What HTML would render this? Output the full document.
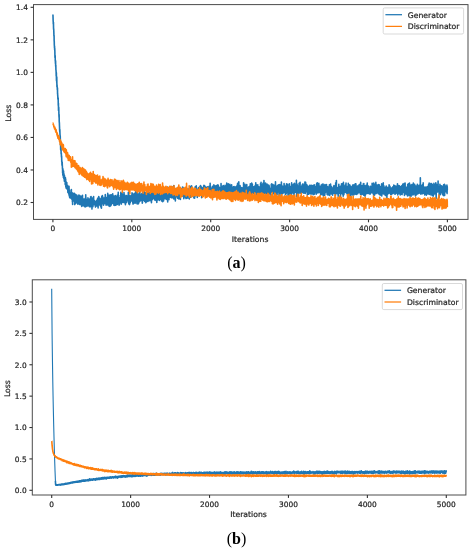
<!DOCTYPE html>
<html lang="en">
<head>
<meta charset="utf-8">
<title>Loss curves</title>
<style>
html,body{margin:0;padding:0;background:#fff;}
body{width:470px;height:550px;overflow:hidden;position:relative;}
svg{position:absolute;left:0;top:0;display:block;}
svg text{font-family:"DejaVu Sans","Liberation Sans",sans-serif;font-size:7.7px;fill:#262626;stroke:#262626;stroke-width:0.22px;}
svg text.tk{font-size:7.45px;}
svg text.cap{font-family:"Liberation Serif","DejaVu Serif",serif;font-size:16px;fill:#000;stroke:none;}
svg text.cap tspan{font-weight:bold;}
</style>
</head>
<body>
<svg width="470" height="550" viewBox="0 0 470 550">
<rect x="0" y="0" width="470" height="550" fill="#ffffff"/>
<g>
<polyline points="52.9,14.5 52.98,15.4 53.06,18.1 53.14,20.8 53.22,21.6 53.29,24.1 53.37,23.7 53.45,22.3 53.53,27.8 53.61,29.5 53.69,28.7 53.77,30.5 53.85,32.6 53.93,36.1 54,35.8 54.08,35.6 54.16,41.3 54.24,41 54.32,45.2 54.4,45.5 54.48,48 54.56,46.3 54.64,49.7 54.71,48 54.79,49.6 54.87,51.7 54.95,57.6 55.03,55.1 55.11,55.5 55.19,56.5 55.27,61.1 55.35,60.4 55.42,62.7 55.5,63.7 55.58,60.8 55.66,66.3 55.74,66 55.82,65.1 55.9,69.7 55.98,70 56.06,70.8 56.13,72.2 56.21,76 56.29,74.6 56.37,72.7 56.45,80.4 56.53,76.4 56.61,79.4 56.69,82.2 56.77,77.1 56.84,81.3 56.92,86.7 57,85.2 57.08,85 57.16,87.9 57.24,86.8 57.32,89.7 57.4,88.9 57.48,88 57.56,94 57.63,93.2 57.71,95.7 57.79,95.4 57.87,99.3 57.95,99.1 58.03,99.4 58.11,97.8 58.19,98.4 58.27,105.2 58.34,105.3 58.42,103.3 58.5,110.4 58.58,108.6 58.66,109.2 58.74,107.3 58.82,110.3 58.9,114.3 58.98,116 59.05,117.4 59.13,114.6 59.21,121 59.29,122.4 59.37,122.5 59.45,125.3 59.53,127 59.61,130.5 59.69,129.7 59.76,132.1 59.84,129.6 59.92,132.3 60,135.3 60.08,134.7 60.16,138.4 60.24,136.1 60.32,140 60.4,139.6 60.47,145.1 60.55,142.6 60.63,148.3 60.71,150.1 60.79,147.6 60.87,150 60.95,148.7 61.03,144.4 61.11,153.2 61.18,153.8 61.26,153 61.34,153.3 61.42,156 61.5,157.1 61.58,155.8 61.66,157.2 61.74,161.8 61.82,160.7 61.89,161.4 61.97,164.7 62.05,162.6 62.13,166 62.21,162.4 62.29,165.2 62.37,166.3 62.45,168.6 62.53,168.3 62.6,173.1 62.68,171.9 62.76,169.1 62.84,175.3 62.92,168.9 63,175.6 63.08,170.2 63.16,174.6 63.24,171.1 63.31,173.3 63.39,177.4 63.47,171.1 63.55,171 63.63,175.4 63.71,176.2 63.79,176.4 63.87,178.6 63.95,173.8 64.02,178.3 64.1,177.5 64.18,179.5 64.26,179.5 64.34,181.3 64.42,175.3 64.5,179.4 64.58,176.7 64.66,179.6 64.73,181.5 64.81,180.9 64.89,181.7 64.97,180.7 65.05,181.8 65.13,181.9 65.21,184.6 65.29,183.6 65.37,177.5 65.45,183.8 65.52,184.9 65.6,181.8 65.68,179.1 65.76,186.5 65.84,183.9 65.92,185.1 66,187.9 66.08,182.1 66.16,184.4 66.23,184.4 66.31,186.5 66.39,183.8 66.47,186.5 66.55,185.9 66.63,188.3 66.71,188.8 66.79,182.5 66.87,187.6 66.94,185.9 67.02,187 67.1,188.2 67.18,188.6 67.26,185.9 67.34,188.5 67.42,188.4 67.5,188.2 67.58,185.2 67.65,186.8 67.73,187.9 67.81,190.4 67.89,192.5 67.97,186.9 68.05,187 68.13,190.3 68.21,188.6 68.29,188.1 68.36,188.1 68.44,188.1 68.52,191.8 68.6,186.7 68.68,194 68.76,188.8 68.84,190 68.92,189.1 69,186.4 69.07,187.7 69.15,194.6 69.23,196 69.31,190 69.39,194.8 69.47,192.6 69.55,190.3 69.63,196.6 69.71,197.8 69.78,192.3 69.86,193.1 69.94,193.9 70.02,193.4 70.1,195.6 70.18,197.2 70.26,194.2 70.34,196.2 70.42,197.9 70.49,192.8 70.57,194.5 70.65,193.3 70.73,196.9 70.81,196.2 70.89,197.1 70.97,197 71.05,194.4 71.13,196.9 71.2,194.2 71.28,194.3 71.36,189.6 71.44,198.8 71.52,193.1 71.6,195.9 71.68,195.8 71.76,199.3 71.84,197.1 71.91,194 71.99,196.4 72.07,196 72.15,197 72.23,193.1 72.31,196.6 72.39,201.8 72.47,198.3 72.55,201.4 72.62,204.5 72.7,198.1 72.78,193.1 72.86,196.9 72.94,199.9 73.02,199.4 73.1,194 73.18,196.9 73.26,197.2 73.34,197.6 73.41,197.4 73.49,195.2 73.57,196 73.65,197.1 73.73,200.2 73.81,196.3 73.89,199.5 73.97,194.7 74.05,201 74.12,198.3 74.2,198.1 74.28,201.2 74.36,193.2 74.44,194 74.52,199.3 74.6,196.1 74.68,197.3 74.76,204.6 74.83,197.7 74.91,198.6 74.99,198.3 75.07,201.1 75.15,199.3 75.23,199.1 75.31,195.3 75.39,197.8 75.47,198.8 75.54,194.5 75.62,200.3 75.7,199.9 75.78,203.4 75.86,194.5 75.94,196.3 76.02,196.5 76.1,197.3 76.18,199 76.25,198.7 76.33,200 76.41,200 76.49,199.4 76.57,195.2 76.65,198 76.73,199.8 76.81,201.1 76.89,201.3 76.96,195.2 77.04,198.4 77.12,199.8 77.2,200.9 77.28,202.7 77.36,200.3 77.44,197.7 77.52,201.2 77.6,200.8 77.67,200.9 77.75,200.1 77.83,204.3 77.91,201.1 77.99,202.6 78.07,198 78.15,202.5 78.23,199 78.31,196.3 78.38,201.5 78.46,202.2 78.54,200.3 78.62,200.9 78.7,203.3 78.78,199.6 78.86,195 78.94,201.6 79.02,201.5 79.09,203.5 79.17,200.1 79.25,204.1 79.33,203.7 79.41,197.4 79.49,203.3 79.57,198 79.65,196.7 79.73,200.5 79.8,199.6 79.88,195.6 79.96,201.8 80.04,202.7 80.12,204.6 80.2,201.2 80.28,197.1 80.36,198.6 80.44,203.7 80.52,203.5 80.59,202.7 80.67,200.7 80.75,202 80.83,200.9 80.91,200.7 80.99,202.3 81.07,201.7 81.15,201 81.23,201.9 81.3,200.2 81.38,196.2 81.46,200 81.54,201.6 81.62,205.9 81.7,200.7 81.78,206.5 81.86,205.2 81.94,199.3 82.01,199.8 82.09,202.3 82.17,206 82.25,202.8 82.33,203.6 82.41,200.1 82.49,195.3 82.57,201.4 82.65,203.9 82.72,204.9 82.8,202.2 82.88,202.5 82.96,204.9 83.04,201.8 83.12,204.9 83.2,198.8 83.28,199 83.36,199 83.43,203.3 83.51,200.7 83.59,202.5 83.67,203.1 83.75,203 83.83,205.4 83.91,205.7 83.99,199.9 84.07,202.7 84.14,201.6 84.22,199.3 84.3,206.5 84.38,204.2 84.46,201.8 84.54,201.1 84.62,203.2 84.7,199.3 84.78,201.7 84.85,205.3 84.93,204.6 85.01,199.9 85.09,201 85.17,206.9 85.25,198.3 85.33,200.6 85.41,198.4 85.49,203.3 85.56,203.1 85.64,205.1 85.72,194.8 85.8,202.8 85.88,197.6 85.96,203.9 86.04,201.9 86.12,206.4 86.2,203.3 86.27,199.4 86.35,205.4 86.43,199.2 86.51,201.3 86.59,204.9 86.67,203.6 86.75,203.4 86.83,202.5 86.91,203.6 86.98,204.3 87.06,203.1 87.14,204.8 87.22,205.5 87.3,202.4 87.38,199.7 87.46,206 87.54,202.3 87.62,203.9 87.69,204.7 87.77,199.8 87.85,203.6 87.93,197.9 88.01,204.2 88.09,201.2 88.17,202.9 88.25,204.1 88.33,200.6 88.41,202.7 88.48,200.5 88.56,202.4 88.64,204.9 88.72,202.5 88.8,202.1 88.88,199.4 88.96,204.5 89.04,202.4 89.12,206.5 89.19,200.3 89.27,204.9 89.35,206.7 89.43,202.4 89.51,199 89.59,206 89.67,204.9 89.75,204.1 89.83,205 89.9,201.1 89.98,204.2 90.06,204 90.14,200.5 90.22,204.1 90.3,201 90.38,204.6 90.46,205.2 90.54,206.7 90.61,196.7 90.69,203 90.77,201.5 90.85,202.3 90.93,201.7 91.01,202.1 91.09,196.5 91.17,204.7 91.25,206 91.32,204.7 91.4,205.5 91.48,200 91.56,199.7 91.64,204.5 91.72,205.6 91.8,203 91.88,198 91.96,209.1 92.03,200.6 92.11,204.8 92.19,199.1 92.27,204.8 92.35,202.9 92.43,205.8 92.51,204.5 92.59,198 92.67,199.7 92.74,203.1 92.82,204.3 92.9,206.8 92.98,203.1 93.06,202.2 93.14,202.3 93.22,202.3 93.3,204.8 93.38,202.3 93.45,202.2 93.53,198.2 93.61,196.5 93.69,202.4 93.77,204 93.85,202.2 93.93,203.6 94.01,203.9 94.09,202.2 94.16,204.6 94.24,200.2 94.32,202.3 94.4,201.3 94.48,202.5 94.56,203.8 94.64,204.3 94.72,202.6 94.8,203.4 94.87,201.3 94.95,202 95.03,205.3 95.11,201.8 95.19,205.3 95.27,203.5 95.35,202.7 95.43,207.1 95.51,201.7 95.58,201.5 95.66,202.3 95.74,203 95.82,202.9 95.9,204.3 95.98,202.6 96.06,203.3 96.14,201.6 96.22,204.9 96.3,201.2 96.37,201.5 96.45,202.2 96.53,203 96.61,200.2 96.69,206 96.77,200.5 96.85,201.1 96.93,201 97.01,200.7 97.08,203.5 97.16,202.5 97.24,199.9 97.32,200.6 97.4,201.2 97.48,205.5 97.56,200.2 97.64,198.3 97.72,198.8 97.79,201.1 97.87,205.6 97.95,199 98.03,202.1 98.11,208 98.19,200.6 98.27,205.4 98.35,204.9 98.43,203.3 98.5,197.9 98.58,202.7 98.66,200.9 98.74,196.5 98.82,197 98.9,202 98.98,202.3 99.06,204.8 99.14,203.4 99.21,200.4 99.29,200.5 99.37,201.4 99.45,198.7 99.53,203.6 99.61,201.8 99.69,199.5 99.77,199.9 99.85,198.4 99.92,200.5 100,202.4 100.08,200.5 100.16,204.1 100.24,205.6 100.32,199.9 100.4,201.7 100.48,200.7 100.56,205.8 100.63,202.5 100.71,203 100.79,203.7 100.87,207.1 100.95,202.4 101.03,198.9 101.11,200.4 101.19,203 101.27,201.6 101.34,199.3 101.42,208.3 101.5,201.8 101.58,199.9 101.66,199.5 101.74,196.4 101.82,198.1 101.9,200.5 101.98,200.6 102.05,199.1 102.13,202.8 102.21,201.5 102.29,198.7 102.37,195.6 102.45,201.8 102.53,201.5 102.61,200.8 102.69,197.4 102.76,201.5 102.84,197 102.92,203.8 103,201.8 103.08,201.9 103.16,199 103.24,198.2 103.32,205.1 103.4,203.6 103.47,200.3 103.55,203 103.63,205.1 103.71,198.2 103.79,199.8 103.87,199.8 103.95,202.5 104.03,198.2 104.11,201.9 104.19,198 104.26,203.5 104.34,203.4 104.42,200.6 104.5,203 104.58,199.2 104.66,200.5 104.74,203.5 104.82,201 104.9,202.1 104.97,198.5 105.05,202.8 105.13,202.3 105.21,197.6 105.29,194.5 105.37,195.2 105.45,201 105.53,200.5 105.61,196.6 105.68,201.5 105.76,203.5 105.84,200.8 105.92,199.8 106,203.2 106.08,205.2 106.16,204.6 106.24,199.1 106.32,203 106.39,201.4 106.47,200.4 106.55,199.2 106.63,201.9 106.71,199.6 106.79,203.2 106.87,201.9 106.95,203.6 107.03,197.6 107.1,201.1 107.18,202.8 107.26,201.9 107.34,201.6 107.42,198.9 107.5,204.9 107.58,203.5 107.66,201.9 107.74,193.4 107.81,198.1 107.89,201.2 107.97,198.8 108.05,194.8 108.13,201.5 108.21,201.8 108.29,197.3 108.37,199.4 108.45,198.9 108.52,202.2 108.6,195.1 108.68,195.8 108.76,199.2 108.84,198.8 108.92,205.9 109,199 109.08,201.3 109.16,199.6 109.23,198.8 109.31,201.7 109.39,205 109.47,199.7 109.55,202.7 109.63,201.6 109.71,202.3 109.79,201.7 109.87,206.5 109.94,197.1 110.02,200 110.1,197.5 110.18,194.8 110.26,200.7 110.34,205.2 110.42,203 110.5,203.7 110.58,202 110.65,200.5 110.73,205.7 110.81,199.7 110.89,204.4 110.97,199.8 111.05,201 111.13,201.5 111.21,200.9 111.29,202 111.36,202.2 111.44,204.8 111.52,200.7 111.6,195.1 111.68,194.7 111.76,196.7 111.84,198.5 111.92,202.3 112,196.3 112.07,200.8 112.15,200.8 112.23,201.3 112.31,200.3 112.39,201.7 112.47,200.8 112.55,203.3 112.63,201.5 112.71,193.7 112.79,200.7 112.86,201.2 112.94,199 113.02,198.4 113.1,203.3 113.18,201.1 113.26,197.8 113.34,199.7 113.42,200.2 113.5,195.9 113.57,202.2 113.65,200.3 113.73,201.8 113.81,196 113.89,205.3 113.97,202.1 114.05,201.8 114.13,198.5 114.21,198.6 114.28,196.3 114.36,204.3 114.44,198.2 114.52,201.2 114.6,202.1 114.68,198.8 114.76,202.7 114.84,205.5 114.92,201.3 114.99,204.1 115.07,202 115.15,199.3 115.23,199.4 115.31,195.6 115.39,200.8 115.47,204.1 115.55,202.2 115.63,202.6 115.7,203.3 115.78,199 115.86,201.9 115.94,205.2 116.02,198.2 116.1,200.6 116.18,199.2 116.26,200 116.34,198.4 116.41,200.2 116.49,196.5 116.57,199 116.65,199.1 116.73,199 116.81,203.8 116.89,200.6 116.97,200.9 117.05,199.6 117.12,203.6 117.2,195.3 117.28,199.9 117.36,203.2 117.44,204.4 117.52,200.9 117.6,200.4 117.68,201.9 117.76,199.9 117.83,201.7 117.91,198.5 117.99,201.9 118.07,200.2 118.15,197.2 118.23,192.4 118.31,202.6 118.39,201.2 118.47,202.1 118.54,197.7 118.62,202.9 118.7,201.3 118.78,200.1 118.86,202.5 118.94,202.4 119.02,201.2 119.1,205.2 119.18,203.6 119.25,201 119.33,199.6 119.41,200.4 119.49,204.4 119.57,201.1 119.65,197.6 119.73,198.3 119.81,200.1 119.89,202.1 119.97,198 120.04,201.4 120.12,202.8 120.2,201.9 120.28,195.6 120.36,199.2 120.44,196.4 120.52,201.1 120.6,197.1 120.68,201.4 120.75,200.2 120.83,192.4 120.91,197.5 120.99,201.1 121.07,200 121.15,198.8 121.23,196.2 121.31,201 121.39,204.1 121.46,200.5 121.54,199.7 121.62,199.4 121.7,195.8 121.78,198.8 121.86,197.3 121.94,202.5 122.02,197.1 122.1,193.4 122.17,197.4 122.25,199 122.33,199.2 122.41,194.3 122.49,202 122.57,200 122.65,198.3 122.73,197.4 122.81,200.7 122.88,198.7 122.96,200.3 123.04,199.3 123.12,200 123.2,202.4 123.28,199.7 123.36,197 123.44,202 123.52,200.2 123.59,197.6 123.67,202.2 123.75,199 123.83,202.2 123.91,196.1 123.99,192.6 124.07,193.5 124.15,200.1 124.23,197.3 124.3,199.1 124.38,199.2 124.46,194.8 124.54,202.7 124.62,196.3 124.7,199.6 124.78,195.2 124.86,198.9 124.94,201.1 125.01,198.6 125.09,197.2 125.17,199.3 125.25,198 125.33,200.7 125.41,204.7 125.49,196.7 125.57,197.3 125.65,198.9 125.72,199.2 125.8,196.2 125.88,200.5 125.96,201.1 126.04,199.8 126.12,195.8 126.2,202.7 126.28,195.7 126.36,200.9 126.43,202 126.51,195.5 126.59,199.5 126.67,202.5 126.75,200.2 126.83,196.5 126.91,195.7 126.99,200.3 127.07,198 127.14,197.1 127.22,200.8 127.3,198.1 127.38,199.3 127.46,200.5 127.54,200.4 127.62,199 127.7,199.1 127.78,200.6 127.85,200.2 127.93,195.8 128.01,198.5 128.09,196.5 128.17,195.5 128.25,197.3 128.33,192.3 128.41,201.1 128.49,196.7 128.57,199.9 128.64,193.5 128.72,194 128.8,203.9 128.88,201.4 128.96,197 129.04,196.7 129.12,196.8 129.2,199.2 129.28,197.6 129.35,197 129.43,199.2 129.51,195.9 129.59,204.6 129.67,197.1 129.75,201.5 129.83,196.1 129.91,199.5 129.99,201.1 130.06,197.8 130.14,201.2 130.22,201.2 130.3,202.8 130.38,199 130.46,197.4 130.54,195.8 130.62,199.2 130.7,195.7 130.77,198.8 130.85,199.1 130.93,197.1 131.01,195.6 131.09,199.7 131.17,199.4 131.25,199.2 131.33,198.5 131.41,201 131.48,195.7 131.56,199.8 131.64,197.4 131.72,200.8 131.8,197.7 131.88,197.6 131.96,199.8 132.04,192.7 132.12,197.6 132.19,193.4 132.27,195.8 132.35,200.3 132.43,199.6 132.51,197.4 132.59,198.5 132.67,198.5 132.75,199.4 132.83,203.1 132.9,199.2 132.98,204.1 133.06,197.5 133.14,200.4 133.22,200.4 133.3,199.1 133.38,197.8 133.46,202.1 133.54,202.9 133.61,201.2 133.69,203.6 133.77,200.9 133.85,193.8 133.93,201.1 134.01,196.6 134.09,201.9 134.17,197.6 134.25,199.3 134.32,198.6 134.4,196.8 134.48,193.2 134.56,197.9 134.64,198.1 134.72,200.9 134.8,196.7 134.88,199 134.96,195.9 135.03,198.5 135.11,193.2 135.19,203.3 135.27,199.1 135.35,195.7 135.43,199.2 135.51,200.3 135.59,199 135.67,201.8 135.75,198 135.82,191 135.9,194.9 135.98,201.1 136.06,200.5 136.14,199.3 136.22,195.3 136.3,200.3 136.38,200 136.46,195.6 136.53,195.7 136.61,199.2 136.69,201 136.77,202.1 136.85,200 136.93,203.7 137.01,196 137.09,199.8 137.17,196.8 137.24,192.6 137.32,194.7 137.4,201 137.48,195.6 137.56,194.7 137.64,200 137.72,200.5 137.8,198.4 137.88,202.1 137.95,193.7 138.03,204.1 138.11,200.8 138.19,198.8 138.27,198.7 138.35,197.6 138.43,197.3 138.51,198.6 138.59,194.6 138.66,203.3 138.74,198.1 138.82,199.8 138.9,197.6 138.98,197.4 139.06,200.3 139.14,199.6 139.22,195.6 139.3,196.9 139.37,199.7 139.45,191.8 139.53,191 139.61,201.6 139.69,197 139.77,190.4 139.85,195.6 139.93,197.3 140.01,198.4 140.08,199.2 140.16,198.4 140.24,199.3 140.32,195.6 140.4,198.9 140.48,199 140.56,200.8 140.64,198 140.72,200.1 140.79,198.3 140.87,194.7 140.95,196.7 141.03,196.3 141.11,196.7 141.19,197.6 141.27,198.1 141.35,198.5 141.43,195.5 141.5,200.4 141.58,193.7 141.66,197.6 141.74,199.6 141.82,198.9 141.9,199.4 141.98,197.2 142.06,199.5 142.14,194.3 142.21,199.6 142.29,203.3 142.37,199.5 142.45,202.6 142.53,197.8 142.61,194.5 142.69,195.7 142.77,200.9 142.85,199.5 142.92,192.3 143,196.7 143.08,197.6 143.16,194.4 143.24,190.2 143.32,193.7 143.4,197.1 143.48,196.5 143.56,195.7 143.63,199.1 143.71,200.1 143.79,197.4 143.87,199.9 143.95,197.7 144.03,197.2 144.11,190.5 144.19,199.6 144.27,197.8 144.35,197.9 144.42,196.1 144.5,194.3 144.58,198.7 144.66,199.5 144.74,201.5 144.82,199.7 144.9,195.8 144.98,197.3 145.06,199.9 145.13,198.3 145.21,197.3 145.29,195.9 145.37,198.8 145.45,198 145.53,201.8 145.61,200.2 145.69,192.5 145.77,202.7 145.84,198.1 145.92,196.6 146,198.2 146.08,199.3 146.16,197.4 146.24,197.3 146.32,197.5 146.4,201.9 146.48,197.6 146.55,199.3 146.63,198.6 146.71,196.5 146.79,195.3 146.87,194.5 146.95,198.4 147.03,194.4 147.11,193.6 147.19,193.8 147.26,193 147.34,197.5 147.42,197.6 147.5,194.7 147.58,200.5 147.66,196.5 147.74,198.4 147.82,198 147.9,201.4 147.97,199.3 148.05,197.1 148.13,194.4 148.21,194.1 148.29,197.2 148.37,197.5 148.45,199.1 148.53,195.8 148.61,197.6 148.68,195.2 148.76,191.7 148.84,197.1 148.92,200.7 149,199.1 149.08,200.6 149.16,199.9 149.24,193 149.32,196.3 149.39,200.7 149.47,195 149.55,193.1 149.63,197.8 149.71,198.6 149.79,197.7 149.87,196 149.95,194.9 150.03,193.3 150.1,193.2 150.18,193.3 150.26,192.7 150.34,194.8 150.42,200.6 150.5,197.1 150.58,195.9 150.66,197.7 150.74,194 150.81,197.7 150.89,199.1 150.97,192.4 151.05,194.8 151.13,196.1 151.21,194 151.29,193.5 151.37,195.7 151.45,202.8 151.53,198.4 151.6,197.8 151.68,199.1 151.76,196.1 151.84,193.1 151.92,197.9 152,199.5 152.08,190.5 152.16,197.8 152.24,199.7 152.31,195.9 152.39,195.3 152.47,198.3 152.55,194.2 152.63,197.8 152.71,198.9 152.79,196 152.87,194.2 152.95,198.1 153.02,195.5 153.1,196.8 153.18,188 153.26,198.3 153.34,192.3 153.42,196.6 153.5,196.8 153.58,194.3 153.66,193.8 153.73,192.7 153.81,195.5 153.89,197.9 153.97,197.8 154.05,194.9 154.13,194.7 154.21,192.2 154.29,195.2 154.37,193.2 154.44,191.8 154.52,195.9 154.6,200 154.68,199.3 154.76,199.9 154.84,191.6 154.92,198.4 155,192.6 155.08,194.6 155.15,191.2 155.23,193.3 155.31,196.6 155.39,196.8 155.47,196 155.55,195.7 155.63,197.6 155.71,196.3 155.79,191.4 155.86,200.4 155.94,195.5 156.02,198.5 156.1,195.7 156.18,193.7 156.26,196.3 156.34,193.9 156.42,200.1 156.5,192.8 156.57,197.7 156.65,194.3 156.73,195.6 156.81,202.5 156.89,198 156.97,195.5 157.05,191.4 157.13,195.2 157.21,195.3 157.28,199.6 157.36,191.8 157.44,190.6 157.52,196 157.6,196.6 157.68,200 157.76,193.4 157.84,187.9 157.92,193.9 157.99,192.2 158.07,194.4 158.15,198.4 158.23,192 158.31,199 158.39,196.5 158.47,195.1 158.55,193.3 158.63,194.7 158.7,194.8 158.78,197.8 158.86,199.1 158.94,195.7 159.02,197.7 159.1,199.1 159.18,199 159.26,197.1 159.34,200.4 159.41,199.2 159.49,199.9 159.57,195.3 159.65,194.6 159.73,189.8 159.81,199.5 159.89,197.5 159.97,193.1 160.05,196.3 160.13,196.6 160.2,190.6 160.28,196.6 160.36,198.6 160.44,199 160.52,194.7 160.6,194.8 160.68,199.1 160.76,198.2 160.84,194.1 160.91,194 160.99,197.3 161.07,193.8 161.15,194 161.23,200.1 161.31,196.4 161.39,194.4 161.47,197.1 161.55,200.9 161.62,196.3 161.7,193.4 161.78,190.9 161.86,201 161.94,187.7 162.02,198.4 162.1,192.7 162.18,191.9 162.26,192.6 162.33,195.1 162.41,198.4 162.49,193.7 162.57,197.3 162.65,201.8 162.73,187 162.81,193.4 162.89,190 162.97,197.7 163.04,191.1 163.12,190.7 163.2,190.8 163.28,195.5 163.36,198.4 163.44,195.9 163.52,200.9 163.6,199.6 163.68,195.2 163.75,197.9 163.83,195.8 163.91,195.7 163.99,189.6 164.07,191.5 164.15,195.5 164.23,191.7 164.31,197.3 164.39,196.2 164.46,192.6 164.54,198.4 164.62,196 164.7,198.6 164.78,195 164.86,190.4 164.94,197.2 165.02,194.6 165.1,197.5 165.17,198.1 165.25,198.3 165.33,190.9 165.41,188.2 165.49,193.8 165.57,197 165.65,193.1 165.73,196 165.81,192.8 165.88,194.3 165.96,194.4 166.04,193.4 166.12,196.6 166.2,196.2 166.28,199.4 166.36,196.2 166.44,198.7 166.52,195.5 166.59,197.5 166.67,194.8 166.75,193.8 166.83,198.6 166.91,197.1 166.99,197.4 167.07,192.8 167.15,190 167.23,192.5 167.31,195.9 167.38,190.7 167.46,198.8 167.54,190.5 167.62,196.7 167.7,201.9 167.78,187.1 167.86,190.3 167.94,197.6 168.02,194.5 168.09,195.5 168.17,194.7 168.25,198.6 168.33,196.6 168.41,193.6 168.49,194.3 168.57,191.3 168.65,194.7 168.73,187.9 168.8,196.7 168.88,194.1 168.96,199.6 169.04,198 169.12,190.9 169.2,197.2 169.28,193.3 169.36,195 169.44,197.4 169.51,195.7 169.59,196.1 169.67,196 169.75,192.6 169.83,192.9 169.91,196.2 169.99,197 170.07,194 170.15,195 170.22,191.7 170.3,186.8 170.38,192.2 170.46,194.9 170.54,195.2 170.62,196.9 170.7,197 170.78,197.2 170.86,195.7 170.93,195.8 171.01,192.5 171.09,195.7 171.17,195.2 171.25,197.7 171.33,189.7 171.41,193.2 171.49,189.3 171.57,192.3 171.64,190.2 171.72,195.3 171.8,192.5 171.88,186.5 171.96,197.6 172.04,191.1 172.12,189.5 172.2,193.3 172.28,192.3 172.35,190.7 172.43,196.2 172.51,193.3 172.59,196.8 172.67,196.3 172.75,196.1 172.83,194.9 172.91,194.1 172.99,193.1 173.06,198.1 173.14,188.4 173.22,191 173.3,192.3 173.38,195.4 173.46,194.7 173.54,192.8 173.62,193.2 173.7,198.7 173.77,192.2 173.85,185.5 173.93,199.1 174.01,191.4 174.09,193.3 174.17,194.7 174.25,190.2 174.33,197.4 174.41,193.9 174.48,189.9 174.56,194.9 174.64,195.4 174.72,194 174.8,195.5 174.88,189.6 174.96,196.6 175.04,191.6 175.12,197.5 175.19,192.3 175.27,194.6 175.35,200.9 175.43,194.3 175.51,197 175.59,195.4 175.67,189.5 175.75,197.1 175.83,197 175.91,189.8 175.98,193.9 176.06,189.5 176.14,193.2 176.22,196.5 176.3,194.4 176.38,190.4 176.46,191.3 176.54,194.2 176.62,194 176.69,194.5 176.77,195.6 176.85,188.2 176.93,194.1 177.01,197 177.09,195.4 177.17,191.9 177.25,192.1 177.33,194.5 177.4,195.8 177.48,194 177.56,198.3 177.64,197.4 177.72,191.6 177.8,195.3 177.88,192.9 177.96,190.3 178.04,192 178.11,194 178.19,187.5 178.27,192 178.35,194.9 178.43,191.8 178.51,192.7 178.59,196.2 178.67,193.8 178.75,194.4 178.82,199 178.9,194.4 178.98,194.7 179.06,195.1 179.14,198.1 179.22,194.8 179.3,194 179.38,193.6 179.46,196.8 179.53,192 179.61,197 179.69,194.5 179.77,189.9 179.85,195.6 179.93,195.2 180.01,190.6 180.09,194.8 180.17,194.6 180.24,193.2 180.32,190.6 180.4,199.4 180.48,195.9 180.56,196.4 180.64,196.6 180.72,196 180.8,195.9 180.88,192.9 180.95,196 181.03,193.4 181.11,192.5 181.19,195.6 181.27,193.3 181.35,188.7 181.43,192.7 181.51,195.3 181.59,193.9 181.66,196 181.74,192.9 181.82,191 181.9,195.8 181.98,194.2 182.06,190.3 182.14,194.9 182.22,193.1 182.3,196.2 182.37,195.7 182.45,194.9 182.53,187.1 182.61,194.6 182.69,194.9 182.77,195 182.85,194 182.93,191.6 183.01,193 183.09,187.4 183.16,192.9 183.24,189.2 183.32,192.7 183.4,191.7 183.48,197.1 183.56,193.8 183.64,193.7 183.72,194.1 183.8,198.8 183.87,190.9 183.95,194.4 184.03,194.6 184.11,194.1 184.19,194 184.27,192.2 184.35,196.6 184.43,195.7 184.51,192.6 184.58,193 184.66,194.4 184.74,194.8 184.82,195.5 184.9,193.5 184.98,189.8 185.06,196 185.14,188.8 185.22,190.8 185.29,194.5 185.37,191 185.45,197 185.53,197.6 185.61,196.5 185.69,194.3 185.77,194.1 185.85,194.6 185.93,193 186,198.6 186.08,191.8 186.16,196.8 186.24,194.9 186.32,194.3 186.4,196.1 186.48,196.6 186.56,195.7 186.64,193.3 186.71,191.5 186.79,191.5 186.87,195.7 186.95,195.2 187.03,195.5 187.11,191.8 187.19,198.2 187.27,189.5 187.35,194.4 187.42,195.1 187.5,192.1 187.58,190 187.66,192.1 187.74,190 187.82,192.7 187.9,189.4 187.98,189.4 188.06,193.4 188.13,188.8 188.21,192.6 188.29,192.8 188.37,195.4 188.45,193.8 188.53,190.7 188.61,196.3 188.69,191.1 188.77,192 188.84,192.2 188.92,198.5 189,193.3 189.08,191.1 189.16,194.9 189.24,192.7 189.32,198.9 189.4,191 189.48,194.6 189.55,190.4 189.63,197.5 189.71,190.9 189.79,193.5 189.87,190.5 189.95,195.2 190.03,194.5 190.11,186.2 190.19,195 190.26,194.7 190.34,193.6 190.42,195.4 190.5,189.3 190.58,187.7 190.66,194.6 190.74,197.1 190.82,189.3 190.9,189.5 190.97,190.4 191.05,189.4 191.13,195 191.21,193.2 191.29,196.2 191.37,196.3 191.45,189.9 191.53,194.5 191.61,185.9 191.69,192.6 191.76,194.4 191.84,190.4 191.92,187.3 192,191.3 192.08,195.8 192.16,191.6 192.24,188.6 192.32,193.9 192.4,194.6 192.47,189.7 192.55,192.3 192.63,195.4 192.71,193.6 192.79,194.6 192.87,191.8 192.95,192.3 193.03,189.2 193.11,190.5 193.18,196.5 193.26,191.4 193.34,189.9 193.42,191.3 193.5,189.5 193.58,194 193.66,195 193.74,189.8 193.82,195.2 193.89,197.9 193.97,189.5 194.05,194.4 194.13,193.3 194.21,196 194.29,195.8 194.37,195.4 194.45,193.4 194.53,191.4 194.6,198.2 194.68,190.3 194.76,195.4 194.84,195.1 194.92,190.5 195,192.7 195.08,196.3 195.16,186.9 195.24,194.6 195.31,191.7 195.39,191.9 195.47,188.2 195.55,193.6 195.63,189.4 195.71,194.3 195.79,189.1 195.87,194.3 195.95,193.3 196.02,186.7 196.1,191.5 196.18,192.1 196.26,185.7 196.34,191.3 196.42,194.4 196.5,190.2 196.58,195.3 196.66,189 196.73,188.7 196.81,193.8 196.89,193.9 196.97,191.8 197.05,192.3 197.13,194.7 197.21,190.6 197.29,197.4 197.37,193.4 197.44,193.3 197.52,193 197.6,191.4 197.68,195.3 197.76,190.5 197.84,192.7 197.92,193.9 198,195.6 198.08,195.2 198.15,191.2 198.23,194.6 198.31,192 198.39,189 198.47,189.1 198.55,187.5 198.63,192.9 198.71,194.9 198.79,189.1 198.87,191.3 198.94,188.8 199.02,192.1 199.1,188.6 199.18,189.6 199.26,190 199.34,190.6 199.42,190.9 199.5,191.4 199.58,191.5 199.65,189.2 199.73,193.4 199.81,186.9 199.89,192.4 199.97,189.1 200.05,192.3 200.13,192.7 200.21,186 200.29,192.8 200.36,195.2 200.44,193.8 200.52,192.8 200.6,185.6 200.68,191.4 200.76,189.2 200.84,194.5 200.92,191 201,190 201.07,186.6 201.15,193.7 201.23,190.2 201.31,191.1 201.39,194.5 201.47,192 201.55,192.6 201.63,197.7 201.71,190.2 201.78,190.3 201.86,193 201.94,195.3 202.02,187.5 202.1,191.1 202.18,188.9 202.26,187.7 202.34,193.2 202.42,189.5 202.49,192.5 202.57,192.1 202.65,192.1 202.73,191.9 202.81,188.6 202.89,191.5 202.97,192.3 203.05,192.6 203.13,190.9 203.2,194.1 203.28,193.1 203.36,192 203.44,193.3 203.52,192.1 203.6,193.4 203.68,185.8 203.76,187.8 203.84,190.5 203.91,192 203.99,185.2 204.07,190.8 204.15,192 204.23,190.9 204.31,190.9 204.39,187.6 204.47,191.8 204.55,185.5 204.62,194 204.7,189.7 204.78,194.2 204.86,186.3 204.94,192.6 205.02,191.9 205.1,189 205.18,188 205.26,194.5 205.33,192.6 205.41,195.2 205.49,191.3 205.57,192 205.65,192.6 205.73,193.4 205.81,192.7 205.89,193.5 205.97,190.1 206.04,187.1 206.12,196.5 206.2,192 206.28,192.7 206.36,190.2 206.44,194 206.52,192 206.6,194.2 206.68,189.6 206.75,191.4 206.83,192 206.91,190.5 206.99,192.2 207.07,195.5 207.15,189.8 207.23,190.8 207.31,192 207.39,188.7 207.47,187.9 207.54,194.3 207.62,193.5 207.7,186.9 207.78,187.3 207.86,193.4 207.94,194.5 208.02,193.2 208.1,192.8 208.18,195.5 208.25,191.5 208.33,194.7 208.41,194.5 208.49,188.8 208.57,193.2 208.65,191.7 208.73,189.6 208.81,189.1 208.89,192.4 208.96,191.4 209.04,193.6 209.12,186.3 209.2,189.6 209.28,194.2 209.36,191.5 209.44,189.4 209.52,190.1 209.6,186 209.67,187.4 209.75,192.8 209.83,191.7 209.91,194.6 209.99,190.7 210.07,191 210.15,183.3 210.23,191.2 210.31,196.6 210.38,193.1 210.46,191.1 210.54,194.5 210.62,193.6 210.7,192.3 210.78,190.4 210.86,191.8 210.94,193.6 211.02,189.1 211.09,192.8 211.17,192.7 211.25,194.8 211.33,193.4 211.41,189.4 211.49,195.4 211.57,191.6 211.65,189.2 211.73,192.3 211.8,190.7 211.88,194.1 211.96,187.4 212.04,188.1 212.12,190.7 212.2,195.7 212.28,193.9 212.36,188.4 212.44,186.2 212.51,190.5 212.59,187.6 212.67,192.8 212.75,191.8 212.83,191.3 212.91,190.1 212.99,195.1 213.07,188.5 213.15,187.4 213.22,194.2 213.3,194.7 213.38,190.3 213.46,192.9 213.54,197.2 213.62,188.9 213.7,190.8 213.78,192.5 213.86,184.9 213.93,190.9 214.01,193.1 214.09,191 214.17,193.8 214.25,193.2 214.33,190.1 214.41,192.6 214.49,192.4 214.57,186.2 214.65,188.7 214.72,188.8 214.8,189.7 214.88,189.8 214.96,186.9 215.04,191.3 215.12,185.7 215.2,193.6 215.28,191.9 215.36,194.6 215.43,192.1 215.51,189.7 215.59,186.9 215.67,192.8 215.75,191.2 215.83,192.1 215.91,193 215.99,194.1 216.07,191 216.14,195.5 216.22,190.9 216.3,191.1 216.38,192.8 216.46,193.7 216.54,194.6 216.62,185.5 216.7,194.5 216.78,186.5 216.85,189.4 216.93,192.1 217.01,194 217.09,188 217.17,185.9 217.25,193.4 217.33,191.9 217.41,188 217.49,190.1 217.56,185.1 217.64,192.5 217.72,189.5 217.8,194.2 217.88,184.8 217.96,192.9 218.04,196.6 218.12,191.4 218.2,191.4 218.27,185.3 218.35,191.9 218.43,191.1 218.51,189.3 218.59,186.3 218.67,191.2 218.75,188 218.83,189.5 218.91,191.8 218.98,190.8 219.06,191 219.14,193.3 219.22,187.4 219.3,194.5 219.38,187.5 219.46,188.2 219.54,191.3 219.62,192.9 219.69,191.6 219.77,189.6 219.85,188.8 219.93,190.2 220.01,188 220.09,192.4 220.17,190.3 220.25,194.9 220.33,188.7 220.4,190.5 220.48,192 220.56,187.5 220.64,188.9 220.72,197.9 220.8,190.9 220.88,194.6 220.96,187.8 221.04,183.5 221.11,192.3 221.19,190.7 221.27,191.6 221.35,189.9 221.43,189 221.51,187.1 221.59,193.4 221.67,186.2 221.75,193.3 221.82,190.1 221.9,187.5 221.98,188.8 222.06,193.3 222.14,192.7 222.22,192.1 222.3,191.1 222.38,187.5 222.46,194.1 222.53,189.5 222.61,189.1 222.69,189.2 222.77,189.5 222.85,186.3 222.93,189.4 223.01,188.3 223.09,189.2 223.17,185.5 223.25,195.6 223.32,187 223.4,191.5 223.48,191.6 223.56,193.3 223.64,195.5 223.72,191.8 223.8,192.6 223.88,189.4 223.96,194.5 224.03,186.6 224.11,190 224.19,191.5 224.27,192.6 224.35,192.8 224.43,193.6 224.51,192.2 224.59,190.8 224.67,191.3 224.74,194.3 224.82,191.5 224.9,193 224.98,190.3 225.06,185.2 225.14,188.9 225.22,191.6 225.3,194.8 225.38,194.3 225.45,195 225.53,188.6 225.61,192.7 225.69,190.6 225.77,192.3 225.85,190.5 225.93,186.6 226.01,192.5 226.09,191.6 226.16,192.8 226.24,188.1 226.32,193.3 226.4,193.6 226.48,194.2 226.56,194.2 226.64,189.3 226.72,183 226.8,193.2 226.87,187.9 226.95,190 227.03,193.5 227.11,191.4 227.19,191.3 227.27,192.4 227.35,184.9 227.43,195.4 227.51,189.6 227.58,189.7 227.66,192.2 227.74,190.3 227.82,188.1 227.9,190.3 227.98,189.5 228.06,188.6 228.14,195.7 228.22,186.3 228.29,183.8 228.37,187.7 228.45,187.6 228.53,194.2 228.61,191 228.69,192.7 228.77,192.1 228.85,187.8 228.93,192.7 229,191 229.08,195.4 229.16,191.1 229.24,190.4 229.32,192.4 229.4,192.4 229.48,185 229.56,193.6 229.64,193.2 229.71,192.6 229.79,187 229.87,184.3 229.95,189.6 230.03,192.4 230.11,191.7 230.19,187.4 230.27,192.9 230.35,186.3 230.43,186.4 230.5,190.4 230.58,188.7 230.66,188.4 230.74,185.9 230.82,193.2 230.9,187.1 230.98,191.5 231.06,192.5 231.14,190.3 231.21,191.1 231.29,193 231.37,194.5 231.45,192.9 231.53,186.2 231.61,184.7 231.69,188.6 231.77,187 231.85,191.9 231.92,190.8 232,189.7 232.08,193.2 232.16,193 232.24,190.3 232.32,191.3 232.4,193.2 232.48,189.4 232.56,191.2 232.63,187.5 232.71,190.6 232.79,191.3 232.87,190.2 232.95,191 233.03,192.2 233.11,191.5 233.19,188.3 233.27,188.6 233.34,186.7 233.42,194.7 233.5,191.5 233.58,191.5 233.66,190 233.74,191.6 233.82,191.8 233.9,188.2 233.98,190 234.05,193.4 234.13,186.5 234.21,187.5 234.29,191.9 234.37,188 234.45,192.3 234.53,187.1 234.61,191 234.69,192.5 234.76,191.4 234.84,192.4 234.92,189.9 235,189.9 235.08,190.4 235.16,191.8 235.24,199.5 235.32,190.2 235.4,195.1 235.47,189.7 235.55,187.1 235.63,189.6 235.71,191.4 235.79,190.9 235.87,190.8 235.95,191.8 236.03,191.9 236.11,192.7 236.18,186.9 236.26,190.5 236.34,187.6 236.42,191 236.5,190.2 236.58,190.8 236.66,189 236.74,187.9 236.82,189.7 236.89,192.1 236.97,192.3 237.05,185.4 237.13,191.1 237.21,191.1 237.29,186 237.37,187.1 237.45,188.8 237.53,191.4 237.6,183.3 237.68,189.2 237.76,188.7 237.84,190.8 237.92,193.9 238,193.7 238.08,189.2 238.16,189.2 238.24,191 238.31,193.3 238.39,193.9 238.47,191.2 238.55,194 238.63,187.7 238.71,186.9 238.79,181.9 238.87,187.7 238.95,191.8 239.03,192.5 239.1,198.9 239.18,191.8 239.26,190.8 239.34,187.4 239.42,188.5 239.5,188.6 239.58,189.7 239.66,188.4 239.74,186 239.81,193 239.89,191.5 239.97,193.8 240.05,185.5 240.13,186.4 240.21,188.1 240.29,193.3 240.37,189.8 240.45,190.9 240.52,190.1 240.6,190.8 240.68,188.8 240.76,191.3 240.84,187.7 240.92,189.6 241,191 241.08,190.6 241.16,191.4 241.23,187.9 241.31,191 241.39,189.4 241.47,191.3 241.55,194 241.63,187.6 241.71,192.9 241.79,188.3 241.87,189 241.94,194.4 242.02,192.6 242.1,191.6 242.18,192.3 242.26,193.2 242.34,188.1 242.42,190.9 242.5,189.1 242.58,191.3 242.65,189.4 242.73,192.1 242.81,190.3 242.89,188.5 242.97,190.1 243.05,191.4 243.13,192.9 243.21,189.8 243.29,189.2 243.36,190.9 243.44,192.2 243.52,188.6 243.6,182.8 243.68,191 243.76,189.2 243.84,189.1 243.92,196.6 244,189.9 244.07,192 244.15,186.1 244.23,190.9 244.31,192.2 244.39,190.8 244.47,189.7 244.55,191.6 244.63,190.4 244.71,193.6 244.78,190.8 244.86,187.9 244.94,184.3 245.02,188.1 245.1,189.4 245.18,186.7 245.26,187.2 245.34,185.2 245.42,187 245.49,190.5 245.57,189.4 245.65,189.7 245.73,189.3 245.81,189.6 245.89,192.1 245.97,195.4 246.05,191.9 246.13,195.2 246.21,190 246.28,190.2 246.36,194.3 246.44,188.1 246.52,187.6 246.6,189.9 246.68,185.2 246.76,184.6 246.84,193.2 246.92,187.1 246.99,188.9 247.07,188.9 247.15,187.4 247.23,192 247.31,191.6 247.39,192.2 247.47,192 247.55,190.4 247.63,193.8 247.7,192.8 247.78,188.4 247.86,190.3 247.94,189 248.02,194.8 248.1,192.1 248.18,191.5 248.26,190.1 248.34,191.6 248.41,187.4 248.49,190.3 248.57,190.1 248.65,190.1 248.73,188 248.81,191.3 248.89,186.8 248.97,188.8 249.05,189.7 249.12,190 249.2,188.6 249.28,187.1 249.36,187.3 249.44,189 249.52,187.5 249.6,189.8 249.68,186.4 249.76,190.2 249.83,195.3 249.91,186.1 249.99,189.8 250.07,193 250.15,190.6 250.23,192.3 250.31,183.8 250.39,188.6 250.47,194 250.54,188.5 250.62,191.1 250.7,184.4 250.78,192.7 250.86,195.7 250.94,189.9 251.02,191 251.1,191.2 251.18,195.4 251.25,188.8 251.33,185.1 251.41,194.8 251.49,186.6 251.57,191.5 251.65,183.1 251.73,188.8 251.81,190.6 251.89,186.8 251.96,188.5 252.04,191.6 252.12,188 252.2,191.4 252.28,194.5 252.36,184 252.44,191 252.52,191.6 252.6,189.1 252.67,194 252.75,193.4 252.83,191.3 252.91,191.4 252.99,189.9 253.07,186.7 253.15,191.3 253.23,188.6 253.31,188.3 253.38,192.8 253.46,189.4 253.54,192.4 253.62,186.9 253.7,188.7 253.78,190 253.86,193.4 253.94,189.7 254.02,192 254.09,188 254.17,190.4 254.25,192.1 254.33,187.3 254.41,187.9 254.49,191.5 254.57,186.6 254.65,190.8 254.73,190.8 254.81,189.7 254.88,191.9 254.96,191.2 255.04,190.5 255.12,185.5 255.2,185.6 255.28,190.7 255.36,185.2 255.44,190.2 255.52,188.9 255.59,187.4 255.67,189.2 255.75,182.8 255.83,189.3 255.91,193 255.99,186.1 256.07,191.1 256.15,190.8 256.23,197.4 256.3,187.1 256.38,187.6 256.46,187.7 256.54,187.1 256.62,185 256.7,190.2 256.78,187.2 256.86,191.9 256.94,190.9 257.01,186.9 257.09,188.9 257.17,193.3 257.25,189 257.33,190.5 257.41,192.1 257.49,188.7 257.57,191 257.65,193.9 257.72,192.8 257.8,184.7 257.88,193.8 257.96,189.4 258.04,188.2 258.12,188.1 258.2,193.1 258.28,190.8 258.36,189.6 258.43,187.6 258.51,191.6 258.59,192.9 258.67,187 258.75,186.7 258.83,188.9 258.91,191.5 258.99,188.8 259.07,189.7 259.14,187.5 259.22,193.1 259.3,189.7 259.38,190.4 259.46,192.8 259.54,189.4 259.62,189.9 259.7,191 259.78,188.8 259.85,193.5 259.93,190.1 260.01,188.7 260.09,189.2 260.17,186.8 260.25,193 260.33,193.7 260.41,189.3 260.49,188.6 260.56,183.6 260.64,188.2 260.72,192.2 260.8,187.6 260.88,192.1 260.96,193.7 261.04,182.2 261.12,189 261.2,187.9 261.27,188.3 261.35,184.6 261.43,189.1 261.51,186.3 261.59,192.5 261.67,193.4 261.75,185.7 261.83,185.6 261.91,188.5 261.99,189.3 262.06,189.5 262.14,191.7 262.22,185.4 262.3,188 262.38,188.5 262.46,188.9 262.54,186.8 262.62,188.5 262.7,187.7 262.77,192.9 262.85,188.4 262.93,183.4 263.01,191.3 263.09,190.3 263.17,187.3 263.25,187.1 263.33,188.1 263.41,194 263.48,188.5 263.56,192.9 263.64,192 263.72,188.3 263.8,190.7 263.88,187.5 263.96,180.5 264.04,187.6 264.12,187.8 264.19,192.2 264.27,191.6 264.35,192.6 264.43,191.3 264.51,192.7 264.59,191.6 264.67,190.5 264.75,192.4 264.83,193.5 264.9,193.3 264.98,188.6 265.06,189.8 265.14,186.9 265.22,186.8 265.3,190.8 265.38,187.9 265.46,193.5 265.54,183.1 265.61,186.4 265.69,190.5 265.77,192.8 265.85,188.8 265.93,194.6 266.01,191.9 266.09,187.7 266.17,189.7 266.25,191.2 266.32,187.1 266.4,192.5 266.48,189.1 266.56,191.2 266.64,192 266.72,188.5 266.8,192.4 266.88,184.2 266.96,191.4 267.03,184 267.11,192.6 267.19,188.1 267.27,192.9 267.35,193.2 267.43,189.5 267.51,187.9 267.59,193.1 267.67,186.4 267.74,191.9 267.82,189.5 267.9,188.8 267.98,188.1 268.06,194.4 268.14,185.1 268.22,188.2 268.3,191 268.38,192.5 268.45,194.1 268.53,193.3 268.61,188.3 268.69,190.8 268.77,192.7 268.85,191.2 268.93,185.2 269.01,190.7 269.09,191.4 269.16,185.9 269.24,188.5 269.32,189.8 269.4,191.4 269.48,193.7 269.56,192.8 269.64,191.1 269.72,190.5 269.8,188.8 269.88,188.3 269.95,189.2 270.03,189.2 270.11,192.4 270.19,195.2 270.27,191.2 270.35,192.3 270.43,191.5 270.51,190.6 270.59,193 270.66,192.6 270.74,190.2 270.82,189.6 270.9,191.5 270.98,188.4 271.06,190.4 271.14,192.4 271.22,189.8 271.3,184.2 271.37,191.6 271.45,186.4 271.53,185.8 271.61,185.4 271.69,191.9 271.77,183.8 271.85,189.5 271.93,190.5 272.01,190.5 272.08,188.1 272.16,189.7 272.24,190.3 272.32,186 272.4,191.7 272.48,192.5 272.56,187.5 272.64,187.8 272.72,186.6 272.79,192.5 272.87,186.6 272.95,188.4 273.03,184.6 273.11,193 273.19,189.2 273.27,190.6 273.35,193.8 273.43,191.6 273.5,186.5 273.58,191 273.66,191.7 273.74,187.3 273.82,186.9 273.9,186.9 273.98,191.8 274.06,190 274.14,186.8 274.21,191.5 274.29,191.7 274.37,187.4 274.45,185.2 274.53,192.7 274.61,196.3 274.69,193.5 274.77,192.4 274.85,190.2 274.92,188 275,190.2 275.08,191.6 275.16,189.4 275.24,192.2 275.32,190 275.4,191.5 275.48,181.8 275.56,187.4 275.63,191.9 275.71,192.3 275.79,190.9 275.87,193.9 275.95,191.7 276.03,191.7 276.11,187.2 276.19,190.9 276.27,191.8 276.34,193.2 276.42,192.8 276.5,190 276.58,190.4 276.66,186.4 276.74,191.4 276.82,186.7 276.9,189.1 276.98,189.9 277.05,194.8 277.13,193 277.21,187.6 277.29,185.7 277.37,189.2 277.45,187.6 277.53,190.9 277.61,190.8 277.69,191.5 277.76,186.9 277.84,188.8 277.92,190.4 278,190.7 278.08,188.2 278.16,188.9 278.24,191.9 278.32,184.7 278.4,189.1 278.48,189.8 278.55,185.4 278.63,186.8 278.71,190.1 278.79,188.2 278.87,192.5 278.95,191.4 279.03,195.4 279.11,186.2 279.19,194.5 279.26,187.8 279.34,191.9 279.42,192.3 279.5,190.3 279.58,189 279.66,188 279.74,184.5 279.82,188.8 279.9,187.2 279.97,191.3 280.05,187.7 280.13,189.4 280.21,191 280.29,190.1 280.37,190 280.45,189.3 280.53,188.6 280.61,191.1 280.68,191.7 280.76,187.6 280.84,194 280.92,191.4 281,185.2 281.08,196.5 281.16,191.5 281.24,187.8 281.32,193.9 281.39,182 281.47,196.2 281.55,185.5 281.63,185.1 281.71,187.1 281.79,190.4 281.87,188.8 281.95,192 282.03,187.4 282.1,192.6 282.18,190.5 282.26,186.8 282.34,192.6 282.42,190.7 282.5,189.3 282.58,193.1 282.66,186.3 282.74,188.8 282.81,193.6 282.89,189.9 282.97,191.7 283.05,191.4 283.13,189.6 283.21,191.6 283.29,186.9 283.37,191.6 283.45,186.9 283.52,189.9 283.6,187.3 283.68,191.2 283.76,191.1 283.84,192.7 283.92,188.1 284,187 284.08,183.5 284.16,185.9 284.23,189.1 284.31,190.3 284.39,188.7 284.47,189.9 284.55,185.4 284.63,187 284.71,191.9 284.79,191.5 284.87,185.7 284.94,188.9 285.02,190.4 285.1,186.3 285.18,190.8 285.26,190.5 285.34,191 285.42,194.7 285.5,187.2 285.58,192.8 285.65,191.2 285.73,191.7 285.81,187.6 285.89,190 285.97,189.8 286.05,194 286.13,190 286.21,193.5 286.29,188.9 286.37,188.7 286.44,189.9 286.52,183.7 286.6,188.2 286.68,188 286.76,189.4 286.84,190.3 286.92,186.9 287,186.5 287.08,193 287.15,186.6 287.23,188.3 287.31,186.9 287.39,188.4 287.47,192.9 287.55,192.7 287.63,184.3 287.71,189.1 287.79,193.3 287.86,188.8 287.94,190.7 288.02,194.4 288.1,195.5 288.18,193.8 288.26,189 288.34,189.9 288.42,190.4 288.5,189 288.57,188 288.65,195 288.73,190.6 288.81,191.9 288.89,192.9 288.97,191.2 289.05,190.1 289.13,190.5 289.21,193.4 289.28,191 289.36,183.8 289.44,192.4 289.52,194 289.6,189 289.68,188 289.76,188.4 289.84,192.6 289.92,186.8 289.99,191.8 290.07,192.6 290.15,191.3 290.23,190.1 290.31,187.7 290.39,187.9 290.47,189.9 290.55,187 290.63,189.6 290.7,187.1 290.78,193.3 290.86,193.7 290.94,187.5 291.02,193.2 291.1,190.6 291.18,190.1 291.26,191 291.34,190.9 291.41,185.6 291.49,196.1 291.57,187.2 291.65,182.9 291.73,189.7 291.81,189.9 291.89,187.6 291.97,184.3 292.05,192.7 292.12,189.6 292.2,190.3 292.28,188.1 292.36,189.3 292.44,187.8 292.52,190.9 292.6,189.7 292.68,191.5 292.76,191.5 292.83,190.2 292.91,190.2 292.99,192.7 293.07,185.1 293.15,190.1 293.23,193.2 293.31,186.5 293.39,191.7 293.47,188.3 293.55,189.9 293.62,189.1 293.7,189.3 293.78,191.2 293.86,189.7 293.94,183.7 294.02,195.3 294.1,189.6 294.18,188.5 294.26,192.4 294.33,193.2 294.41,183.3 294.49,190.7 294.57,183.6 294.65,188.2 294.73,189.6 294.81,188.4 294.89,187.9 294.97,186.3 295.04,188.5 295.12,189.4 295.2,189.3 295.28,185.8 295.36,187.4 295.44,192.3 295.52,191.4 295.6,188.8 295.68,191.4 295.75,190.7 295.83,192.2 295.91,190.5 295.99,188.5 296.07,186.8 296.15,189.8 296.23,183.6 296.31,190 296.39,180.2 296.46,186.8 296.54,188.3 296.62,191.1 296.7,196.8 296.78,190.2 296.86,189.3 296.94,184 297.02,193.2 297.1,184.1 297.17,190.4 297.25,187.6 297.33,196.1 297.41,189.4 297.49,190.7 297.57,187.8 297.65,189.5 297.73,192.6 297.81,187 297.88,187.7 297.96,188 298.04,186.8 298.12,186.5 298.2,189.9 298.28,193.2 298.36,193.2 298.44,185.8 298.52,187.7 298.59,189.5 298.67,190.9 298.75,189.7 298.83,189.8 298.91,190.7 298.99,191.6 299.07,183.3 299.15,189.1 299.23,191.3 299.3,193 299.38,191.6 299.46,187.7 299.54,187.5 299.62,190.4 299.7,189.7 299.78,190.6 299.86,192.6 299.94,185.9 300.01,188.7 300.09,182.4 300.17,191.7 300.25,190.2 300.33,187.2 300.41,190.4 300.49,193.3 300.57,192.2 300.65,189.5 300.72,188.8 300.8,190.1 300.88,186.8 300.96,186.8 301.04,188.9 301.12,189.8 301.2,190.5 301.28,188.2 301.36,187.1 301.44,189.7 301.51,188.5 301.59,190.6 301.67,193.3 301.75,192.3 301.83,187.5 301.91,188.5 301.99,185.1 302.07,189.7 302.15,187.2 302.22,185.9 302.3,186.8 302.38,191.3 302.46,190.3 302.54,189.4 302.62,192.3 302.7,188.4 302.78,186.8 302.86,191 302.93,183.9 303.01,190.6 303.09,190.3 303.17,190.4 303.25,191.6 303.33,188.6 303.41,189.8 303.49,184.8 303.57,188 303.64,188.2 303.72,190.4 303.8,193.3 303.88,190.1 303.96,191.9 304.04,187 304.12,189.9 304.2,184.8 304.28,187.6 304.35,187.3 304.43,189.2 304.51,189.2 304.59,187.9 304.67,187.1 304.75,191.6 304.83,188.4 304.91,182 304.99,190.1 305.06,190.5 305.14,191.6 305.22,193.4 305.3,186.3 305.38,189.7 305.46,188.9 305.54,184.3 305.62,182.3 305.7,192 305.77,186.7 305.85,188 305.93,188.6 306.01,188.4 306.09,189.9 306.17,185.1 306.25,188 306.33,188.8 306.41,186.1 306.48,187.1 306.56,188.5 306.64,188.9 306.72,184.6 306.8,188.3 306.88,190.1 306.96,192 307.04,190.7 307.12,192.4 307.19,189.5 307.27,189.1 307.35,194.9 307.43,189.8 307.51,187.9 307.59,189.3 307.67,192.2 307.75,186 307.83,191.6 307.9,192.9 307.98,192.5 308.06,189.9 308.14,186.9 308.22,186.3 308.3,189.2 308.38,192.8 308.46,191.5 308.54,192.1 308.61,190.3 308.69,194.2 308.77,189.5 308.85,187.9 308.93,190.2 309.01,188.5 309.09,192.2 309.17,193.5 309.25,191.4 309.32,186.4 309.4,186.8 309.48,191 309.56,186.2 309.64,190.7 309.72,185.3 309.8,188.4 309.88,191 309.96,187.5 310.04,191.8 310.11,192.2 310.19,193.4 310.27,189.1 310.35,190 310.43,190.1 310.51,190.9 310.59,185.5 310.67,190.9 310.75,191.7 310.82,186.1 310.9,185.6 310.98,188.9 311.06,194.2 311.14,191.4 311.22,188 311.3,189.8 311.38,185.2 311.46,193.2 311.53,187.8 311.61,191.4 311.69,185.9 311.77,190.1 311.85,186.8 311.93,191.5 312.01,193.4 312.09,192.6 312.17,191.4 312.24,192.4 312.32,186.3 312.4,185.9 312.48,189.1 312.56,192.4 312.64,190.2 312.72,191.6 312.8,185.5 312.88,188.9 312.95,188.4 313.03,190.9 313.11,194.8 313.19,191.8 313.27,192.6 313.35,188.8 313.43,189.6 313.51,191.9 313.59,190.8 313.66,185.2 313.74,192.3 313.82,192.2 313.9,190.5 313.98,191.6 314.06,190.9 314.14,188.3 314.22,184.7 314.3,194.3 314.37,189.9 314.45,189.8 314.53,190.1 314.61,190.4 314.69,190.7 314.77,186.9 314.85,191 314.93,190.2 315.01,189.9 315.08,189.6 315.16,190.3 315.24,186.9 315.32,189.9 315.4,189.4 315.48,190 315.56,192.4 315.64,191.9 315.72,192.5 315.79,189.3 315.87,191.7 315.95,192.5 316.03,189.2 316.11,188.3 316.19,194.2 316.27,184.8 316.35,189.8 316.43,190.2 316.5,186.7 316.58,189.7 316.66,191.4 316.74,183.3 316.82,192.6 316.9,190.1 316.98,187.4 317.06,192.5 317.14,190.2 317.21,188.7 317.29,182.7 317.37,192.1 317.45,190 317.53,187.9 317.61,189.7 317.69,192.9 317.77,188.7 317.85,189.6 317.93,188.6 318,186.5 318.08,186.9 318.16,188.7 318.24,189 318.32,192.6 318.4,190.2 318.48,189.2 318.56,190.9 318.64,189.6 318.71,192 318.79,185.3 318.87,183.4 318.95,190.9 319.03,188.7 319.11,190.5 319.19,186.1 319.27,188.6 319.35,189.7 319.42,190.5 319.5,189.5 319.58,192.4 319.66,187.9 319.74,191.7 319.82,188.3 319.9,189.5 319.98,186.6 320.06,190 320.13,186.8 320.21,192.2 320.29,188.1 320.37,190.5 320.45,189.3 320.53,189.7 320.61,187.1 320.69,194.9 320.77,189 320.84,193.6 320.92,186.3 321,194.8 321.08,192.4 321.16,194.1 321.24,185 321.32,193.1 321.4,189.6 321.48,191.3 321.55,194.4 321.63,190.8 321.71,187.9 321.79,190.4 321.87,187.1 321.95,190.8 322.03,189.9 322.11,190.9 322.19,188.9 322.26,184.2 322.34,188.8 322.42,189.4 322.5,191.5 322.58,191.8 322.66,185.5 322.74,192.7 322.82,192.2 322.9,190.2 322.97,191 323.05,184.1 323.13,195.8 323.21,188.9 323.29,187.8 323.37,192.7 323.45,191.5 323.53,188.6 323.61,185 323.68,192.2 323.76,193.8 323.84,187 323.92,185.4 324,190.8 324.08,195.4 324.16,185.6 324.24,190.4 324.32,186.6 324.39,190.1 324.47,190.9 324.55,191.1 324.63,185.5 324.71,185.6 324.79,195.2 324.87,192.3 324.95,184.6 325.03,190.9 325.1,193.3 325.18,189.9 325.26,190.2 325.34,190.2 325.42,191.1 325.5,190.7 325.58,191.1 325.66,189 325.74,192 325.82,190.7 325.89,190.3 325.97,186 326.05,188.8 326.13,190.2 326.21,188.3 326.29,188.7 326.37,186.7 326.45,188.4 326.53,184.6 326.6,185.9 326.68,190.1 326.76,191 326.84,187.3 326.92,188.4 327,190.2 327.08,193.6 327.16,194.5 327.24,188.9 327.31,187.6 327.39,187.6 327.47,193.1 327.55,186.8 327.63,191.3 327.71,188.8 327.79,188.7 327.87,191.9 327.95,191.4 328.02,195.1 328.1,192.2 328.18,194.4 328.26,188.7 328.34,189.8 328.42,187.2 328.5,188.9 328.58,191.5 328.66,188.9 328.73,190.9 328.81,188.1 328.89,189 328.97,192.4 329.05,190 329.13,189.8 329.21,190.7 329.29,187.3 329.37,184.8 329.44,190.9 329.52,190.8 329.6,195.5 329.68,190.3 329.76,191.1 329.84,195.3 329.92,189.1 330,188.2 330.08,191.8 330.15,190.9 330.23,192.4 330.31,187.7 330.39,193.7 330.47,190.8 330.55,184.1 330.63,189.8 330.71,188.6 330.79,190.3 330.86,192.9 330.94,190.1 331.02,188.8 331.1,192.5 331.18,189 331.26,186.2 331.34,186.8 331.42,193.9 331.5,192.4 331.57,194 331.65,186.8 331.73,188.2 331.81,187.9 331.89,192.2 331.97,192.9 332.05,189.8 332.13,189.7 332.21,192.1 332.28,189.6 332.36,188.1 332.44,189.3 332.52,192.6 332.6,195.2 332.68,190.6 332.76,189.5 332.84,190.6 332.92,191.1 333,191.7 333.07,187.8 333.15,190.1 333.23,189.6 333.31,192.4 333.39,191.5 333.47,189.5 333.55,192.5 333.63,193.1 333.71,190.8 333.78,186.4 333.86,189.4 333.94,185.6 334.02,190.3 334.1,190.8 334.18,193.4 334.26,191.4 334.34,185.7 334.42,189 334.49,187.8 334.57,187.9 334.65,190 334.73,190.5 334.81,189.7 334.89,188 334.97,188.6 335.05,188.5 335.13,189.5 335.2,191.9 335.28,190.7 335.36,192.3 335.44,187 335.52,195.2 335.6,190.6 335.68,182.8 335.76,190.9 335.84,192.8 335.91,190.1 335.99,186.1 336.07,190.4 336.15,188.2 336.23,189.7 336.31,190.9 336.39,180.6 336.47,189.8 336.55,191.3 336.62,191.2 336.7,188.9 336.78,188.8 336.86,187.7 336.94,189.6 337.02,193.6 337.1,188.4 337.18,190.8 337.26,190.7 337.33,193.7 337.41,191.4 337.49,191.8 337.57,190.1 337.65,193.6 337.73,189.9 337.81,189.7 337.89,192.8 337.97,191.6 338.04,192.1 338.12,187.3 338.2,196.3 338.28,190.9 338.36,194.1 338.44,191.1 338.52,187.5 338.6,191.6 338.68,189.6 338.75,192.1 338.83,184.2 338.91,187.3 338.99,186.6 339.07,193.3 339.15,192.8 339.23,186.8 339.31,190.5 339.39,190.7 339.46,189 339.54,193.1 339.62,187.7 339.7,190 339.78,188.6 339.86,191.7 339.94,188.5 340.02,191.8 340.1,187.2 340.17,186.6 340.25,187.3 340.33,188.5 340.41,188.1 340.49,196.7 340.57,187.5 340.65,190.7 340.73,189.8 340.81,190.7 340.88,193.5 340.96,191.4 341.04,188.1 341.12,185.8 341.2,191.6 341.28,192.3 341.36,185.7 341.44,192.2 341.52,183.8 341.6,189.9 341.67,192.2 341.75,187.1 341.83,185 341.91,193.6 341.99,185.4 342.07,190.7 342.15,185.6 342.23,191 342.31,193.9 342.38,188.5 342.46,187.3 342.54,183.8 342.62,184.9 342.7,188 342.78,190.6 342.86,191.3 342.94,190.8 343.02,192.1 343.09,190.7 343.17,196.3 343.25,189.5 343.33,190.1 343.41,182.3 343.49,187.8 343.57,191.2 343.65,188.4 343.73,193.1 343.8,191.6 343.88,194.7 343.96,185.7 344.04,188.3 344.12,193 344.2,190.2 344.28,187.2 344.36,188.6 344.44,188.9 344.51,192.2 344.59,191.6 344.67,189.8 344.75,187.3 344.83,192.1 344.91,192.8 344.99,186.6 345.07,192.4 345.15,186.8 345.22,189.3 345.3,187.4 345.38,184.8 345.46,188 345.54,187.7 345.62,192.3 345.7,191.8 345.78,188.1 345.86,185.5 345.93,185.9 346.01,183.1 346.09,189.1 346.17,189.5 346.25,187.1 346.33,190 346.41,190.2 346.49,192.7 346.57,187.1 346.64,192.7 346.72,188.5 346.8,193.6 346.88,186.8 346.96,192.6 347.04,187.5 347.12,194 347.2,191.2 347.28,186.5 347.35,192.1 347.43,189.9 347.51,191.3 347.59,195.8 347.67,189.2 347.75,188.8 347.83,192.8 347.91,188.4 347.99,192 348.06,192.6 348.14,190.1 348.22,191.8 348.3,183.2 348.38,193.9 348.46,187.9 348.54,187.1 348.62,195 348.7,194.4 348.77,188.4 348.85,191.3 348.93,188.9 349.01,186.7 349.09,191 349.17,192.7 349.25,196.8 349.33,189.5 349.41,192.4 349.49,189.1 349.56,189.4 349.64,193.5 349.72,184.9 349.8,186.8 349.88,187.5 349.96,193 350.04,191.1 350.12,191.4 350.2,191.1 350.27,192.9 350.35,188.8 350.43,189.4 350.51,189 350.59,191.3 350.67,186.2 350.75,189.5 350.83,196.9 350.91,191.7 350.98,190.2 351.06,187.2 351.14,190.8 351.22,190.7 351.3,191.7 351.38,188.1 351.46,191.2 351.54,191.6 351.62,191.9 351.69,188.4 351.77,191.4 351.85,194.2 351.93,188.2 352.01,191.8 352.09,189 352.17,189 352.25,186.5 352.33,187 352.4,191.5 352.48,190.5 352.56,193.3 352.64,185.1 352.72,188.8 352.8,185.9 352.88,190.9 352.96,195.2 353.04,185.5 353.11,189.8 353.19,189.7 353.27,189.9 353.35,188.2 353.43,188.5 353.51,194 353.59,186.8 353.67,191.4 353.75,191.3 353.82,184.9 353.9,187.3 353.98,190.9 354.06,194.7 354.14,189.6 354.22,188.5 354.3,190.3 354.38,193.2 354.46,192.1 354.53,193.2 354.61,189.5 354.69,187.6 354.77,187 354.85,191.9 354.93,189.4 355.01,188.4 355.09,191.4 355.17,190.5 355.24,183.7 355.32,189.5 355.4,187.5 355.48,191.2 355.56,190 355.64,194.3 355.72,190.2 355.8,186.5 355.88,183.8 355.95,186.5 356.03,188.1 356.11,190 356.19,191.6 356.27,190.5 356.35,188.3 356.43,192.1 356.51,187.3 356.59,192.5 356.66,194.5 356.74,192.6 356.82,194.2 356.9,193.5 356.98,186.7 357.06,190.6 357.14,189.5 357.22,186.6 357.3,186.3 357.38,191.4 357.45,186.1 357.53,189 357.61,190.1 357.69,188.8 357.77,193.6 357.85,192.1 357.93,190.4 358.01,188.3 358.09,191 358.16,190.4 358.24,187.2 358.32,185.9 358.4,187.8 358.48,186.3 358.56,191.1 358.64,190.9 358.72,189.2 358.8,190.9 358.87,191.4 358.95,185.2 359.03,190.6 359.11,192.5 359.19,188.7 359.27,184.6 359.35,189.9 359.43,186.4 359.51,191.2 359.58,191.3 359.66,191.8 359.74,190.5 359.82,184.6 359.9,193 359.98,185.2 360.06,192.6 360.14,190.7 360.22,187.6 360.29,188.2 360.37,189.3 360.45,194.2 360.53,189 360.61,192.7 360.69,182.4 360.77,190.7 360.85,189.6 360.93,193 361,191.3 361.08,193.3 361.16,187.2 361.24,190.8 361.32,188.4 361.4,191.8 361.48,191.4 361.56,186.3 361.64,192.5 361.71,194.6 361.79,188.9 361.87,193 361.95,191.2 362.03,187.4 362.11,192.2 362.19,187.5 362.27,191.8 362.35,185.7 362.42,186.2 362.5,191.3 362.58,190.7 362.66,192.2 362.74,189.5 362.82,186.7 362.9,193.7 362.98,187.4 363.06,193.4 363.13,192.3 363.21,194.5 363.29,183.8 363.37,190 363.45,189.4 363.53,191.8 363.61,186.9 363.69,195.3 363.77,190.1 363.84,183.5 363.92,191.1 364,190.1 364.08,188.1 364.16,192.1 364.24,190.1 364.32,187.2 364.4,189.6 364.48,189 364.55,191 364.63,189.2 364.71,190 364.79,185.8 364.87,188 364.95,190.7 365.03,196.2 365.11,188 365.19,187.9 365.27,192.4 365.34,195.1 365.42,193 365.5,187.4 365.58,192.8 365.66,191.3 365.74,189.5 365.82,186.5 365.9,190.2 365.98,190.4 366.05,191.5 366.13,185.2 366.21,186.9 366.29,190.4 366.37,193.6 366.45,192.1 366.53,188.4 366.61,191.9 366.69,187.5 366.76,189.1 366.84,189.3 366.92,188.2 367,188.6 367.08,192.2 367.16,190.9 367.24,183.1 367.32,193.1 367.4,191.3 367.47,186.9 367.55,190.5 367.63,192.1 367.71,193.4 367.79,188.5 367.87,187.1 367.95,185.9 368.03,190 368.11,187 368.18,192.7 368.26,189.6 368.34,191.8 368.42,189.6 368.5,187.9 368.58,186.9 368.66,192.6 368.74,186.3 368.82,191.3 368.89,192.7 368.97,190.6 369.05,193.7 369.13,190.1 369.21,189.3 369.29,190.6 369.37,188.5 369.45,190.9 369.53,190.1 369.6,193.7 369.68,190 369.76,192.2 369.84,191.2 369.92,190.4 370,189.6 370.08,194.2 370.16,194 370.24,190.9 370.31,188.7 370.39,189.1 370.47,187.5 370.55,186.2 370.63,188.6 370.71,190.2 370.79,192.7 370.87,192.5 370.95,191.3 371.02,189.3 371.1,189.5 371.18,190.1 371.26,190.5 371.34,188.2 371.42,189.5 371.5,189.2 371.58,189.2 371.66,191.5 371.73,192.7 371.81,188.7 371.89,188.9 371.97,190.7 372.05,191.2 372.13,183.3 372.21,192 372.29,190.7 372.37,189.3 372.44,193 372.52,189.8 372.6,184.7 372.68,187.3 372.76,188.2 372.84,188.4 372.92,189.8 373,187.3 373.08,190.5 373.16,191.2 373.23,189.8 373.31,187.4 373.39,189.1 373.47,188.1 373.55,195.1 373.63,186.6 373.71,183.1 373.79,186.1 373.87,190.9 373.94,192.2 374.02,189.3 374.1,192.6 374.18,188 374.26,191.4 374.34,187.2 374.42,186 374.5,195.2 374.58,189.3 374.65,191.9 374.73,193.6 374.81,191.7 374.89,190.7 374.97,187 375.05,193.9 375.13,187 375.21,184.1 375.29,188.3 375.36,188.5 375.44,190.2 375.52,193 375.6,188.5 375.68,189 375.76,187.9 375.84,182.4 375.92,187.9 376,188.9 376.07,185.4 376.15,193.5 376.23,193 376.31,191.1 376.39,191.8 376.47,188 376.55,190.9 376.63,184.9 376.71,185.6 376.78,187.8 376.86,191.1 376.94,188.3 377.02,187.7 377.1,192.8 377.18,189.1 377.26,188 377.34,189.5 377.42,185.4 377.49,186.5 377.57,192.2 377.65,189.8 377.73,192.2 377.81,188.4 377.89,192.3 377.97,187.4 378.05,189 378.13,187.2 378.2,190.5 378.28,193.7 378.36,184.8 378.44,190.6 378.52,186 378.6,188.8 378.68,188.1 378.76,184.6 378.84,189.1 378.91,185.9 378.99,193.8 379.07,187.5 379.15,190.7 379.23,190.5 379.31,190.1 379.39,189.1 379.47,185.1 379.55,194.7 379.62,190 379.7,191.9 379.78,186.6 379.86,191.2 379.94,188.8 380.02,191.1 380.1,188.1 380.18,187.1 380.26,191.1 380.33,190 380.41,193.6 380.49,189.2 380.57,187.6 380.65,191.5 380.73,186.8 380.81,195.2 380.89,194.7 380.97,193.6 381.05,191.3 381.12,190.1 381.2,190.3 381.28,190.3 381.36,187.9 381.44,191.3 381.52,193.2 381.6,193.2 381.68,183.8 381.76,195.9 381.83,190.6 381.91,185.7 381.99,188.7 382.07,192.2 382.15,190.1 382.23,187.5 382.31,186.5 382.39,192.3 382.47,187.8 382.54,189.4 382.62,186.8 382.7,185.9 382.78,191 382.86,193.7 382.94,188.9 383.02,184.8 383.1,188.1 383.18,189.4 383.25,182.9 383.33,192.7 383.41,187.4 383.49,191.5 383.57,190 383.65,189.8 383.73,185.6 383.81,192.4 383.89,191.4 383.96,194.1 384.04,188.7 384.12,191.2 384.2,188.8 384.28,192.8 384.36,191 384.44,187 384.52,190.5 384.6,188.2 384.67,188.5 384.75,191 384.83,194 384.91,187.2 384.99,189.6 385.07,187.2 385.15,195.1 385.23,194.2 385.31,195.4 385.38,192.3 385.46,187 385.54,188.4 385.62,190.2 385.7,189.7 385.78,187.8 385.86,190.9 385.94,188.9 386.02,189.7 386.09,195.5 386.17,191.1 386.25,186 386.33,191.1 386.41,190.5 386.49,191.6 386.57,191.3 386.65,186.7 386.73,190.8 386.8,192.6 386.88,197.8 386.96,191.5 387.04,195 387.12,194.6 387.2,187.7 387.28,188 387.36,194.8 387.44,187.5 387.51,188.7 387.59,192 387.67,187.9 387.75,194.1 387.83,193.1 387.91,193.7 387.99,192.8 388.07,187.5 388.15,193.4 388.22,192.9 388.3,192.5 388.38,189.5 388.46,190.9 388.54,187.5 388.62,191.9 388.7,193.3 388.78,191.3 388.86,190 388.94,192.4 389.01,189.3 389.09,184.7 389.17,191.6 389.25,190 389.33,186.1 389.41,191.7 389.49,192.2 389.57,192.8 389.65,188.9 389.72,188.6 389.8,190.5 389.88,190 389.96,186.3 390.04,187.5 390.12,193.6 390.2,190.2 390.28,189.8 390.36,188 390.43,190.7 390.51,191.7 390.59,191.3 390.67,194.5 390.75,190.2 390.83,191.6 390.91,188.8 390.99,192.7 391.07,191.2 391.14,192.6 391.22,192.8 391.3,188.1 391.38,191.3 391.46,188.9 391.54,192.9 391.62,189.9 391.7,194.4 391.78,191.4 391.85,191.4 391.93,188.5 392.01,189.7 392.09,190.6 392.17,187.7 392.25,189.6 392.33,188.6 392.41,187.9 392.49,190.4 392.56,190.9 392.64,189.2 392.72,191.2 392.8,189.1 392.88,186.9 392.96,187.7 393.04,191.1 393.12,193.4 393.2,190.3 393.27,190.5 393.35,186.9 393.43,191.1 393.51,190.7 393.59,188 393.67,191.4 393.75,190.6 393.83,185.1 393.91,185.8 393.98,188.3 394.06,189.4 394.14,192.6 394.22,188.5 394.3,190 394.38,189.6 394.46,191.5 394.54,190.2 394.62,190.6 394.69,189.3 394.77,185.9 394.85,189.1 394.93,194.3 395.01,192.6 395.09,194.1 395.17,192.1 395.25,188.5 395.33,189 395.4,191.7 395.48,189.4 395.56,192.1 395.64,193.7 395.72,193.7 395.8,192.3 395.88,186 395.96,193.5 396.04,186.5 396.11,186.2 396.19,190.6 396.27,190.3 396.35,191.7 396.43,190.3 396.51,188.2 396.59,190.2 396.67,187.2 396.75,186.7 396.83,189.2 396.9,189.2 396.98,190.3 397.06,189.2 397.14,192.9 397.22,189 397.3,189.6 397.38,192.3 397.46,183.8 397.54,192.6 397.61,192.3 397.69,189.4 397.77,195 397.85,192.1 397.93,193.9 398.01,192.6 398.09,190.5 398.17,189.3 398.25,186.9 398.32,187.8 398.4,186.7 398.48,188.5 398.56,191.3 398.64,186.9 398.72,191.4 398.8,191.7 398.88,185.6 398.96,187.9 399.03,189.6 399.11,188 399.19,187.6 399.27,193.6 399.35,190.4 399.43,193.1 399.51,189.9 399.59,191.8 399.67,186.1 399.74,188.7 399.82,192.2 399.9,190.2 399.98,193.2 400.06,190.1 400.14,188.6 400.22,189.4 400.3,194.9 400.38,191 400.45,188.7 400.53,189.3 400.61,186.7 400.69,193.4 400.77,188.6 400.85,191.8 400.93,189.6 401.01,189 401.09,188.2 401.16,191.6 401.24,189.7 401.32,193.1 401.4,193.7 401.48,188.5 401.56,190.3 401.64,194.2 401.72,192.3 401.8,190.1 401.87,185.5 401.95,187.1 402.03,187.8 402.11,194.6 402.19,190.4 402.27,188.8 402.35,189 402.43,189 402.51,190.8 402.58,184.9 402.66,185.8 402.74,190.4 402.82,192.6 402.9,184 402.98,191.5 403.06,186.6 403.14,184.5 403.22,192.5 403.29,189.3 403.37,191 403.45,188.7 403.53,189.2 403.61,184.4 403.69,188.4 403.77,190.2 403.85,186.8 403.93,190.8 404,191.1 404.08,183.5 404.16,192.2 404.24,191.4 404.32,190.1 404.4,192.8 404.48,195.4 404.56,187 404.64,192.1 404.72,191.5 404.79,191.1 404.87,192.6 404.95,192.8 405.03,189.7 405.11,183 405.19,188 405.27,188 405.35,193.9 405.43,190.2 405.5,193.1 405.58,187.9 405.66,190.7 405.74,190.1 405.82,190.4 405.9,191.6 405.98,193.9 406.06,188.5 406.14,193.6 406.21,193.1 406.29,190.9 406.37,191.9 406.45,189.4 406.53,187.2 406.61,189.4 406.69,189.6 406.77,190.1 406.85,187.6 406.92,194.7 407,189.1 407.08,192.5 407.16,193.2 407.24,190.1 407.32,191.1 407.4,188.4 407.48,186.9 407.56,195.9 407.63,190.3 407.71,184.3 407.79,187.6 407.87,185.8 407.95,189.9 408.03,193.7 408.11,192.9 408.19,188 408.27,187.3 408.34,192 408.42,190.8 408.5,189.4 408.58,194.5 408.66,191 408.74,185.3 408.82,183.6 408.9,190.4 408.98,184.7 409.05,191.4 409.13,192.1 409.21,195.7 409.29,187.3 409.37,191.1 409.45,183.1 409.53,189.2 409.61,189.6 409.69,194.6 409.76,185.7 409.84,191 409.92,190.5 410,195.6 410.08,187.4 410.16,187.2 410.24,191.6 410.32,189.9 410.4,189 410.47,187.3 410.55,189.8 410.63,185 410.71,190.7 410.79,191.6 410.87,191.3 410.95,196.4 411.03,192.1 411.11,187.1 411.18,189.4 411.26,192.1 411.34,189.1 411.42,195.1 411.5,190.8 411.58,188.6 411.66,188 411.74,192 411.82,187.4 411.89,184.5 411.97,191.2 412.05,187.9 412.13,194 412.21,195 412.29,188.3 412.37,190 412.45,189.5 412.53,191.5 412.61,190.8 412.68,187.7 412.76,185 412.84,190.6 412.92,194.2 413,186.3 413.08,188.3 413.16,188.1 413.24,189.6 413.32,183.1 413.39,189.9 413.47,188.6 413.55,194.7 413.63,191.5 413.71,191.8 413.79,190.2 413.87,189.1 413.95,191.9 414.03,184.9 414.1,192.7 414.18,191.2 414.26,189.4 414.34,193.2 414.42,188.4 414.5,188.2 414.58,190.8 414.66,184.4 414.74,189.9 414.81,189.3 414.89,192.5 414.97,194.2 415.05,191.6 415.13,190.9 415.21,191.2 415.29,187.8 415.37,196 415.45,192.9 415.52,194.6 415.6,186.1 415.68,191.5 415.76,191.4 415.84,192.8 415.92,187.4 416,191.1 416.08,189.4 416.16,195.1 416.23,186.6 416.31,188.9 416.39,188.4 416.47,186.4 416.55,190.5 416.63,190.5 416.71,187.9 416.79,188.8 416.87,190.7 416.94,190 417.02,191.3 417.1,187.9 417.18,187.3 417.26,190 417.34,184.4 417.42,193.9 417.5,190.6 417.58,184.9 417.65,191.1 417.73,194 417.81,185.9 417.89,188.4 417.97,193 418.05,187.7 418.13,192.6 418.21,193.4 418.29,190.4 418.36,191.2 418.44,192.8 418.52,191 418.6,192.5 418.68,189.9 418.76,190.1 418.84,187.8 418.92,191.2 419,193.3 419.07,193.3 419.15,190.7 419.23,185.4 419.31,187.5 419.39,191.6 419.47,187.2 419.55,192.9 419.63,187 419.71,191 419.78,187.7 419.86,188.2 419.94,190.7 420.02,189.1 420.1,192.7 420.18,190.2 420.26,186.8 420.34,177.7 420.42,187.9 420.5,189.8 420.57,192.5 420.65,186.9 420.73,194.1 420.81,192 420.89,189 420.97,193 421.05,185.4 421.13,186.8 421.21,191.4 421.28,191.4 421.36,193.3 421.44,193.5 421.52,188.7 421.6,188.2 421.68,189 421.76,189.2 421.84,191.4 421.92,189 421.99,193.7 422.07,190 422.15,185.6 422.23,186 422.31,191.2 422.39,190.8 422.47,185.9 422.55,184.6 422.63,193.7 422.7,191.1 422.78,189.3 422.86,186.4 422.94,192.1 423.02,188.1 423.1,190.8 423.18,182.9 423.26,188.7 423.34,190.3 423.41,190.8 423.49,186.8 423.57,188 423.65,192.7 423.73,189.4 423.81,193.3 423.89,191.9 423.97,193.2 424.05,193.3 424.12,191.7 424.2,192.4 424.28,188.4 424.36,187.6 424.44,190.6 424.52,192.8 424.6,187.6 424.68,195 424.76,194.8 424.83,187.8 424.91,188 424.99,187.1 425.07,190.5 425.15,193.1 425.23,191.2 425.31,188.3 425.39,191.9 425.47,191.7 425.54,193.4 425.62,192.9 425.7,187.5 425.78,188.6 425.86,192.9 425.94,192.7 426.02,191.4 426.1,188.3 426.18,192.9 426.25,190.4 426.33,195.3 426.41,193.1 426.49,188.7 426.57,187.3 426.65,192.8 426.73,191.9 426.81,187.6 426.89,190.9 426.96,191.3 427.04,188.4 427.12,189.4 427.2,186.6 427.28,187.6 427.36,191.4 427.44,190.3 427.52,190.1 427.6,193.3 427.67,192.4 427.75,187.1 427.83,193.9 427.91,187 427.99,189.1 428.07,190.3 428.15,188.4 428.23,188.5 428.31,186.3 428.39,190.9 428.46,190.5 428.54,190.6 428.62,184.3 428.7,187.1 428.78,192.2 428.86,190.8 428.94,191.7 429.02,189.9 429.1,189.3 429.17,183 429.25,194.5 429.33,186.9 429.41,188.6 429.49,191.7 429.57,190.3 429.65,191.2 429.73,189.8 429.81,186.9 429.88,193.7 429.96,186 430.04,190.9 430.12,185.4 430.2,188.7 430.28,186.2 430.36,188.2 430.44,186.7 430.52,189.8 430.59,192 430.67,187.9 430.75,187.8 430.83,183.6 430.91,194.9 430.99,190.4 431.07,186.7 431.15,193 431.23,190.5 431.3,183.5 431.38,185.7 431.46,192.1 431.54,185.6 431.62,186.3 431.7,187.6 431.78,188.8 431.86,189.2 431.94,192 432.01,191.2 432.09,187.7 432.17,189.5 432.25,184.3 432.33,190.7 432.41,195.8 432.49,190.7 432.57,189.1 432.65,188.7 432.72,189.7 432.8,191.9 432.88,185.4 432.96,191.5 433.04,187.7 433.12,190.6 433.2,192.8 433.28,185.6 433.36,196.1 433.43,192 433.51,188.6 433.59,190.7 433.67,187.6 433.75,190.1 433.83,191 433.91,183.4 433.99,190.4 434.07,190.2 434.14,192.5 434.22,191.7 434.3,187.9 434.38,188.2 434.46,189.8 434.54,191.6 434.62,187.8 434.7,194 434.78,190.7 434.85,190.5 434.93,191.9 435.01,189.4 435.09,191.5 435.17,191.8 435.25,184.4 435.33,187.6 435.41,186.2 435.49,189.7 435.56,186.9 435.64,187.5 435.72,186.2 435.8,182.7 435.88,190.4 435.96,189 436.04,189.9 436.12,198.5 436.2,193.2 436.28,189.7 436.35,187.9 436.43,191.2 436.51,186.4 436.59,185.9 436.67,190.8 436.75,185.5 436.83,184.5 436.91,188.4 436.99,192.2 437.06,185.4 437.14,190.2 437.22,190.7 437.3,189.4 437.38,191.1 437.46,186.5 437.54,187.4 437.62,186.1 437.7,188 437.77,191.7 437.85,190.1 437.93,187.1 438.01,190.8 438.09,181 438.17,190.3 438.25,191.2 438.33,186.3 438.41,187.5 438.48,189.8 438.56,190.3 438.64,188.5 438.72,187.2 438.8,187.5 438.88,190.5 438.96,188.4 439.04,187.2 439.12,187.4 439.19,197.4 439.27,191.9 439.35,191.7 439.43,190.3 439.51,189.2 439.59,187 439.67,187.9 439.75,190 439.83,189.7 439.9,184.4 439.98,191.2 440.06,188.8 440.14,185 440.22,188.7 440.3,194.8 440.38,188.6 440.46,190.7 440.54,190 440.61,186.6 440.69,188.3 440.77,190.4 440.85,187 440.93,188.4 441.01,189.4 441.09,188.8 441.17,189 441.25,190.6 441.32,190.9 441.4,189.6 441.48,192.1 441.56,192.8 441.64,185.8 441.72,190.3 441.8,189.8 441.88,190 441.96,189.6 442.03,189.6 442.11,189.5 442.19,191.7 442.27,186.9 442.35,191.4 442.43,186.6 442.51,194.4 442.59,192.3 442.67,186.7 442.74,190.1 442.82,191.4 442.9,188.6 442.98,192.3 443.06,189.5 443.14,195.2 443.22,190.8 443.3,191.3 443.38,188.1 443.45,187.1 443.53,191.8 443.61,184.9 443.69,191.2 443.77,194.8 443.85,195.6 443.93,185.1 444.01,189.9 444.09,191.3 444.17,191.5 444.24,192.4 444.32,185.6 444.4,189.9 444.48,184.3 444.56,190.2 444.64,195.5 444.72,187.1 444.8,190.6 444.88,190.3 444.95,185 445.03,190.3 445.11,186.2 445.19,189.7 445.27,191.5 445.35,188.1 445.43,191.2 445.51,186 445.59,186.8 445.66,189.5 445.74,187.8 445.82,188 445.9,190.3 445.98,187 446.06,190.2 446.14,187.8 446.22,192 446.3,189.4 446.37,188.4 446.45,191.6 446.53,190.7 446.61,191 446.69,187.5 446.77,191.4 446.85,188.3 446.93,185.1 447.01,188.6 447.08,193.6 447.16,189.3 447.24,186.5 447.32,190.3" fill="none" stroke="#1f77b4" stroke-width="1.6" stroke-linejoin="round" stroke-linecap="butt"/>
<polyline points="52.9,123.3 52.98,123.2 53.06,123.5 53.14,124.1 53.22,124.5 53.29,124.5 53.37,124.6 53.45,124.5 53.53,124.8 53.61,125.4 53.69,125.4 53.77,125.4 53.85,127 53.93,126.6 54,126.9 54.08,126.7 54.16,126.9 54.24,127.1 54.32,127.8 54.4,126.9 54.48,127.4 54.56,129 54.64,128 54.71,129.1 54.79,127.1 54.87,129 54.95,129.1 55.03,129 55.11,129.4 55.19,129.5 55.27,128.3 55.35,129.7 55.42,129.3 55.5,129.3 55.58,131.3 55.66,129.2 55.74,130.3 55.82,130.2 55.9,132.1 55.98,130.7 56.06,131.3 56.13,132.4 56.21,129.9 56.29,131.7 56.37,132.7 56.45,132.5 56.53,132 56.61,132 56.69,132.7 56.77,132.2 56.84,132.2 56.92,135.1 57,134.6 57.08,135.2 57.16,134.3 57.24,133.1 57.32,134.1 57.4,136.1 57.48,135.5 57.56,134.3 57.63,136.2 57.71,135.9 57.79,135.6 57.87,138.2 57.95,135.5 58.03,136.2 58.11,136.1 58.19,138 58.27,138 58.34,138 58.42,137.2 58.5,137.6 58.58,137.7 58.66,135.9 58.74,136.7 58.82,139.3 58.9,139.4 58.98,136.7 59.05,139.3 59.13,137.5 59.21,137.4 59.29,140.2 59.37,140 59.45,139.8 59.53,141.1 59.61,141.5 59.69,140.9 59.76,139.5 59.84,141.3 59.92,141.2 60,141.7 60.08,143 60.16,139.5 60.24,144.7 60.32,142.7 60.4,141.2 60.47,144 60.55,141.5 60.63,140.8 60.71,143.8 60.79,142.5 60.87,144.5 60.95,142.5 61.03,143.2 61.11,143.2 61.18,141.8 61.26,143.2 61.34,142.1 61.42,143.3 61.5,146 61.58,144.1 61.66,144 61.74,146.9 61.82,143.1 61.89,145.1 61.97,144.8 62.05,146.8 62.13,145.5 62.21,145.4 62.29,146.4 62.37,146 62.45,149.4 62.53,144.4 62.6,148.2 62.68,150 62.76,148.3 62.84,148.3 62.92,146.4 63,148.7 63.08,147.1 63.16,149.1 63.24,144.5 63.31,147.1 63.39,145.1 63.47,149.8 63.55,147.4 63.63,150 63.71,147.8 63.79,147.8 63.87,151.5 63.95,150.9 64.02,151.1 64.1,151.8 64.18,150.8 64.26,151.3 64.34,152.2 64.42,149.9 64.5,149.4 64.58,152.4 64.66,151.4 64.73,150.6 64.81,151.2 64.89,152.1 64.97,149.8 65.05,149.9 65.13,150.3 65.21,151.9 65.29,148.5 65.37,149 65.45,152.6 65.52,152.3 65.6,150.3 65.68,153.7 65.76,151.9 65.84,152.6 65.92,154 66,153.4 66.08,155.7 66.16,154.2 66.23,156.7 66.31,149.7 66.39,151.2 66.47,151.8 66.55,153.5 66.63,152.4 66.71,152.1 66.79,152.7 66.87,153 66.94,156.2 67.02,154.1 67.1,155.8 67.18,157.1 67.26,157.1 67.34,154.6 67.42,153.7 67.5,157.9 67.58,152.7 67.65,153.3 67.73,156.7 67.81,156.9 67.89,156.4 67.97,154.7 68.05,157.2 68.13,158.6 68.21,156.2 68.29,160.5 68.36,156.8 68.44,155.1 68.52,156.8 68.6,156 68.68,156.7 68.76,156.4 68.84,157.5 68.92,159.4 69,158.4 69.07,158.3 69.15,156 69.23,155.5 69.31,157.8 69.39,160 69.47,160.1 69.55,159.2 69.63,156.5 69.71,158.5 69.78,159.3 69.86,160.7 69.94,157.9 70.02,159.1 70.1,159.8 70.18,159.6 70.26,156.9 70.34,160.3 70.42,157.1 70.49,158 70.57,160.3 70.65,158.9 70.73,160.8 70.81,162.2 70.89,161.3 70.97,162.6 71.05,160.1 71.13,161.1 71.2,160.2 71.28,159.8 71.36,167.2 71.44,160.9 71.52,165 71.6,161.4 71.68,163.4 71.76,161.7 71.84,159.5 71.91,165.3 71.99,161.9 72.07,162.4 72.15,165.9 72.23,161.3 72.31,162.5 72.39,163.6 72.47,164.1 72.55,156.8 72.62,163.7 72.7,166.4 72.78,164.9 72.86,163.9 72.94,164 73.02,163.5 73.1,165.5 73.18,162.5 73.26,164.6 73.34,166.3 73.41,165.4 73.49,164.7 73.57,162.4 73.65,163.2 73.73,164.8 73.81,164.2 73.89,163.9 73.97,160.5 74.05,165.7 74.12,163.7 74.2,163.3 74.28,166.6 74.36,164.5 74.44,164.6 74.52,165.9 74.6,164 74.68,163.2 74.76,163.1 74.83,165.7 74.91,165.1 74.99,160.9 75.07,167.7 75.15,165.2 75.23,164 75.31,165.5 75.39,164.6 75.47,165.6 75.54,164.6 75.62,163.6 75.7,166.6 75.78,165.9 75.86,166.5 75.94,167.2 76.02,166.6 76.1,168.8 76.18,165.2 76.25,163.4 76.33,163.5 76.41,164.4 76.49,168.9 76.57,164 76.65,168.5 76.73,167.3 76.81,163.6 76.89,169.5 76.96,165.7 77.04,166.9 77.12,167.9 77.2,169.4 77.28,166.9 77.36,168.7 77.44,165.8 77.52,165.5 77.6,170.7 77.67,169.1 77.75,168.8 77.83,170.5 77.91,170.5 77.99,168.2 78.07,168.8 78.15,171.8 78.23,169.6 78.31,167.6 78.38,171.1 78.46,170.6 78.54,165.6 78.62,166.2 78.7,172.2 78.78,171.7 78.86,168.3 78.94,171.5 79.02,169.7 79.09,170.2 79.17,168.2 79.25,174.5 79.33,173.9 79.41,172 79.49,167.5 79.57,170 79.65,173.2 79.73,168.8 79.8,168.4 79.88,170.4 79.96,170.6 80.04,169.2 80.12,167.6 80.2,169.9 80.28,169.1 80.36,170.4 80.44,171.1 80.52,172.3 80.59,170 80.67,171.2 80.75,171.1 80.83,168.8 80.91,169.7 80.99,169 81.07,174.1 81.15,169.8 81.23,172.2 81.3,172.7 81.38,172.8 81.46,168.7 81.54,169.5 81.62,172.7 81.7,173.7 81.78,171.3 81.86,172.4 81.94,168.1 82.01,174.6 82.09,175.4 82.17,172.2 82.25,171.7 82.33,171.5 82.41,170.3 82.49,167.6 82.57,172.7 82.65,173.1 82.72,175.7 82.8,171.6 82.88,170.4 82.96,172.8 83.04,169.9 83.12,172.3 83.2,169.3 83.28,171.8 83.36,174.7 83.43,173.9 83.51,175.8 83.59,176.3 83.67,172.2 83.75,171 83.83,168.8 83.91,173 83.99,173.5 84.07,175.3 84.14,171 84.22,172.3 84.3,174.4 84.38,171.8 84.46,172.1 84.54,177.2 84.62,171.9 84.7,173.2 84.78,174.3 84.85,174.4 84.93,170 85.01,170.5 85.09,169.9 85.17,176.2 85.25,175.2 85.33,172 85.41,176.5 85.49,175.5 85.56,177.8 85.64,170.2 85.72,171.9 85.8,173.2 85.88,173.8 85.96,175.2 86.04,175.2 86.12,173.1 86.2,175.9 86.27,171.9 86.35,175.6 86.43,176.4 86.51,171.9 86.59,175 86.67,173.6 86.75,175.7 86.83,179.6 86.91,173.8 86.98,177.8 87.06,172.7 87.14,178.3 87.22,179 87.3,174.5 87.38,174.3 87.46,175 87.54,177.9 87.62,173.5 87.69,178.5 87.77,176.4 87.85,177.2 87.93,176.3 88.01,173.8 88.09,177 88.17,174.5 88.25,174.3 88.33,179.4 88.41,178.3 88.48,176.7 88.56,177.2 88.64,175.3 88.72,180.1 88.8,174.5 88.88,174.5 88.96,176.5 89.04,179.1 89.12,176.2 89.19,177.4 89.27,175.1 89.35,176.5 89.43,174.9 89.51,177.4 89.59,173.4 89.67,181.4 89.75,178.7 89.83,175.6 89.9,179.9 89.98,175.1 90.06,179.3 90.14,176.6 90.22,178.8 90.3,177.8 90.38,176.5 90.46,177.2 90.54,177.8 90.61,172.4 90.69,177 90.77,179.2 90.85,175.2 90.93,175.4 91.01,174.6 91.09,173.5 91.17,179.3 91.25,175.1 91.32,174.9 91.4,177.4 91.48,176.9 91.56,183.9 91.64,178.7 91.72,173.7 91.8,181.4 91.88,178.8 91.96,177.1 92.03,176.5 92.11,174.3 92.19,181.5 92.27,177.7 92.35,176 92.43,180.7 92.51,178 92.59,173.9 92.67,175.2 92.74,176.9 92.82,183.6 92.9,178.4 92.98,177.3 93.06,178.8 93.14,178.3 93.22,171.6 93.3,178.7 93.38,180.3 93.45,177.8 93.53,179 93.61,179 93.69,178.6 93.77,176.8 93.85,178 93.93,181.1 94.01,178.8 94.09,177.5 94.16,179.6 94.24,176.2 94.32,177 94.4,180.8 94.48,178 94.56,174.5 94.64,175.4 94.72,178.9 94.8,176.9 94.87,180.3 94.95,182 95.03,177.7 95.11,178.4 95.19,177.9 95.27,179.1 95.35,178.4 95.43,180.2 95.51,178.1 95.58,177.4 95.66,179.3 95.74,177.5 95.82,183.1 95.9,181 95.98,176.2 96.06,175.5 96.14,178.8 96.22,179.6 96.3,182.2 96.37,178.7 96.45,177.8 96.53,182.7 96.61,178.3 96.69,178.5 96.77,178.6 96.85,182.1 96.93,178.5 97.01,182.9 97.08,176.5 97.16,179.5 97.24,182.3 97.32,176.9 97.4,177.3 97.48,181.3 97.56,175.1 97.64,182.1 97.72,179.3 97.79,177.4 97.87,184.9 97.95,177.9 98.03,180.2 98.11,180.1 98.19,182.4 98.27,179.4 98.35,182.6 98.43,182.3 98.5,181.2 98.58,182.9 98.66,176.9 98.74,183.2 98.82,182 98.9,181.1 98.98,180.4 99.06,178.7 99.14,178.7 99.21,181.1 99.29,181.3 99.37,180.5 99.45,178.8 99.53,179.1 99.61,181.7 99.69,185.1 99.77,176 99.85,178.6 99.92,180.1 100,180 100.08,181.9 100.16,183 100.24,181.5 100.32,181.3 100.4,182.2 100.48,184.1 100.56,181.6 100.63,179.7 100.71,182.1 100.79,181 100.87,185.5 100.95,181.5 101.03,181.3 101.11,183.8 101.19,184.9 101.27,180.3 101.34,182.9 101.42,180.2 101.5,182.1 101.58,179.9 101.66,182 101.74,184.6 101.82,181.5 101.9,182.1 101.98,180 102.05,182.4 102.13,182.3 102.21,179.6 102.29,179 102.37,179.9 102.45,179.3 102.53,180.6 102.61,179.9 102.69,179.7 102.76,180.8 102.84,181.5 102.92,181.4 103,176.5 103.08,181.7 103.16,182.3 103.24,182.6 103.32,181.9 103.4,181.3 103.47,184.3 103.55,186.2 103.63,181.2 103.71,185.4 103.79,181.4 103.87,181.7 103.95,179.5 104.03,178.4 104.11,181.2 104.19,183.3 104.26,184.6 104.34,183.8 104.42,182 104.5,186.6 104.58,182 104.66,182.2 104.74,180.8 104.82,183 104.9,182 104.97,183.9 105.05,183.3 105.13,186.2 105.21,182.1 105.29,179 105.37,182 105.45,181.6 105.53,184.6 105.61,179.3 105.68,184.1 105.76,180.7 105.84,182.3 105.92,184.6 106,180.3 106.08,182.5 106.16,182.2 106.24,181.6 106.32,182.7 106.39,183.5 106.47,181.7 106.55,183.6 106.63,182.6 106.71,184.2 106.79,186 106.87,184.2 106.95,183.9 107.03,182.8 107.1,180.3 107.18,186.5 107.26,182.6 107.34,187.7 107.42,185.2 107.5,184 107.58,187.9 107.66,187 107.74,182.7 107.81,182.8 107.89,183.3 107.97,184.8 108.05,178.4 108.13,183.4 108.21,185 108.29,179.5 108.37,181.8 108.45,184 108.52,180.6 108.6,182.9 108.68,181.8 108.76,182.7 108.84,185.5 108.92,181.2 109,183 109.08,185.5 109.16,185 109.23,181.3 109.31,184.2 109.39,183.3 109.47,182 109.55,183.1 109.63,186.8 109.71,182.1 109.79,181.4 109.87,181.6 109.94,180 110.02,182.7 110.1,181.9 110.18,180.1 110.26,184.2 110.34,179.8 110.42,179.8 110.5,181.9 110.58,179.6 110.65,181.8 110.73,185.6 110.81,181.2 110.89,183 110.97,182.8 111.05,183.4 111.13,180.8 111.21,182.6 111.29,185.3 111.36,182.8 111.44,182.2 111.52,185.4 111.6,184.8 111.68,184.7 111.76,185.2 111.84,183.1 111.92,181.7 112,179.8 112.07,181.3 112.15,181.7 112.23,181.5 112.31,181.1 112.39,184.8 112.47,182.5 112.55,183.3 112.63,184.3 112.71,185.1 112.79,185.2 112.86,184.7 112.94,186.8 113.02,183 113.1,184.2 113.18,183.9 113.26,183.4 113.34,182.6 113.42,185.5 113.5,184.5 113.57,187.8 113.65,189.1 113.73,188.5 113.81,180.9 113.89,188.3 113.97,183.3 114.05,181.1 114.13,185.3 114.21,180.8 114.28,180.3 114.36,182.3 114.44,179.2 114.52,183.1 114.6,186 114.68,183.3 114.76,185.4 114.84,187.3 114.92,187.3 114.99,179.4 115.07,185.7 115.15,184.6 115.23,186 115.31,184.2 115.39,185.1 115.47,185.5 115.55,187.2 115.63,187.7 115.7,186.2 115.78,184 115.86,180.1 115.94,182.3 116.02,180.7 116.1,183.6 116.18,184.9 116.26,187.6 116.34,184.7 116.41,189.4 116.49,185.4 116.57,181.2 116.65,184 116.73,182.3 116.81,185.6 116.89,187.8 116.97,185.8 117.05,185.7 117.12,182.2 117.2,180.5 117.28,186.5 117.36,185.6 117.44,185.2 117.52,185.6 117.6,187.6 117.68,184.7 117.76,184.1 117.83,184.1 117.91,187.6 117.99,185.2 118.07,188.8 118.15,183 118.23,187.2 118.31,185.6 118.39,186 118.47,186.3 118.54,187.4 118.62,188.9 118.7,181.3 118.78,184.5 118.86,184.5 118.94,180.5 119.02,185.3 119.1,183.9 119.18,185.1 119.25,182.5 119.33,184.1 119.41,184.5 119.49,185.7 119.57,184.6 119.65,182.6 119.73,189.8 119.81,185.5 119.89,186.1 119.97,185.9 120.04,189.6 120.12,183.7 120.2,187.1 120.28,185.8 120.36,186.4 120.44,189 120.52,186.3 120.6,189.4 120.68,187.4 120.75,186 120.83,185.4 120.91,185.3 120.99,185.7 121.07,180.7 121.15,184.5 121.23,188.1 121.31,186.8 121.39,186.9 121.46,185.8 121.54,186.8 121.62,187.4 121.7,181.9 121.78,185.4 121.86,186.3 121.94,186.1 122.02,186 122.1,182.5 122.17,184.5 122.25,183.1 122.33,192.4 122.41,184.9 122.49,183.3 122.57,181.3 122.65,185.6 122.73,189.4 122.81,184.4 122.88,187 122.96,189.6 123.04,187 123.12,183.4 123.2,183.1 123.28,184.1 123.36,188 123.44,180.2 123.52,188.3 123.59,185.9 123.67,188.9 123.75,182.9 123.83,184.8 123.91,183.8 123.99,185.6 124.07,186 124.15,185.4 124.23,190 124.3,183.7 124.38,183.8 124.46,186.7 124.54,185.9 124.62,185.2 124.7,182.4 124.78,185 124.86,185.8 124.94,187 125.01,189.2 125.09,187.2 125.17,185.8 125.25,186.5 125.33,185.8 125.41,184.3 125.49,185 125.57,185.4 125.65,184.6 125.72,185.6 125.8,186.1 125.88,185 125.96,189.8 126.04,183.3 126.12,188.9 126.2,184.2 126.28,186.1 126.36,183.7 126.43,186 126.51,188.2 126.59,183.8 126.67,185.7 126.75,185.9 126.83,186 126.91,184 126.99,184.4 127.07,185.7 127.14,189.6 127.22,187.1 127.3,186 127.38,182.3 127.46,185.4 127.54,186.4 127.62,183.6 127.7,186.5 127.78,186.3 127.85,185.9 127.93,189.6 128.01,184.2 128.09,185.4 128.17,186.9 128.25,188.8 128.33,185.8 128.41,183.3 128.49,187.7 128.57,188.7 128.64,185.4 128.72,189.9 128.8,191.2 128.88,187.4 128.96,187.9 129.04,187 129.12,187.6 129.2,185.7 129.28,186.9 129.35,187.7 129.43,187.4 129.51,185.1 129.59,184.4 129.67,184.5 129.75,184.9 129.83,193.7 129.91,188.7 129.99,187.2 130.06,186.1 130.14,190.1 130.22,183.4 130.3,185.9 130.38,187.9 130.46,186.2 130.54,187.3 130.62,188.2 130.7,185.5 130.77,187.6 130.85,189.7 130.93,188 131.01,186.9 131.09,189 131.17,183.9 131.25,189 131.33,182.8 131.41,184.7 131.48,188.7 131.56,186.4 131.64,184.1 131.72,187.1 131.8,189.3 131.88,186.5 131.96,182.3 132.04,190 132.12,185.5 132.19,186.7 132.27,187 132.35,187.6 132.43,187.5 132.51,184.5 132.59,185.5 132.67,189 132.75,183.4 132.83,189.6 132.9,185.4 132.98,186.4 133.06,184.2 133.14,186.1 133.22,184.5 133.3,186.9 133.38,184.7 133.46,186.1 133.54,182.2 133.61,188.4 133.69,184.3 133.77,185.9 133.85,186.5 133.93,188.2 134.01,185.9 134.09,190.2 134.17,189.9 134.25,185.4 134.32,190.4 134.4,183.8 134.48,187.6 134.56,186.4 134.64,186.8 134.72,186.1 134.8,187.6 134.88,187.8 134.96,187.3 135.03,184.7 135.11,184.6 135.19,184.3 135.27,186.3 135.35,187.5 135.43,190.8 135.51,185.7 135.59,185.2 135.67,188 135.75,185.3 135.82,184.3 135.9,186.9 135.98,184.8 136.06,186.5 136.14,191 136.22,188.2 136.3,188.1 136.38,186 136.46,189.1 136.53,188.1 136.61,189.3 136.69,187.3 136.77,187.1 136.85,185.1 136.93,185.5 137.01,186.9 137.09,186.7 137.17,187 137.24,187 137.32,183.9 137.4,192.7 137.48,187.7 137.56,186.6 137.64,184.8 137.72,189.7 137.8,186.6 137.88,185.4 137.95,188.3 138.03,191.5 138.11,188.1 138.19,190 138.27,185.9 138.35,189.2 138.43,183.5 138.51,187.1 138.59,189.2 138.66,188.5 138.74,189.8 138.82,186.6 138.9,184.2 138.98,187.9 139.06,185.4 139.14,189.5 139.22,186.8 139.3,182.4 139.37,190.6 139.45,184.8 139.53,184.9 139.61,191.6 139.69,190.7 139.77,189.7 139.85,185.4 139.93,188.5 140.01,187.9 140.08,186 140.16,187.3 140.24,187.1 140.32,188.3 140.4,185.1 140.48,189.3 140.56,183.9 140.64,188.3 140.72,189.4 140.79,186.2 140.87,186.6 140.95,192 141.03,187.2 141.11,190.6 141.19,189.5 141.27,185.9 141.35,189.6 141.43,186.9 141.5,188.5 141.58,183.5 141.66,187.9 141.74,190.3 141.82,190.1 141.9,189.7 141.98,187.5 142.06,187.8 142.14,185.6 142.21,187.4 142.29,187.5 142.37,187.1 142.45,188.1 142.53,187.2 142.61,186.1 142.69,186.1 142.77,189 142.85,191.7 142.92,189.6 143,187.2 143.08,193.3 143.16,188.9 143.24,186.9 143.32,189.1 143.4,190.3 143.48,184 143.56,184.9 143.63,188.5 143.71,185 143.79,185.1 143.87,190.4 143.95,182.1 144.03,190 144.11,188.5 144.19,190.4 144.27,187.8 144.35,190.9 144.42,188 144.5,185.6 144.58,187.5 144.66,188.6 144.74,184.6 144.82,190 144.9,185.9 144.98,188.7 145.06,187.6 145.13,188 145.21,187.8 145.29,188.2 145.37,189.8 145.45,189.3 145.53,187.1 145.61,188.4 145.69,190.7 145.77,189.7 145.84,189.7 145.92,188.3 146,187.8 146.08,188 146.16,189.6 146.24,188.1 146.32,191.2 146.4,194.5 146.48,188.3 146.55,191.8 146.63,190.3 146.71,190.9 146.79,186.9 146.87,190.9 146.95,187.7 147.03,189.3 147.11,191 147.19,191.7 147.26,187.3 147.34,187.5 147.42,186.6 147.5,184.3 147.58,187.7 147.66,187.7 147.74,188.6 147.82,188.1 147.9,189.1 147.97,190.3 148.05,184 148.13,192.5 148.21,187.9 148.29,187.4 148.37,188.1 148.45,190.5 148.53,188.9 148.61,189.5 148.68,190.8 148.76,188.6 148.84,189.4 148.92,189.7 149,187 149.08,190.8 149.16,187.6 149.24,189.9 149.32,187.6 149.39,188.4 149.47,188 149.55,190.7 149.63,190.3 149.71,190.5 149.79,188.2 149.87,187 149.95,186.2 150.03,189.7 150.1,188.4 150.18,192.2 150.26,193.5 150.34,190.5 150.42,190.1 150.5,192.1 150.58,192.6 150.66,187.5 150.74,190.4 150.81,192.4 150.89,183.6 150.97,188.3 151.05,189.4 151.13,187.2 151.21,190.4 151.29,185.3 151.37,192.1 151.45,191.6 151.53,189.1 151.6,190.4 151.68,185.7 151.76,192.3 151.84,190.4 151.92,188.3 152,187.6 152.08,186.6 152.16,188.1 152.24,184 152.31,189.9 152.39,188.5 152.47,187 152.55,189.6 152.63,189.5 152.71,189.9 152.79,190.3 152.87,191.4 152.95,190.1 153.02,192.3 153.1,188.1 153.18,192.4 153.26,184.4 153.34,185.2 153.42,186.5 153.5,189.4 153.58,190.3 153.66,186.3 153.73,188.6 153.81,187.8 153.89,190.6 153.97,186.7 154.05,190.8 154.13,188.8 154.21,192.8 154.29,190.5 154.37,188 154.44,190 154.52,190 154.6,187.3 154.68,189.2 154.76,186.4 154.84,194.4 154.92,187.9 155,188 155.08,192.5 155.15,192 155.23,187.2 155.31,191.5 155.39,190.5 155.47,187.8 155.55,189.9 155.63,188.1 155.71,191.1 155.79,188.5 155.86,186.8 155.94,188.5 156.02,194 156.1,187.8 156.18,189.1 156.26,191.2 156.34,186.2 156.42,193 156.5,185.1 156.57,190.6 156.65,185.8 156.73,189.3 156.81,192.2 156.89,189.1 156.97,188.5 157.05,188.1 157.13,187 157.21,191.3 157.28,188.2 157.36,187.7 157.44,189.9 157.52,191.4 157.6,191.4 157.68,187.7 157.76,187.6 157.84,191.2 157.92,192.3 157.99,186.6 158.07,192.8 158.15,189 158.23,191.1 158.31,193.2 158.39,189.1 158.47,189.8 158.55,186.2 158.63,184.4 158.7,189.8 158.78,187.2 158.86,187.1 158.94,190.6 159.02,191.3 159.1,185.9 159.18,190.2 159.26,189.5 159.34,190.1 159.41,189.8 159.49,190.8 159.57,187.8 159.65,186.7 159.73,190.3 159.81,192.5 159.89,189.4 159.97,192.8 160.05,190.9 160.13,186.8 160.2,184.5 160.28,188.7 160.36,191.9 160.44,187.8 160.52,194.5 160.6,191.1 160.68,186.2 160.76,187.9 160.84,192.6 160.91,193.2 160.99,187.7 161.07,189.7 161.15,190.9 161.23,188.7 161.31,190.9 161.39,193.8 161.47,187.9 161.55,191 161.62,191.8 161.7,192.6 161.78,189.1 161.86,191.4 161.94,188.3 162.02,190.2 162.1,187.3 162.18,190.5 162.26,191.1 162.33,194 162.41,192.1 162.49,188.1 162.57,183 162.65,192.4 162.73,192 162.81,189 162.89,188.7 162.97,191.2 163.04,189.6 163.12,193.3 163.2,190.4 163.28,187.8 163.36,186.2 163.44,190.1 163.52,190.3 163.6,188.8 163.68,187.4 163.75,188.7 163.83,191.4 163.91,189 163.99,187.7 164.07,191.4 164.15,192.7 164.23,188.7 164.31,189 164.39,187.7 164.46,189.7 164.54,191.3 164.62,190.8 164.7,192.1 164.78,191.9 164.86,191.1 164.94,190.9 165.02,187.5 165.1,192.6 165.17,190 165.25,191.2 165.33,186.7 165.41,189.3 165.49,190.7 165.57,188.1 165.65,189.8 165.73,191 165.81,186.6 165.88,188.4 165.96,186.2 166.04,187.4 166.12,188.3 166.2,189.7 166.28,192.3 166.36,188.4 166.44,189.8 166.52,188.5 166.59,190 166.67,191.5 166.75,192.2 166.83,188.5 166.91,187.2 166.99,190.6 167.07,189 167.15,187 167.23,191.9 167.31,190.8 167.38,192.5 167.46,187.5 167.54,189.5 167.62,191.1 167.7,193.7 167.78,190.5 167.86,187.9 167.94,190.7 168.02,191 168.09,188.7 168.17,192.8 168.25,190 168.33,188.8 168.41,191.8 168.49,191.9 168.57,189.6 168.65,190.4 168.73,190.7 168.8,189.7 168.88,189.7 168.96,192.2 169.04,191.6 169.12,189.2 169.2,187.7 169.28,187.2 169.36,192 169.44,187.8 169.51,188.5 169.59,190.3 169.67,189.1 169.75,188.4 169.83,186.3 169.91,192.5 169.99,188.9 170.07,190.5 170.15,190.7 170.22,187.8 170.3,188.5 170.38,192.5 170.46,190.9 170.54,189.8 170.62,193.4 170.7,188.4 170.78,190.5 170.86,189.9 170.93,189.6 171.01,186.4 171.09,190.2 171.17,191.1 171.25,186.5 171.33,191.4 171.41,191.5 171.49,193.4 171.57,188 171.64,189.8 171.72,189.3 171.8,190 171.88,190.7 171.96,192.1 172.04,192.1 172.12,189.5 172.2,190.1 172.28,186.9 172.35,192.1 172.43,191.5 172.51,192.6 172.59,187.4 172.67,193.1 172.75,188.8 172.83,187.3 172.91,190.8 172.99,188.9 173.06,195.1 173.14,191.3 173.22,194.1 173.3,190.1 173.38,190.5 173.46,192.2 173.54,188.5 173.62,189.7 173.7,191.7 173.77,191.6 173.85,193.7 173.93,190.9 174.01,185.9 174.09,192.1 174.17,189.6 174.25,191.8 174.33,188.8 174.41,189.6 174.48,191.1 174.56,194.5 174.64,191.7 174.72,188 174.8,191.1 174.88,189.2 174.96,191.7 175.04,194.7 175.12,189.7 175.19,189.9 175.27,191.9 175.35,191.5 175.43,190 175.51,192 175.59,189.9 175.67,191.1 175.75,195.8 175.83,191 175.91,192 175.98,192.5 176.06,189.8 176.14,191.8 176.22,189.6 176.3,188.4 176.38,190.4 176.46,194.1 176.54,192.3 176.62,188.8 176.69,191.3 176.77,192.5 176.85,191 176.93,189.7 177.01,190.2 177.09,189.4 177.17,192.6 177.25,191.4 177.33,191.4 177.4,190.9 177.48,195.4 177.56,191.3 177.64,193.8 177.72,187.8 177.8,187.5 177.88,187.2 177.96,189.1 178.04,191.9 178.11,188.8 178.19,191.3 178.27,189.6 178.35,192.9 178.43,192.2 178.51,189.9 178.59,187.1 178.67,191 178.75,186 178.82,185 178.9,193.7 178.98,191 179.06,193 179.14,191.3 179.22,192.1 179.3,191.1 179.38,188.9 179.46,189 179.53,190.4 179.61,191 179.69,190.8 179.77,190.7 179.85,189.8 179.93,191 180.01,190 180.09,193.9 180.17,189.3 180.24,187.3 180.32,190.7 180.4,194.1 180.48,188.2 180.56,191.8 180.64,197.6 180.72,191.6 180.8,189.8 180.88,190.3 180.95,188.4 181.03,189.8 181.11,190.9 181.19,195.4 181.27,193.6 181.35,190.8 181.43,189.7 181.51,193.4 181.59,192.5 181.66,190.2 181.74,195.3 181.82,195.4 181.9,191.7 181.98,190.7 182.06,192.3 182.14,196.2 182.22,191.2 182.3,194.1 182.37,189.8 182.45,191.5 182.53,190.7 182.61,189.9 182.69,192.4 182.77,189.5 182.85,188.6 182.93,190.4 183.01,188.4 183.09,192.7 183.16,189.3 183.24,190.7 183.32,193.5 183.4,191.5 183.48,192.5 183.56,192.6 183.64,191.2 183.72,189.1 183.8,192.1 183.87,191.1 183.95,194.6 184.03,191.2 184.11,188.9 184.19,189.7 184.27,190.4 184.35,192.6 184.43,193.6 184.51,191.7 184.58,194.4 184.66,194.1 184.74,189.4 184.82,193.5 184.9,187.6 184.98,194.6 185.06,190.6 185.14,194.1 185.22,191.1 185.29,193.8 185.37,191.4 185.45,191.9 185.53,192.5 185.61,190.4 185.69,188.3 185.77,192.9 185.85,189.7 185.93,191.4 186,191.7 186.08,186.8 186.16,196.3 186.24,193.1 186.32,195.6 186.4,192.3 186.48,192.1 186.56,183.4 186.64,190.9 186.71,187.8 186.79,188.8 186.87,192.6 186.95,190.6 187.03,188.1 187.11,191.3 187.19,191.3 187.27,190.6 187.35,195 187.42,193.5 187.5,191 187.58,190.6 187.66,193.8 187.74,192.5 187.82,192 187.9,192.1 187.98,190.3 188.06,191.6 188.13,191.4 188.21,194.9 188.29,194.1 188.37,191.1 188.45,195.3 188.53,191.3 188.61,193.3 188.69,193.6 188.77,190.5 188.84,193.3 188.92,193.7 189,193.4 189.08,191.8 189.16,185.9 189.24,196.5 189.32,192 189.4,192.5 189.48,189.9 189.55,192.8 189.63,197.3 189.71,189.1 189.79,194.4 189.87,192.1 189.95,195 190.03,194.4 190.11,193.1 190.19,190.1 190.26,190.2 190.34,193.3 190.42,190.9 190.5,192.9 190.58,191.8 190.66,191.7 190.74,190.7 190.82,193.4 190.9,192.4 190.97,191.6 191.05,191.9 191.13,193.9 191.21,188.4 191.29,193.1 191.37,190.5 191.45,191.7 191.53,189.5 191.61,196.9 191.69,187.7 191.76,192.6 191.84,194.9 191.92,191.9 192,187.3 192.08,191.1 192.16,194.9 192.24,193.2 192.32,189.3 192.4,195.3 192.47,192.7 192.55,192.9 192.63,187.5 192.71,192.9 192.79,189.4 192.87,193.8 192.95,194.1 193.03,190.1 193.11,191 193.18,196.1 193.26,190.9 193.34,190.9 193.42,193.7 193.5,191.9 193.58,191.8 193.66,193.4 193.74,193.7 193.82,193.9 193.89,193 193.97,195.3 194.05,192.5 194.13,195.7 194.21,192.3 194.29,192.6 194.37,194.7 194.45,190.6 194.53,188.2 194.6,189.6 194.68,195.5 194.76,189.7 194.84,192 194.92,192.6 195,193.8 195.08,192.5 195.16,189.5 195.24,191.3 195.31,193.4 195.39,194 195.47,193.5 195.55,191.3 195.63,188.5 195.71,194.9 195.79,192.6 195.87,193.4 195.95,194.2 196.02,191.7 196.1,191.4 196.18,195.7 196.26,194.9 196.34,190 196.42,192 196.5,191.5 196.58,193.8 196.66,193.5 196.73,191.7 196.81,193.8 196.89,195.1 196.97,192.7 197.05,190.7 197.13,195 197.21,190.4 197.29,191.2 197.37,194.6 197.44,192.7 197.52,192.9 197.6,191.4 197.68,191.3 197.76,195.6 197.84,195.7 197.92,190.6 198,192.6 198.08,191.9 198.15,192.1 198.23,189.5 198.31,195.5 198.39,190.5 198.47,194.6 198.55,191.3 198.63,190 198.71,195.9 198.79,192 198.87,193.5 198.94,193.5 199.02,192.8 199.1,195.2 199.18,195 199.26,191.5 199.34,191.1 199.42,194.2 199.5,196.1 199.58,187.9 199.65,190.6 199.73,192.2 199.81,195.2 199.89,194.3 199.97,192.5 200.05,195.1 200.13,189.5 200.21,192.7 200.29,192.2 200.36,195.3 200.44,195 200.52,194.8 200.6,192.5 200.68,193.6 200.76,193.7 200.84,192.4 200.92,192.6 201,189.9 201.07,193.5 201.15,195.3 201.23,193.1 201.31,190 201.39,194.3 201.47,193 201.55,193.9 201.63,192.3 201.71,192.6 201.78,194.9 201.86,193.7 201.94,191.2 202.02,190.8 202.1,191.2 202.18,191.3 202.26,193.9 202.34,194 202.42,191.2 202.49,195.8 202.57,193.4 202.65,197.3 202.73,194.1 202.81,194.8 202.89,195.9 202.97,192 203.05,194.9 203.13,194.1 203.2,193.9 203.28,194.9 203.36,190.3 203.44,194.4 203.52,192.9 203.6,196.2 203.68,194.4 203.76,194.1 203.84,194 203.91,194.6 203.99,193.1 204.07,190 204.15,193.7 204.23,193.7 204.31,194.3 204.39,187.9 204.47,189.9 204.55,192.2 204.62,191.9 204.7,195 204.78,193.8 204.86,193 204.94,193.2 205.02,195.3 205.1,195.2 205.18,192.4 205.26,192.8 205.33,198 205.41,193.3 205.49,190.8 205.57,194.9 205.65,193 205.73,196.7 205.81,191.8 205.89,196 205.97,196.3 206.04,194.3 206.12,188.5 206.2,194.9 206.28,196.3 206.36,192.6 206.44,193.1 206.52,190 206.6,196.4 206.68,197.1 206.75,194.3 206.83,192.8 206.91,192.9 206.99,191.3 207.07,196.9 207.15,195.4 207.23,194 207.31,191.9 207.39,192.7 207.47,194.6 207.54,195.9 207.62,191.8 207.7,191.7 207.78,187.9 207.86,194.1 207.94,190.2 208.02,196.4 208.1,194.9 208.18,195.2 208.25,194.8 208.33,195.7 208.41,195 208.49,193.9 208.57,194.8 208.65,192.4 208.73,194 208.81,193.8 208.89,190.7 208.96,193.2 209.04,193.5 209.12,193.9 209.2,193.7 209.28,192.6 209.36,195.6 209.44,191.4 209.52,190.5 209.6,191.4 209.67,195 209.75,197.3 209.83,194.9 209.91,193.6 209.99,192.1 210.07,194.3 210.15,194.6 210.23,190.7 210.31,195.4 210.38,191.7 210.46,192 210.54,196.8 210.62,193.4 210.7,195.2 210.78,196 210.86,198 210.94,197.4 211.02,193.1 211.09,194.9 211.17,193.4 211.25,196.3 211.33,194.7 211.41,194.6 211.49,197.4 211.57,197.6 211.65,193.1 211.73,193.8 211.8,196.1 211.88,194.3 211.96,192.7 212.04,190.2 212.12,196 212.2,192.8 212.28,189.6 212.36,194 212.44,191 212.51,199.7 212.59,191 212.67,194.2 212.75,198.2 212.83,192.5 212.91,191.9 212.99,191.6 213.07,191.6 213.15,194.3 213.22,195.8 213.3,195.2 213.38,194.3 213.46,193.4 213.54,195.3 213.62,194.1 213.7,192.4 213.78,193.6 213.86,189.3 213.93,189.6 214.01,196.7 214.09,195.5 214.17,197.1 214.25,196.8 214.33,193.1 214.41,196.4 214.49,196.6 214.57,194.9 214.65,192.6 214.72,195.1 214.8,195.1 214.88,192.4 214.96,193.3 215.04,193.4 215.12,192.3 215.2,196.6 215.28,193.9 215.36,195.8 215.43,192.2 215.51,192.6 215.59,196.7 215.67,191.5 215.75,196.9 215.83,191.9 215.91,194 215.99,196.3 216.07,196.9 216.14,195.1 216.22,194.5 216.3,196 216.38,193.3 216.46,197.5 216.54,194.5 216.62,194.5 216.7,198.5 216.78,193.8 216.85,197.2 216.93,199.9 217.01,195.9 217.09,195 217.17,192.6 217.25,195.6 217.33,191.4 217.41,191.4 217.49,192.2 217.56,191.7 217.64,193.8 217.72,195.8 217.8,193.2 217.88,192.5 217.96,194.1 218.04,195.1 218.12,198 218.2,193.2 218.27,193.9 218.35,197.4 218.43,194.4 218.51,193.1 218.59,194.9 218.67,193 218.75,193 218.83,197.9 218.91,195.3 218.98,193.6 219.06,192.7 219.14,191.6 219.22,198.9 219.3,194.8 219.38,193.2 219.46,192.1 219.54,191.1 219.62,196.8 219.69,195.5 219.77,197 219.85,193 219.93,197.6 220.01,192.2 220.09,192.7 220.17,193.7 220.25,199.5 220.33,196.3 220.4,193.2 220.48,197.9 220.56,195.3 220.64,195 220.72,192.9 220.8,194.2 220.88,194.2 220.96,195.8 221.04,194.8 221.11,195.1 221.19,193.3 221.27,195.2 221.35,192.6 221.43,198.5 221.51,192.3 221.59,195.2 221.67,192.4 221.75,194.7 221.82,193 221.9,191.7 221.98,196.1 222.06,194.7 222.14,195.3 222.22,194.5 222.3,198.4 222.38,195.3 222.46,195.5 222.53,196.7 222.61,195.4 222.69,198.3 222.77,191.9 222.85,194 222.93,190.9 223.01,196.9 223.09,197.5 223.17,194.4 223.25,198.6 223.32,194.5 223.4,196.5 223.48,195.7 223.56,194.5 223.64,194.9 223.72,191 223.8,193.7 223.88,197.8 223.96,192.9 224.03,198 224.11,194.9 224.19,197.8 224.27,196.9 224.35,192.2 224.43,196.3 224.51,196.5 224.59,196.3 224.67,195.8 224.74,192 224.82,197.7 224.9,197.8 224.98,193.9 225.06,198.6 225.14,195.9 225.22,192.7 225.3,195.2 225.38,196.2 225.45,196.7 225.53,197.2 225.61,196.5 225.69,194.9 225.77,192.5 225.85,193.1 225.93,196.4 226.01,196.8 226.09,193.7 226.16,199.2 226.24,196.2 226.32,195.9 226.4,197.7 226.48,197.4 226.56,194.5 226.64,198.9 226.72,197.3 226.8,196.7 226.87,195.1 226.95,198.3 227.03,192.9 227.11,196 227.19,195.9 227.27,196.1 227.35,196.8 227.43,197.5 227.51,192.9 227.58,194.9 227.66,195.6 227.74,193.2 227.82,196.9 227.9,194 227.98,195.3 228.06,197.3 228.14,193.8 228.22,198.6 228.29,194 228.37,197.3 228.45,194.5 228.53,192.4 228.61,194.2 228.69,196.7 228.77,195.5 228.85,196.3 228.93,198 229,197.9 229.08,195.4 229.16,194.3 229.24,199.3 229.32,195.7 229.4,194.4 229.48,195.3 229.56,197.7 229.64,193.3 229.71,198.2 229.79,194.1 229.87,192.1 229.95,200 230.03,195 230.11,194.9 230.19,195.1 230.27,197.2 230.35,196.3 230.43,198.6 230.5,195.3 230.58,194.4 230.66,197 230.74,197.6 230.82,196.6 230.9,195.6 230.98,195.5 231.06,195.9 231.14,195.5 231.21,198.5 231.29,201.5 231.37,194.3 231.45,192.6 231.53,198.7 231.61,197.1 231.69,195 231.77,193.6 231.85,194.3 231.92,193 232,195.8 232.08,194.8 232.16,194.8 232.24,196.7 232.32,193.1 232.4,194.4 232.48,193.6 232.56,196.6 232.63,193.5 232.71,198 232.79,194.9 232.87,201.4 232.95,197.9 233.03,194.2 233.11,196.8 233.19,195.4 233.27,199.3 233.34,192.5 233.42,194.5 233.5,195.9 233.58,194.9 233.66,195.1 233.74,192.8 233.82,195.4 233.9,199 233.98,196.4 234.05,193.1 234.13,194.6 234.21,196.8 234.29,194.6 234.37,195.6 234.45,194.6 234.53,199.3 234.61,197.8 234.69,194.5 234.76,196.4 234.84,195.1 234.92,191.7 235,196.6 235.08,195.4 235.16,197.1 235.24,197.3 235.32,196.1 235.4,199 235.47,200.5 235.55,193 235.63,196.2 235.71,193.5 235.79,195.7 235.87,195.6 235.95,194.5 236.03,194.4 236.11,198.6 236.18,193.4 236.26,198.1 236.34,195.5 236.42,190.5 236.5,195.8 236.58,192.4 236.66,196.7 236.74,194.7 236.82,195.9 236.89,195.1 236.97,197.9 237.05,198 237.13,195.3 237.21,199.4 237.29,197.9 237.37,194.7 237.45,197.4 237.53,198 237.6,198.4 237.68,195.7 237.76,196.9 237.84,195.8 237.92,196.5 238,192.1 238.08,197 238.16,200.3 238.24,195.8 238.31,196.1 238.39,195.8 238.47,199.6 238.55,193.7 238.63,196.2 238.71,196.2 238.79,199.5 238.87,195.1 238.95,196.3 239.03,193.3 239.1,197 239.18,198.8 239.26,195.9 239.34,198.1 239.42,195.3 239.5,198.5 239.58,196.5 239.66,196.7 239.74,196.3 239.81,197.3 239.89,197.9 239.97,196.3 240.05,197.4 240.13,195.9 240.21,196.8 240.29,201 240.37,196.4 240.45,193.3 240.52,195.6 240.6,195 240.68,195.3 240.76,197.3 240.84,199.1 240.92,194.5 241,194 241.08,195.1 241.16,195.4 241.23,195.4 241.31,196.3 241.39,195.7 241.47,196.3 241.55,195.6 241.63,198.3 241.71,197.6 241.79,195.1 241.87,197 241.94,201.5 242.02,196.1 242.1,201.2 242.18,192.3 242.26,194.8 242.34,194.9 242.42,197.8 242.5,198.7 242.58,196.8 242.65,196.3 242.73,198 242.81,196 242.89,194.9 242.97,195.1 243.05,198.6 243.13,201 243.21,196.4 243.29,197.8 243.36,195.5 243.44,192.9 243.52,192.9 243.6,195.8 243.68,194.1 243.76,193 243.84,196.3 243.92,195.9 244,194.6 244.07,196.5 244.15,197.5 244.23,198 244.31,196.4 244.39,197.8 244.47,194.8 244.55,197.2 244.63,193.4 244.71,193.9 244.78,199.1 244.86,194.2 244.94,197.3 245.02,193.6 245.1,195.4 245.18,196.6 245.26,195.1 245.34,197.7 245.42,195.8 245.49,195.7 245.57,196.8 245.65,195.7 245.73,198.6 245.81,195.4 245.89,199.1 245.97,195.2 246.05,195.5 246.13,195 246.21,197.7 246.28,190.2 246.36,197 246.44,196.2 246.52,198.1 246.6,193.6 246.68,197.5 246.76,194.5 246.84,198.5 246.92,195.9 246.99,197.3 247.07,194.6 247.15,197.2 247.23,198.4 247.31,195.6 247.39,199.1 247.47,198.6 247.55,195 247.63,200.5 247.7,195 247.78,197.4 247.86,198.5 247.94,196.1 248.02,195.3 248.1,197.8 248.18,197 248.26,195 248.34,195.1 248.41,196.7 248.49,198.2 248.57,198.6 248.65,197.9 248.73,195.2 248.81,195.4 248.89,196 248.97,193.8 249.05,197.3 249.12,197.5 249.2,197.5 249.28,192.7 249.36,200.9 249.44,196.1 249.52,195.8 249.6,196.6 249.68,191.8 249.76,194.3 249.83,195.1 249.91,198.6 249.99,195.7 250.07,197.5 250.15,196.6 250.23,196.3 250.31,197.7 250.39,195.4 250.47,193.3 250.54,194.6 250.62,196.3 250.7,200.7 250.78,194.5 250.86,194.5 250.94,197.1 251.02,197.7 251.1,195.4 251.18,198.4 251.25,195.1 251.33,199 251.41,198.7 251.49,196.7 251.57,199.8 251.65,196.8 251.73,195.7 251.81,199.5 251.89,194.9 251.96,198 252.04,195.7 252.12,196.4 252.2,197.8 252.28,197.9 252.36,200.3 252.44,198.3 252.52,198.4 252.6,193.5 252.67,194.7 252.75,199.7 252.83,195.2 252.91,196.4 252.99,197.6 253.07,195.9 253.15,195.2 253.23,198.1 253.31,197.5 253.38,196.6 253.46,198.9 253.54,196.5 253.62,197.1 253.7,198.3 253.78,198.6 253.86,196.3 253.94,195.1 254.02,196.3 254.09,198.7 254.17,195.4 254.25,196.6 254.33,195.7 254.41,194.6 254.49,198.8 254.57,197.3 254.65,198.2 254.73,198.8 254.81,192.9 254.88,195.1 254.96,200.6 255.04,196.1 255.12,198.2 255.2,194.7 255.28,196.9 255.36,197.4 255.44,196.7 255.52,196.3 255.59,197 255.67,197.5 255.75,197.3 255.83,196 255.91,199.4 255.99,197.1 256.07,197.3 256.15,198.1 256.23,195.6 256.3,199.7 256.38,197.9 256.46,198.9 256.54,196 256.62,198.1 256.7,197 256.78,196.3 256.86,200.4 256.94,196.2 257.01,198.7 257.09,197.7 257.17,197.4 257.25,195.5 257.33,195.7 257.41,193.6 257.49,196.8 257.57,198.2 257.65,198.2 257.72,195.9 257.8,193.9 257.88,196.5 257.96,198.4 258.04,196.7 258.12,196.7 258.2,197.2 258.28,198.8 258.36,202.5 258.43,198.4 258.51,195.1 258.59,196.8 258.67,201.8 258.75,197.3 258.83,201.1 258.91,193.2 258.99,196.9 259.07,199.8 259.14,195.7 259.22,198.9 259.3,196.2 259.38,197.3 259.46,199.8 259.54,196 259.62,200.1 259.7,194.6 259.78,197.2 259.85,199.5 259.93,201.1 260.01,194.1 260.09,194.4 260.17,200 260.25,194 260.33,197.1 260.41,197.9 260.49,197.6 260.56,198 260.64,194.5 260.72,197.1 260.8,201.2 260.88,193.2 260.96,195.7 261.04,199.7 261.12,198.2 261.2,199.3 261.27,197.4 261.35,196.7 261.43,197 261.51,198.7 261.59,199.2 261.67,195.8 261.75,197.7 261.83,192.9 261.91,199.2 261.99,195.9 262.06,197.5 262.14,199.1 262.22,194.8 262.3,197.3 262.38,199.4 262.46,198.2 262.54,195.5 262.62,200.1 262.7,194.8 262.77,196.2 262.85,198.2 262.93,194.8 263.01,194 263.09,196.4 263.17,197.3 263.25,193.9 263.33,194.6 263.41,199.6 263.48,198.1 263.56,198.1 263.64,198.5 263.72,200.8 263.8,195.8 263.88,197.5 263.96,197.5 264.04,194.8 264.12,198.9 264.19,197.9 264.27,197.2 264.35,198.6 264.43,198 264.51,196.2 264.59,197.8 264.67,195 264.75,199.3 264.83,197.4 264.9,200.7 264.98,198 265.06,199.3 265.14,195 265.22,196.3 265.3,196.8 265.38,194 265.46,194.9 265.54,196.4 265.61,199.3 265.69,200.8 265.77,197.9 265.85,198.6 265.93,199.2 266.01,198.5 266.09,201.3 266.17,194.8 266.25,200.3 266.32,199.3 266.4,196.7 266.48,201.3 266.56,196 266.64,196 266.72,198.6 266.8,200.2 266.88,198.9 266.96,201.8 267.03,195.1 267.11,197.9 267.19,199.5 267.27,199.9 267.35,196.8 267.43,194.9 267.51,200.7 267.59,199.2 267.67,201.7 267.74,196.6 267.82,197.7 267.9,193.4 267.98,198.3 268.06,199 268.14,199.5 268.22,196.3 268.3,201.5 268.38,196.5 268.45,197.6 268.53,199.1 268.61,200 268.69,195.9 268.77,194.2 268.85,199 268.93,197 269.01,194.5 269.09,199.4 269.16,198.7 269.24,200.7 269.32,198.5 269.4,198.3 269.48,199 269.56,199.7 269.64,201.5 269.72,201 269.8,200.2 269.88,196.9 269.95,199.3 270.03,200 270.11,196.9 270.19,197.1 270.27,199.8 270.35,199.6 270.43,196.9 270.51,197.5 270.59,200 270.66,197.8 270.74,198.3 270.82,196 270.9,200.1 270.98,196.5 271.06,197.4 271.14,200.4 271.22,196.1 271.3,196.4 271.37,201.1 271.45,194.2 271.53,200.7 271.61,200.3 271.69,199 271.77,196.8 271.85,197.2 271.93,198.6 272.01,195.5 272.08,197.5 272.16,195.5 272.24,192.5 272.32,198 272.4,203.8 272.48,199.4 272.56,200.7 272.64,198.2 272.72,198.2 272.79,201 272.87,200.9 272.95,199 273.03,198.9 273.11,204 273.19,196.4 273.27,198.4 273.35,198.5 273.43,197.9 273.5,200.7 273.58,198.6 273.66,196.3 273.74,196.2 273.82,197.6 273.9,199.1 273.98,200.3 274.06,195.8 274.14,197.4 274.21,199.5 274.29,203.2 274.37,200.4 274.45,202.7 274.53,195.9 274.61,198.2 274.69,200.2 274.77,199.2 274.85,193.1 274.92,196 275,201.5 275.08,198.9 275.16,201.3 275.24,202.3 275.32,198.3 275.4,193.5 275.48,195.3 275.56,198.6 275.63,199.5 275.71,198.3 275.79,196.5 275.87,201.8 275.95,202.7 276.03,194.7 276.11,198.1 276.19,195.3 276.27,198.2 276.34,195.6 276.42,200.1 276.5,197.7 276.58,195.4 276.66,196.6 276.74,199.8 276.82,196.8 276.9,200.2 276.98,201.9 277.05,197.7 277.13,195.8 277.21,197 277.29,201.5 277.37,196.9 277.45,197.4 277.53,199.8 277.61,204.2 277.69,196.6 277.76,196.9 277.84,197.8 277.92,202.6 278,202.1 278.08,196.7 278.16,197.1 278.24,197.8 278.32,199.4 278.4,198 278.48,200.1 278.55,199.6 278.63,200.8 278.71,198.4 278.79,199.8 278.87,196.9 278.95,197.4 279.03,200.7 279.11,194.9 279.19,201.4 279.26,198 279.34,196.6 279.42,196.2 279.5,203.8 279.58,196.8 279.66,196.3 279.74,195.9 279.82,203.9 279.9,200.5 279.97,199.2 280.05,200 280.13,196.1 280.21,200.5 280.29,196.4 280.37,197.8 280.45,202.2 280.53,201.2 280.61,200.1 280.68,198.9 280.76,196.9 280.84,199.5 280.92,197.1 281,202.6 281.08,205.8 281.16,199.9 281.24,198.1 281.32,199.9 281.39,201.3 281.47,198.2 281.55,194.9 281.63,199.4 281.71,200.7 281.79,201 281.87,194.8 281.95,199.3 282.03,197.8 282.1,196.5 282.18,196.8 282.26,201.2 282.34,197.1 282.42,197.4 282.5,198.1 282.58,197 282.66,200.5 282.74,199.4 282.81,200.4 282.89,197.6 282.97,200.7 283.05,198.4 283.13,201.7 283.21,199.5 283.29,200.1 283.37,199.5 283.45,199 283.52,199.7 283.6,199.8 283.68,203.8 283.76,196.9 283.84,200.7 283.92,199.9 284,201.1 284.08,197.1 284.16,201.3 284.23,198.2 284.31,196.8 284.39,195.7 284.47,196.7 284.55,198 284.63,202 284.71,196.5 284.79,196.8 284.87,197.5 284.94,197.6 285.02,199.2 285.1,200.5 285.18,197 285.26,196.6 285.34,201.7 285.42,197.4 285.5,198.9 285.58,197.5 285.65,198.8 285.73,197 285.81,197.2 285.89,197.5 285.97,202.5 286.05,197.6 286.13,199.3 286.21,201.9 286.29,197.9 286.37,202.4 286.44,197.5 286.52,195.8 286.6,200.6 286.68,197.5 286.76,198.5 286.84,198.1 286.92,202.4 287,198.2 287.08,199.2 287.15,197.9 287.23,199.5 287.31,197.1 287.39,198.9 287.47,198 287.55,196.5 287.63,199.1 287.71,197.4 287.79,199 287.86,198.4 287.94,200.7 288.02,197.8 288.1,196.9 288.18,199.7 288.26,197.8 288.34,198.6 288.42,202 288.5,198.8 288.57,196.7 288.65,200.6 288.73,203.4 288.81,199.1 288.89,201 288.97,195.5 289.05,199.7 289.13,199.6 289.21,201 289.28,199.1 289.36,200.8 289.44,201.6 289.52,199.7 289.6,201.4 289.68,196.8 289.76,202.1 289.84,199.8 289.92,201.1 289.99,202.6 290.07,196.1 290.15,204.2 290.23,196.5 290.31,202.7 290.39,199.5 290.47,194.8 290.55,204.3 290.63,202.6 290.7,196.9 290.78,199.3 290.86,200.9 290.94,199.8 291.02,201.8 291.1,199.4 291.18,196.5 291.26,200.5 291.34,199.4 291.41,197.1 291.49,195.4 291.57,201 291.65,199.1 291.73,200.9 291.81,201.1 291.89,200.6 291.97,201.1 292.05,203.5 292.12,204 292.2,201.3 292.28,199.5 292.36,197.2 292.44,200.9 292.52,200.1 292.6,198.4 292.68,198.2 292.76,200 292.83,199.9 292.91,195.8 292.99,200.5 293.07,200.9 293.15,203.3 293.23,198.9 293.31,200.4 293.39,195.7 293.47,200.6 293.55,198.1 293.62,197.8 293.7,196.3 293.78,202.7 293.86,196.5 293.94,199.8 294.02,200.1 294.1,200.5 294.18,200.7 294.26,200.6 294.33,204.9 294.41,198.8 294.49,199.8 294.57,201.9 294.65,200 294.73,195 294.81,199.1 294.89,200.7 294.97,196.2 295.04,201.6 295.12,200.3 295.2,201.1 295.28,200.4 295.36,198.4 295.44,198.7 295.52,201.5 295.6,200.2 295.68,199.8 295.75,200.8 295.83,200 295.91,201.5 295.99,201.5 296.07,199.9 296.15,202.2 296.23,199.1 296.31,200.4 296.39,202 296.46,201.3 296.54,201 296.62,200.3 296.7,199.8 296.78,200.5 296.86,201.9 296.94,197 297.02,198.1 297.1,199.8 297.17,198 297.25,199.3 297.33,200.6 297.41,199.9 297.49,194.4 297.57,197.9 297.65,197.8 297.73,200.9 297.81,198.8 297.88,195.3 297.96,199.2 298.04,197.8 298.12,197.4 298.2,198.7 298.28,196.7 298.36,199.6 298.44,199 298.52,201.4 298.59,194.5 298.67,199.5 298.75,199.9 298.83,197.2 298.91,201.2 298.99,200.1 299.07,201.8 299.15,200.1 299.23,201 299.3,199 299.38,200.4 299.46,201.4 299.54,200.8 299.62,200.4 299.7,201.3 299.78,198.2 299.86,198.8 299.94,199.9 300.01,202.7 300.09,199.1 300.17,202.9 300.25,199.8 300.33,200.1 300.41,201.5 300.49,202 300.57,201.7 300.65,195.9 300.72,200.8 300.8,200.7 300.88,198.2 300.96,199.3 301.04,198 301.12,202.8 301.2,202.6 301.28,193.2 301.36,200.3 301.44,200.9 301.51,199.9 301.59,198.2 301.67,202.8 301.75,199.7 301.83,200.3 301.91,198.9 301.99,199.9 302.07,201.4 302.15,202.1 302.22,205.5 302.3,198.2 302.38,203.4 302.46,201.2 302.54,196.8 302.62,201.2 302.7,199 302.78,200.8 302.86,198.9 302.93,200.3 303.01,201.4 303.09,197.5 303.17,200.9 303.25,203.2 303.33,201 303.41,199.2 303.49,202.7 303.57,198.7 303.64,198.8 303.72,195.9 303.8,201.7 303.88,199 303.96,203.9 304.04,201.3 304.12,200.2 304.2,199.5 304.28,200.5 304.35,200.6 304.43,201.7 304.51,201.4 304.59,199.8 304.67,199.2 304.75,199.1 304.83,198.3 304.91,197.9 304.99,204.2 305.06,201.5 305.14,200.8 305.22,201.8 305.3,198.2 305.38,198.9 305.46,200.7 305.54,200.2 305.62,197.8 305.7,201.2 305.77,201.1 305.85,198.6 305.93,199.5 306.01,197.5 306.09,199.7 306.17,198.9 306.25,201.6 306.33,202.5 306.41,200.5 306.48,206.1 306.56,199.7 306.64,198.5 306.72,200.4 306.8,201 306.88,198.2 306.96,200.6 307.04,198.5 307.12,195.9 307.19,199 307.27,198.6 307.35,199.5 307.43,200 307.51,200 307.59,200.4 307.67,198.3 307.75,204 307.83,201.1 307.9,199.2 307.98,202.3 308.06,200.8 308.14,202 308.22,199.7 308.3,198.8 308.38,197.5 308.46,199.5 308.54,202.1 308.61,200.1 308.69,199.4 308.77,197.6 308.85,205.1 308.93,199.8 309.01,204.5 309.09,199.1 309.17,199.7 309.25,199.6 309.32,198.8 309.4,199.8 309.48,202 309.56,199.9 309.64,198.1 309.72,200.9 309.8,200.6 309.88,203.2 309.96,198.2 310.04,201.7 310.11,202.2 310.19,201.6 310.27,202.5 310.35,201.2 310.43,198 310.51,199 310.59,197.7 310.67,197.6 310.75,202.6 310.82,199.7 310.9,197.6 310.98,195.9 311.06,203.7 311.14,203.7 311.22,199.7 311.3,201.4 311.38,202.8 311.46,199.9 311.53,202.4 311.61,205.5 311.69,200.8 311.77,200.5 311.85,199.4 311.93,198.8 312.01,200.4 312.09,201.3 312.17,202.2 312.24,204.2 312.32,201.7 312.4,198.7 312.48,199.4 312.56,196.5 312.64,201.1 312.72,204.5 312.8,199.1 312.88,198.6 312.95,203.3 313.03,204.2 313.11,200.5 313.19,199.3 313.27,203.2 313.35,201.5 313.43,202.5 313.51,203.3 313.59,203.6 313.66,200.5 313.74,201.6 313.82,202.3 313.9,206.3 313.98,197.2 314.06,202.8 314.14,201.2 314.22,203.3 314.3,200.1 314.37,204 314.45,200.7 314.53,201.3 314.61,199 314.69,203.2 314.77,202.3 314.85,201.4 314.93,196.5 315.01,204 315.08,200.3 315.16,202.3 315.24,200.3 315.32,199.6 315.4,200.6 315.48,200.4 315.56,200.4 315.64,202.2 315.72,201.4 315.79,204.4 315.87,201.7 315.95,202.6 316.03,201.5 316.11,199.4 316.19,200.2 316.27,200 316.35,198.7 316.43,206 316.5,200.1 316.58,201 316.66,201.2 316.74,203.7 316.82,199.8 316.9,198.6 316.98,198.9 317.06,201.2 317.14,199.7 317.21,199.1 317.29,197.2 317.37,198.5 317.45,200.7 317.53,200.8 317.61,200.7 317.69,200.6 317.77,202.1 317.85,199.4 317.93,202.5 318,202.7 318.08,200.3 318.16,202.3 318.24,201.6 318.32,205.4 318.4,199.4 318.48,201.1 318.56,201.3 318.64,200.1 318.71,200.6 318.79,202.6 318.87,196.9 318.95,202 319.03,199.1 319.11,197.3 319.19,202.4 319.27,200.9 319.35,202.8 319.42,198.9 319.5,201.8 319.58,203.4 319.66,198.4 319.74,199.2 319.82,203 319.9,198.7 319.98,200.7 320.06,195.5 320.13,197.5 320.21,202.3 320.29,201.7 320.37,203 320.45,200.9 320.53,201.1 320.61,199.6 320.69,201 320.77,204.3 320.84,202.9 320.92,198.2 321,198.8 321.08,201.5 321.16,201.5 321.24,201.5 321.32,201.1 321.4,204.7 321.48,199.3 321.55,202.6 321.63,200.9 321.71,206.5 321.79,200.7 321.87,198.4 321.95,205.9 322.03,198 322.11,200.2 322.19,202.8 322.26,204.6 322.34,198.8 322.42,200.7 322.5,200 322.58,201.8 322.66,202.9 322.74,199.4 322.82,203.3 322.9,199.4 322.97,204.8 323.05,203.2 323.13,204.3 323.21,198.5 323.29,204.9 323.37,203.7 323.45,199.9 323.53,200.8 323.61,196.7 323.68,197.4 323.76,200 323.84,199.8 323.92,205.1 324,203.1 324.08,202 324.16,201.7 324.24,204.2 324.32,203.3 324.39,203.1 324.47,199.1 324.55,200.4 324.63,202 324.71,201.9 324.79,200.7 324.87,202.8 324.95,201.9 325.03,204.9 325.1,199.9 325.18,199.3 325.26,200.6 325.34,200.3 325.42,200.6 325.5,197.1 325.58,200.9 325.66,204.1 325.74,203.6 325.82,199.9 325.89,199.1 325.97,199.7 326.05,199.6 326.13,201 326.21,204.5 326.29,202.9 326.37,205.2 326.45,202.2 326.53,204.2 326.6,201.2 326.68,201.7 326.76,205.5 326.84,199.9 326.92,199.8 327,204.3 327.08,201.1 327.16,199.9 327.24,202 327.31,199.6 327.39,201 327.47,199.2 327.55,201 327.63,201.8 327.71,200.4 327.79,199.8 327.87,200.9 327.95,202.4 328.02,203.1 328.1,202.2 328.18,202.7 328.26,201 328.34,201.1 328.42,201.6 328.5,201.5 328.58,201.1 328.66,198.2 328.73,198.9 328.81,202.7 328.89,200.6 328.97,202.2 329.05,201.7 329.13,202 329.21,202.8 329.29,204.4 329.37,206.7 329.44,201.1 329.52,199 329.6,203.4 329.68,200.4 329.76,202.3 329.84,200.9 329.92,203.2 330,202 330.08,201.8 330.15,206.6 330.23,201.1 330.31,201.8 330.39,206.8 330.47,200.2 330.55,201.6 330.63,201.1 330.71,200.8 330.79,202.4 330.86,203.8 330.94,202.5 331.02,202.5 331.1,196.9 331.18,197.7 331.26,202.6 331.34,202.5 331.42,200.9 331.5,200.4 331.57,203.1 331.65,203.7 331.73,197.5 331.81,199.4 331.89,204.9 331.97,205.4 332.05,203.4 332.13,201.1 332.21,200.5 332.28,202.3 332.36,205.1 332.44,201.2 332.52,200.3 332.6,201.6 332.68,202.7 332.76,200.4 332.84,201.8 332.92,204 333,201.4 333.07,204.4 333.15,199.6 333.23,200.7 333.31,203.8 333.39,201.2 333.47,199 333.55,206.2 333.63,202 333.71,198.2 333.78,205 333.86,202 333.94,204.7 334.02,201.8 334.1,206.8 334.18,205.2 334.26,202.8 334.34,201.4 334.42,200.9 334.49,200.8 334.57,199.2 334.65,200.2 334.73,200.1 334.81,203.8 334.89,202 334.97,194.9 335.05,196.8 335.13,199.9 335.2,200.1 335.28,199.6 335.36,202.6 335.44,197.5 335.52,202.5 335.6,201.9 335.68,197 335.76,206.2 335.84,200.9 335.91,205.4 335.99,203.1 336.07,201.9 336.15,202.5 336.23,201.4 336.31,203.4 336.39,202 336.47,204.3 336.55,202.6 336.62,204.7 336.7,200.3 336.78,204.5 336.86,200.3 336.94,202.6 337.02,202.4 337.1,199.2 337.18,201.5 337.26,205.9 337.33,200.7 337.41,208 337.49,201.2 337.57,202.6 337.65,204.8 337.73,201.6 337.81,202.4 337.89,197.4 337.97,202.7 338.04,197.6 338.12,198.8 338.2,203.1 338.28,203.6 338.36,198.9 338.44,202.1 338.52,201.4 338.6,202.3 338.68,204.4 338.75,202.6 338.83,203.9 338.91,205.1 338.99,202.4 339.07,197.9 339.15,198.3 339.23,201.9 339.31,201.5 339.39,200.7 339.46,198.9 339.54,201.1 339.62,202.9 339.7,202.7 339.78,199.4 339.86,196.1 339.94,203.2 340.02,206.3 340.1,200.1 340.17,202 340.25,201.5 340.33,199.1 340.41,201.7 340.49,204.7 340.57,206.1 340.65,201.9 340.73,204.4 340.81,201.2 340.88,204.6 340.96,202.6 341.04,205.1 341.12,202.6 341.2,202.8 341.28,200.6 341.36,198.9 341.44,202.3 341.52,203.7 341.6,197.6 341.67,201.1 341.75,200.5 341.83,200.5 341.91,198.7 341.99,199.7 342.07,200.4 342.15,200.2 342.23,203.8 342.31,203.2 342.38,202.1 342.46,201.7 342.54,201.8 342.62,201.2 342.7,201.8 342.78,202.8 342.86,205.4 342.94,200.1 343.02,200.6 343.09,203.8 343.17,200.8 343.25,201 343.33,201.7 343.41,205.9 343.49,204.5 343.57,203.2 343.65,198.4 343.73,203.8 343.8,202.7 343.88,204.3 343.96,203 344.04,201.2 344.12,206.5 344.2,208.1 344.28,200.5 344.36,201.8 344.44,203.3 344.51,199.8 344.59,199.8 344.67,206.5 344.75,202.3 344.83,199.5 344.91,203.4 344.99,202.6 345.07,199.8 345.15,202.5 345.22,204.6 345.3,203.5 345.38,204.9 345.46,200.7 345.54,205.7 345.62,199.8 345.7,205.6 345.78,201.9 345.86,205.2 345.93,202.7 346.01,199.7 346.09,199.5 346.17,199.1 346.25,202.2 346.33,201.7 346.41,201.5 346.49,200.6 346.57,202.9 346.64,199.6 346.72,201.3 346.8,199.5 346.88,200.9 346.96,200.5 347.04,203.6 347.12,202.9 347.2,204.8 347.28,202.6 347.35,202.4 347.43,200.2 347.51,204.8 347.59,194.9 347.67,202.3 347.75,199.2 347.83,199.7 347.91,207.5 347.99,202.6 348.06,198.8 348.14,207.3 348.22,200.3 348.3,204 348.38,203 348.46,201.5 348.54,206.1 348.62,201.6 348.7,203.4 348.77,203.7 348.85,200.5 348.93,194.3 349.01,201.3 349.09,200.8 349.17,202.1 349.25,203.6 349.33,201.5 349.41,198.7 349.49,201.6 349.56,200.1 349.64,202.5 349.72,196.5 349.8,205.7 349.88,200.8 349.96,200.9 350.04,201.5 350.12,204.5 350.2,204.6 350.27,202.6 350.35,201.9 350.43,204.7 350.51,204.4 350.59,200.8 350.67,199.8 350.75,203.3 350.83,203.6 350.91,203.7 350.98,196.6 351.06,201 351.14,202.2 351.22,199.9 351.3,197.1 351.38,199.5 351.46,205.2 351.54,202.3 351.62,203 351.69,202.9 351.77,204.8 351.85,203 351.93,204.5 352.01,201.4 352.09,202 352.17,205.2 352.25,205.9 352.33,203.2 352.4,200.7 352.48,201 352.56,202.3 352.64,209.4 352.72,203.2 352.8,203.8 352.88,202.9 352.96,204.8 353.04,203.1 353.11,203.6 353.19,196.2 353.27,200.6 353.35,202.6 353.43,202.3 353.51,202.4 353.59,201.7 353.67,203.1 353.75,202.2 353.82,199.9 353.9,200.3 353.98,201.5 354.06,199.2 354.14,201.7 354.22,204.3 354.3,206 354.38,203.7 354.46,202.3 354.53,201.3 354.61,199.8 354.69,203.4 354.77,204 354.85,200.5 354.93,199.6 355.01,203.2 355.09,201.4 355.17,199.2 355.24,201.5 355.32,202.3 355.4,206.8 355.48,199.3 355.56,200.8 355.64,201.9 355.72,203.2 355.8,205 355.88,202.4 355.95,202.4 356.03,199.8 356.11,204.9 356.19,199 356.27,202.1 356.35,199.6 356.43,204.4 356.51,201.5 356.59,199.5 356.66,202 356.74,205.5 356.82,203 356.9,201 356.98,205.3 357.06,205.4 357.14,201.7 357.22,204.3 357.3,200.7 357.38,204.8 357.45,206.3 357.53,203.9 357.61,199 357.69,204.1 357.77,202.3 357.85,201.7 357.93,204.3 358.01,199.8 358.09,201.9 358.16,201.3 358.24,206 358.32,206.1 358.4,208.3 358.48,202.7 358.56,202.8 358.64,200.7 358.72,199 358.8,202.8 358.87,202.9 358.95,201.3 359.03,198.9 359.11,204.1 359.19,200.9 359.27,202.8 359.35,203 359.43,200.5 359.51,204 359.58,204.6 359.66,200.8 359.74,202.3 359.82,202.9 359.9,202.6 359.98,201.2 360.06,203.1 360.14,200.6 360.22,201.4 360.29,199 360.37,199.5 360.45,200.4 360.53,202.7 360.61,202 360.69,203.6 360.77,196 360.85,202.8 360.93,201.1 361,199.3 361.08,205.3 361.16,204.1 361.24,203.2 361.32,204.5 361.4,205.1 361.48,203.4 361.56,199.5 361.64,200.7 361.71,202.2 361.79,202.2 361.87,206 361.95,200.8 362.03,201.4 362.11,204.7 362.19,201.9 362.27,202.7 362.35,203.5 362.42,204.5 362.5,203.8 362.58,204.4 362.66,201.3 362.74,201.5 362.82,201.6 362.9,202.7 362.98,203.2 363.06,197.8 363.13,206.4 363.21,199.7 363.29,201.6 363.37,202.2 363.45,203.5 363.53,202.8 363.61,204.9 363.69,205.4 363.77,202.6 363.84,206 363.92,200.5 364,199.9 364.08,209.9 364.16,205.8 364.24,201.7 364.32,201.9 364.4,202.1 364.48,201.4 364.55,200.7 364.63,200.4 364.71,198.4 364.79,202.3 364.87,200.5 364.95,205.9 365.03,202.6 365.11,205 365.19,199.3 365.27,197.2 365.34,201.2 365.42,205.2 365.5,202.6 365.58,202.3 365.66,201.9 365.74,200 365.82,200.3 365.9,208.2 365.98,199.4 366.05,203.5 366.13,203.6 366.21,199.3 366.29,203 366.37,205.4 366.45,205.3 366.53,202.2 366.61,200.4 366.69,199.1 366.76,202.8 366.84,203.4 366.92,198.8 367,203.4 367.08,199.2 367.16,201.9 367.24,201.9 367.32,202.9 367.4,201.7 367.47,203.4 367.55,203.9 367.63,202.7 367.71,203.8 367.79,201.7 367.87,202.2 367.95,203 368.03,202.8 368.11,202.9 368.18,198.6 368.26,202.4 368.34,203.7 368.42,203.1 368.5,201 368.58,202.8 368.66,202.7 368.74,203 368.82,202.1 368.89,201.6 368.97,201.4 369.05,206 369.13,204.8 369.21,208.2 369.29,200.7 369.37,200 369.45,199.6 369.53,202.1 369.6,199.9 369.68,202.5 369.76,202.7 369.84,205.8 369.92,204.1 370,203.7 370.08,200.4 370.16,198.8 370.24,203.5 370.31,201.6 370.39,201.8 370.47,204.1 370.55,206.2 370.63,204.1 370.71,205.6 370.79,203.1 370.87,202.8 370.95,202.8 371.02,202.8 371.1,201.4 371.18,204.5 371.26,200.5 371.34,206.1 371.42,202.3 371.5,201.6 371.58,204.2 371.66,206 371.73,201.1 371.81,203.9 371.89,200.8 371.97,200.8 372.05,202.5 372.13,202.5 372.21,200.3 372.29,201.7 372.37,204.5 372.44,202.1 372.52,201.3 372.6,202 372.68,202.1 372.76,202.8 372.84,202.7 372.92,204.5 373,205.6 373.08,200 373.16,203.9 373.23,202 373.31,205.8 373.39,202.1 373.47,204.3 373.55,196 373.63,204.7 373.71,204.6 373.79,200.4 373.87,200 373.94,207.1 374.02,201.9 374.1,200.6 374.18,205.2 374.26,201 374.34,203.7 374.42,204.7 374.5,203.3 374.58,203.5 374.65,205.6 374.73,197.6 374.81,203.5 374.89,204.1 374.97,200.7 375.05,202.7 375.13,199.6 375.21,203.1 375.29,201.8 375.36,202.3 375.44,202.2 375.52,203 375.6,202.8 375.68,198.9 375.76,204 375.84,203.7 375.92,203.3 376,201.3 376.07,201.7 376.15,200.5 376.23,205.5 376.31,202 376.39,202.9 376.47,203.2 376.55,202.2 376.63,206.8 376.71,202 376.78,202.2 376.86,205.7 376.94,202.8 377.02,199.2 377.1,203.4 377.18,201.3 377.26,203 377.34,204.3 377.42,204.6 377.49,203.4 377.57,199.7 377.65,200.8 377.73,204.1 377.81,200.4 377.89,202.8 377.97,204.1 378.05,201.6 378.13,204.5 378.2,206 378.28,199.8 378.36,206.5 378.44,201.4 378.52,205.9 378.6,202.6 378.68,203 378.76,203.5 378.84,207.3 378.91,202.8 378.99,202.7 379.07,204.5 379.15,202.7 379.23,200.4 379.31,204.1 379.39,202 379.47,205.1 379.55,201.8 379.62,201.2 379.7,197.2 379.78,200.6 379.86,201.6 379.94,199.5 380.02,204.7 380.1,200.3 380.18,203.8 380.26,203.9 380.33,200.2 380.41,202.1 380.49,199.7 380.57,205.7 380.65,202 380.73,203.7 380.81,203.2 380.89,206.7 380.97,200.6 381.05,202.1 381.12,204.7 381.2,205.5 381.28,204.5 381.36,199.6 381.44,202.8 381.52,203.3 381.6,201.5 381.68,202.6 381.76,202.1 381.83,201 381.91,201.9 381.99,200.7 382.07,205.2 382.15,202.5 382.23,203.4 382.31,202.4 382.39,202.7 382.47,204 382.54,203.3 382.62,200.5 382.7,203.8 382.78,205.3 382.86,201.3 382.94,200.5 383.02,203.2 383.1,202.3 383.18,204.4 383.25,203 383.33,200.2 383.41,200.9 383.49,202.3 383.57,203.2 383.65,206.1 383.73,201.9 383.81,201.6 383.89,200.3 383.96,198.2 384.04,201.8 384.12,200.5 384.2,205 384.28,200 384.36,200.7 384.44,199.7 384.52,201.1 384.6,201.6 384.67,199.4 384.75,204 384.83,201.2 384.91,200.3 384.99,204.3 385.07,205.1 385.15,201.7 385.23,202.3 385.31,201.3 385.38,201.2 385.46,204.2 385.54,201.9 385.62,200.2 385.7,203.3 385.78,203.2 385.86,205 385.94,200.8 386.02,198.4 386.09,205.5 386.17,200.9 386.25,200.6 386.33,203.8 386.41,203.4 386.49,204.8 386.57,204.3 386.65,202.2 386.73,201.2 386.8,202.3 386.88,200.7 386.96,202.1 387.04,205.1 387.12,199.5 387.2,200 387.28,204.1 387.36,198.8 387.44,201.6 387.51,202.3 387.59,198.5 387.67,207.9 387.75,206 387.83,201.1 387.91,203.1 387.99,204.6 388.07,199.3 388.15,201.5 388.22,205.3 388.3,204 388.38,200.8 388.46,198.8 388.54,206.9 388.62,202 388.7,203.4 388.78,206.3 388.86,202.9 388.94,206 389.01,203.7 389.09,199.1 389.17,201.5 389.25,200.9 389.33,201.3 389.41,201.8 389.49,200.5 389.57,205.1 389.65,203.3 389.72,200.7 389.8,204.1 389.88,203.5 389.96,200 390.04,199.3 390.12,203.9 390.2,204.3 390.28,201.3 390.36,202 390.43,204 390.51,201.3 390.59,201.4 390.67,202.4 390.75,196.3 390.83,199.7 390.91,200.8 390.99,200.4 391.07,196.2 391.14,200.2 391.22,204.1 391.3,201.9 391.38,202.4 391.46,203.8 391.54,202 391.62,202 391.7,202.7 391.78,203.6 391.85,200.8 391.93,206 392.01,200.8 392.09,202.6 392.17,202 392.25,207.7 392.33,199 392.41,206.3 392.49,204.4 392.56,201.2 392.64,203.9 392.72,203.4 392.8,207.4 392.88,203.5 392.96,202.1 393.04,201.1 393.12,203.2 393.2,202.1 393.27,201.6 393.35,204 393.43,204.2 393.51,198.4 393.59,204.4 393.67,199.9 393.75,202.4 393.83,199.4 393.91,204 393.98,201.5 394.06,201.9 394.14,203.1 394.22,201.9 394.3,204.2 394.38,202.8 394.46,203.4 394.54,200.9 394.62,202.8 394.69,205.6 394.77,203.4 394.85,202.8 394.93,204.5 395.01,199.7 395.09,201.7 395.17,200.8 395.25,204.2 395.33,203.4 395.4,200.4 395.48,205.7 395.56,201.8 395.64,202.4 395.72,203.7 395.8,202.4 395.88,204.9 395.96,202.1 396.04,205.2 396.11,205.3 396.19,199.6 396.27,204.1 396.35,207.2 396.43,200.5 396.51,204.3 396.59,210.2 396.67,202.7 396.75,200.6 396.83,201.8 396.9,198.9 396.98,202.9 397.06,201.3 397.14,204.8 397.22,202.3 397.3,199.3 397.38,201.5 397.46,202.3 397.54,206.9 397.61,203.4 397.69,205.4 397.77,200.9 397.85,204.2 397.93,201.8 398.01,204.8 398.09,198.5 398.17,205.1 398.25,202.3 398.32,196.9 398.4,202.2 398.48,204.5 398.56,201.3 398.64,200.5 398.72,200.7 398.8,206.9 398.88,202.2 398.96,207.2 399.03,198.5 399.11,202.5 399.19,203.6 399.27,201.2 399.35,201.6 399.43,205.2 399.51,199.1 399.59,203.1 399.67,206.4 399.74,199.6 399.82,199.3 399.9,199.9 399.98,201.4 400.06,204.6 400.14,200.6 400.22,198.6 400.3,200.9 400.38,199.2 400.45,204.3 400.53,200.4 400.61,200.6 400.69,205.9 400.77,206.2 400.85,204.2 400.93,202.5 401.01,201.6 401.09,203.1 401.16,202.8 401.24,202.9 401.32,202.4 401.4,201.4 401.48,201.6 401.56,202.8 401.64,202.1 401.72,203.6 401.8,200.9 401.87,203.7 401.95,199.1 402.03,202.7 402.11,202 402.19,204.3 402.27,203.4 402.35,202.3 402.43,202.6 402.51,204 402.58,205.2 402.66,202.6 402.74,202.3 402.82,201.4 402.9,199.9 402.98,203.3 403.06,207 403.14,203 403.22,206.7 403.29,205.4 403.37,200.4 403.45,201.4 403.53,204 403.61,204 403.69,202.8 403.77,206.5 403.85,201.6 403.93,203.4 404,198.6 404.08,205 404.16,200.5 404.24,204.1 404.32,200.4 404.4,204.8 404.48,201 404.56,203.6 404.64,204.5 404.72,203 404.79,201.6 404.87,201.8 404.95,199.2 405.03,200.9 405.11,208.4 405.19,203.5 405.27,207 405.35,203.5 405.43,201.3 405.5,205.6 405.58,205.2 405.66,202.3 405.74,203.3 405.82,199.2 405.9,202 405.98,201.5 406.06,198.8 406.14,203.8 406.21,202.7 406.29,204.8 406.37,202.1 406.45,200.4 406.53,199.7 406.61,202.7 406.69,204.2 406.77,204.3 406.85,205.7 406.92,202.4 407,199.7 407.08,207.9 407.16,207.4 407.24,199.6 407.32,206.2 407.4,201.9 407.48,205.4 407.56,200.9 407.63,200.9 407.71,202.3 407.79,200.9 407.87,202.6 407.95,201.4 408.03,198.7 408.11,200.3 408.19,204.1 408.27,204.4 408.34,203.2 408.42,203.2 408.5,202.5 408.58,204 408.66,201.2 408.74,202.6 408.82,201.9 408.9,202.6 408.98,201.3 409.05,205.3 409.13,199.2 409.21,201.9 409.29,201.7 409.37,201.3 409.45,200.3 409.53,201 409.61,202.1 409.69,203.1 409.76,206.3 409.84,202.2 409.92,203.3 410,203.3 410.08,197.4 410.16,206.7 410.24,202.5 410.32,200 410.4,200.5 410.47,199.9 410.55,205.4 410.63,204.8 410.71,201.3 410.79,203.3 410.87,198.9 410.95,202.2 411.03,202.2 411.11,201.7 411.18,203.2 411.26,202.4 411.34,204.1 411.42,202.7 411.5,203.7 411.58,202.1 411.66,205.8 411.74,205.9 411.82,201.6 411.89,202.2 411.97,204.8 412.05,203.1 412.13,204.9 412.21,198.2 412.29,206.1 412.37,198.9 412.45,204.5 412.53,201.7 412.61,203.2 412.68,203.5 412.76,200.6 412.84,200.9 412.92,203.3 413,204.6 413.08,198.1 413.16,199.6 413.24,202.3 413.32,203.3 413.39,202 413.47,202.5 413.55,200 413.63,204.8 413.71,202.6 413.79,204.4 413.87,199.8 413.95,198.7 414.03,202.9 414.1,201.5 414.18,199.6 414.26,203.3 414.34,204.7 414.42,200.4 414.5,201.5 414.58,203.1 414.66,199.4 414.74,202.1 414.81,206.6 414.89,201.9 414.97,202.8 415.05,198.5 415.13,202.7 415.21,203.1 415.29,201.7 415.37,202.1 415.45,205.7 415.52,202.4 415.6,203.4 415.68,199.6 415.76,197.4 415.84,205.1 415.92,204.8 416,204.5 416.08,204.1 416.16,204.2 416.23,202.5 416.31,200.3 416.39,205.5 416.47,206 416.55,206.7 416.63,200.2 416.71,199.7 416.79,206 416.87,206.2 416.94,202.4 417.02,200.3 417.1,200.4 417.18,202.2 417.26,201.2 417.34,201.9 417.42,203.9 417.5,198.5 417.58,202.7 417.65,205.1 417.73,203.7 417.81,206.1 417.89,202.6 417.97,200.3 418.05,205.4 418.13,200.2 418.21,198.1 418.29,201.8 418.36,205.2 418.44,204.5 418.52,203.4 418.6,205.5 418.68,205.4 418.76,203.2 418.84,203.1 418.92,201.3 419,205.3 419.07,198.6 419.15,200.3 419.23,200.7 419.31,204.1 419.39,198.9 419.47,203.4 419.55,198.7 419.63,200.3 419.71,204.6 419.78,203.7 419.86,198.6 419.94,200.5 420.02,203 420.1,202.2 420.18,202.2 420.26,204.4 420.34,203.1 420.42,204.1 420.5,203.6 420.57,201.7 420.65,204.8 420.73,201.1 420.81,202.4 420.89,201 420.97,200.7 421.05,199.9 421.13,201.3 421.21,201.1 421.28,203.1 421.36,201.4 421.44,204.7 421.52,203.2 421.6,201 421.68,202.8 421.76,201.7 421.84,205 421.92,199.7 421.99,204 422.07,201.8 422.15,202.7 422.23,200.6 422.31,203.5 422.39,204.9 422.47,206.9 422.55,203.4 422.63,205.3 422.7,201.5 422.78,199.5 422.86,207.6 422.94,205.5 423.02,202 423.1,200 423.18,202 423.26,202 423.34,201.6 423.41,201.4 423.49,199.1 423.57,201.4 423.65,205.4 423.73,203.7 423.81,202.2 423.89,204.5 423.97,203.3 424.05,203.9 424.12,204.3 424.2,201.2 424.28,203.6 424.36,205.1 424.44,204.3 424.52,202.6 424.6,198.1 424.68,202.1 424.76,199.4 424.83,201.6 424.91,207.5 424.99,201.9 425.07,204.6 425.15,205.7 425.23,205.1 425.31,198.8 425.39,206.2 425.47,204.1 425.54,200.2 425.62,201.2 425.7,206.5 425.78,203 425.86,203.9 425.94,203.2 426.02,201.1 426.1,204 426.18,203.4 426.25,199.5 426.33,206.8 426.41,203.5 426.49,201.7 426.57,205.5 426.65,204.1 426.73,205.6 426.81,202.4 426.89,204.1 426.96,201 427.04,200.5 427.12,202.6 427.2,203.6 427.28,202.2 427.36,202.6 427.44,205.4 427.52,200.4 427.6,202.2 427.67,201 427.75,205.7 427.83,200.8 427.91,198.1 427.99,201.4 428.07,205.9 428.15,202.7 428.23,202.9 428.31,202.3 428.39,203.3 428.46,201.6 428.54,203.8 428.62,202.2 428.7,204.3 428.78,202.5 428.86,200.5 428.94,203.8 429.02,201.3 429.1,204.7 429.17,203.6 429.25,203.3 429.33,200 429.41,204.4 429.49,200.1 429.57,206 429.65,203.1 429.73,200.7 429.81,201.2 429.88,205 429.96,205.5 430.04,200.8 430.12,205.6 430.2,201.5 430.28,203.9 430.36,202.8 430.44,197.6 430.52,199.3 430.59,200.9 430.67,205.8 430.75,202.1 430.83,202.6 430.91,203 430.99,199.8 431.07,206.6 431.15,202.1 431.23,202.5 431.3,204.4 431.38,198.9 431.46,205.6 431.54,202.7 431.62,202.6 431.7,207.6 431.78,205.9 431.86,204.9 431.94,201 432.01,200.7 432.09,201.5 432.17,202.2 432.25,207.7 432.33,202.3 432.41,203.9 432.49,200.2 432.57,199.8 432.65,197.8 432.72,201.2 432.8,201 432.88,205.1 432.96,202.6 433.04,205.5 433.12,200.8 433.2,205.4 433.28,203.3 433.36,204.6 433.43,203.8 433.51,201.8 433.59,204 433.67,202.3 433.75,205 433.83,199.7 433.91,204.2 433.99,200.5 434.07,198 434.14,208.2 434.22,205 434.3,203.3 434.38,200.2 434.46,203.9 434.54,202 434.62,204.4 434.7,201.5 434.78,205.5 434.85,200.9 434.93,209.5 435.01,207 435.09,198.7 435.17,202.4 435.25,204.8 435.33,197.9 435.41,200.5 435.49,200.3 435.56,203.7 435.64,201.4 435.72,201.7 435.8,206.5 435.88,201.5 435.96,203.2 436.04,199.9 436.12,199.9 436.2,204.2 436.28,204.2 436.35,202.4 436.43,201.3 436.51,203.7 436.59,203.1 436.67,201.4 436.75,201.9 436.83,200.2 436.91,202.3 436.99,204.8 437.06,206.8 437.14,201 437.22,203.6 437.3,203.6 437.38,203.5 437.46,206.3 437.54,203.7 437.62,208.7 437.7,203.7 437.77,204.8 437.85,198.7 437.93,201.8 438.01,203.3 438.09,202.5 438.17,201.2 438.25,204.5 438.33,203.3 438.41,203.6 438.48,197.2 438.56,202.7 438.64,207.3 438.72,201 438.8,197 438.88,205 438.96,195 439.04,203 439.12,200.6 439.19,204.1 439.27,203.4 439.35,205.6 439.43,205.2 439.51,207.7 439.59,200.3 439.67,205.4 439.75,202 439.83,202.1 439.9,204.3 439.98,202.7 440.06,203.1 440.14,204 440.22,202.7 440.3,202.7 440.38,205.1 440.46,205.8 440.54,204.8 440.61,202.6 440.69,199.7 440.77,199.5 440.85,202.1 440.93,200.7 441.01,202.6 441.09,200.3 441.17,202.6 441.25,202 441.32,203.5 441.4,202.9 441.48,198.6 441.56,205.6 441.64,202.8 441.72,204.2 441.8,200.7 441.88,198.7 441.96,203.6 442.03,209.1 442.11,201.5 442.19,201.5 442.27,206.7 442.35,203.4 442.43,203 442.51,208.1 442.59,201.3 442.67,201.9 442.74,202.3 442.82,205.3 442.9,204.5 442.98,204.3 443.06,201.8 443.14,205.1 443.22,199.5 443.3,202 443.38,207.8 443.45,199 443.53,202.5 443.61,204.1 443.69,202.6 443.77,207 443.85,202.4 443.93,208.5 444.01,205.2 444.09,199.8 444.17,200 444.24,203.7 444.32,205.1 444.4,200.8 444.48,203 444.56,202.4 444.64,201.5 444.72,205.3 444.8,201.1 444.88,207.7 444.95,199.5 445.03,206.5 445.11,204.3 445.19,204.4 445.27,201.2 445.35,201.2 445.43,202.1 445.51,201.6 445.59,201.8 445.66,203.1 445.74,207.3 445.82,208.2 445.9,208.2 445.98,203 446.06,203.4 446.14,203.2 446.22,202.4 446.3,203.4 446.37,205.2 446.45,206.3 446.53,207.2 446.61,200.1 446.69,200.8 446.77,206 446.85,203.5 446.93,201.9 447.01,199.3 447.08,204.3 447.16,202.5 447.24,200.3 447.32,206.9" fill="none" stroke="#ff7f0e" stroke-width="1.6" stroke-linejoin="round" stroke-linecap="butt"/>
<rect x="33.5" y="4.6" width="434.5" height="214.8" fill="none" stroke="#4c4c4c" stroke-width="1"/>
<line x1="52.9" y1="219.4" x2="52.9" y2="222.3" stroke="#333" stroke-width="1.1"/>
<text class="tk" x="52.9" y="231" text-anchor="middle">0</text>
<line x1="131.8" y1="219.4" x2="131.8" y2="222.3" stroke="#333" stroke-width="1.1"/>
<text class="tk" x="131.8" y="231" text-anchor="middle">1000</text>
<line x1="210.7" y1="219.4" x2="210.7" y2="222.3" stroke="#333" stroke-width="1.1"/>
<text class="tk" x="210.7" y="231" text-anchor="middle">2000</text>
<line x1="289.6" y1="219.4" x2="289.6" y2="222.3" stroke="#333" stroke-width="1.1"/>
<text class="tk" x="289.6" y="231" text-anchor="middle">3000</text>
<line x1="368.5" y1="219.4" x2="368.5" y2="222.3" stroke="#333" stroke-width="1.1"/>
<text class="tk" x="368.5" y="231" text-anchor="middle">4000</text>
<line x1="447.4" y1="219.4" x2="447.4" y2="222.3" stroke="#333" stroke-width="1.1"/>
<text class="tk" x="447.4" y="231" text-anchor="middle">5000</text>
<line x1="30.6" y1="202.5" x2="33.5" y2="202.5" stroke="#333" stroke-width="1.1"/>
<text class="tk" x="27.9" y="205.25" text-anchor="end">0.2</text>
<line x1="30.6" y1="169.97" x2="33.5" y2="169.97" stroke="#333" stroke-width="1.1"/>
<text class="tk" x="27.9" y="172.72" text-anchor="end">0.4</text>
<line x1="30.6" y1="137.44" x2="33.5" y2="137.44" stroke="#333" stroke-width="1.1"/>
<text class="tk" x="27.9" y="140.19" text-anchor="end">0.6</text>
<line x1="30.6" y1="104.91" x2="33.5" y2="104.91" stroke="#333" stroke-width="1.1"/>
<text class="tk" x="27.9" y="107.66" text-anchor="end">0.8</text>
<line x1="30.6" y1="72.38" x2="33.5" y2="72.38" stroke="#333" stroke-width="1.1"/>
<text class="tk" x="27.9" y="75.13" text-anchor="end">1.0</text>
<line x1="30.6" y1="39.85" x2="33.5" y2="39.85" stroke="#333" stroke-width="1.1"/>
<text class="tk" x="27.9" y="42.6" text-anchor="end">1.2</text>
<line x1="30.6" y1="7.32" x2="33.5" y2="7.32" stroke="#333" stroke-width="1.1"/>
<text class="tk" x="27.9" y="10.07" text-anchor="end">1.4</text>
<text x="250.15" y="241.6" text-anchor="middle">Iterations</text>
<text transform="translate(11 113.2) rotate(-90)" text-anchor="middle">Loss</text>
<rect x="383.2" y="7.9" width="80.4" height="26.1" rx="1.5" fill="#fff" fill-opacity="0.8" stroke="#cfcfcf" stroke-width="0.8"/>
<line x1="385.4" y1="14.7" x2="402" y2="14.7" stroke="#1f77b4" stroke-width="1.25"/>
<line x1="385.4" y1="26.4" x2="402" y2="26.4" stroke="#ff7f0e" stroke-width="1.25"/>
<text x="407.8" y="17.7">Generator</text>
<text x="407.8" y="29.4">Discriminator</text>
</g>
<g>
<polyline points="51.7,288.8 51.78,298.4 51.86,307.9 51.94,317.1 52.02,325.7 52.09,333.5 52.17,340.3 52.25,346.3 52.33,352.1 52.41,357.7 52.49,363 52.57,368.2 52.65,373.1 52.73,377.9 52.8,382.4 52.88,386.9 52.96,391.1 53.04,395.3 53.12,399.3 53.2,403.1 53.28,406.9 53.36,410.6 53.44,414.1 53.52,417.5 53.59,420.9 53.67,424.3 53.75,427.6 53.83,430.7 53.91,433.8 53.99,436.9 54.07,440 54.15,442.8 54.23,445.8 54.3,448.5 54.38,451.2 54.46,453.8 54.54,456.4 54.62,458.8 54.7,461.2 54.78,463.8 54.86,466.1 54.94,468.2 55.01,470.4 55.09,472.5 55.17,474.6 55.25,476.4 55.33,478.5 55.41,480.9" fill="none" stroke="#1f77b4" stroke-width="1.1" stroke-linejoin="round" stroke-linecap="butt"/>
<polyline points="55.41,480.9 55.49,482.6 55.57,484 55.65,484.5 55.72,484.9 55.8,485 55.88,484.9 55.96,485.1 56.04,485 56.12,485 56.2,484.9 56.28,485 56.36,485.1 56.44,484.9 56.51,485.1 56.59,485.1 56.67,484.8 56.75,484.9 56.83,485.1 56.91,485 56.99,485 57.07,485.1 57.15,485.2 57.22,484.9 57.3,484.9 57.38,484.9 57.46,485 57.54,484.9 57.62,484.8 57.7,485.1 57.78,485 57.86,485 57.93,484.8 58.01,484.9 58.09,485.1 58.17,485 58.25,484.6 58.33,485 58.41,484.8 58.49,485 58.57,484.7 58.64,484.9 58.72,484.9 58.8,485 58.88,484.9 58.96,484.7 59.04,484.7 59.12,485 59.2,484.5 59.28,484.8 59.36,484.9 59.43,484.7 59.51,484.9 59.59,484.8 59.67,484.8 59.75,484.7 59.83,484.8 59.91,485 59.99,484.6 60.07,484.8 60.14,484.5 60.22,484.6 60.3,484.6 60.38,484.6 60.46,484.4 60.54,484.7 60.62,484.8 60.7,484.6 60.78,485.1 60.85,484.7 60.93,484.6 61.01,484.7 61.09,484.3 61.17,484.4 61.25,484.5 61.33,484.6 61.41,484.3 61.49,484.6 61.57,484.6 61.64,484.4 61.72,484.4 61.8,484.1 61.88,484.5 61.96,484.8 62.04,484.3 62.12,484.2 62.2,484.5 62.28,484.1 62.35,484.1 62.43,484.5 62.51,484.5 62.59,484.6 62.67,484.3 62.75,484.2 62.83,484.2 62.91,484.6 62.99,484.5 63.06,484.6 63.14,484.6 63.22,484.5 63.3,484.6 63.38,484.3 63.46,484.2 63.54,484.1 63.62,484.2 63.7,484.3 63.77,484.2 63.85,484.1 63.93,484.2 64.01,484.1 64.09,484.2 64.17,484.2 64.25,484.1 64.33,484.3 64.41,483.9 64.49,484.4 64.56,484 64.64,484.3 64.72,483.7 64.8,483.8 64.88,484.2 64.96,484.1 65.04,484.2 65.12,484 65.2,483.8 65.27,483.4 65.35,484.2 65.43,483.6 65.51,484 65.59,483.8 65.67,483.7 65.75,483.7 65.83,483.7 65.91,483.8 65.98,483.8 66.06,483.7 66.14,483.5 66.22,484.1 66.3,483.8 66.38,484 66.46,483.9 66.54,483.9 66.62,483.4 66.69,483.2 66.77,483.3 66.85,483.9 66.93,483.6 67.01,483.8 67.09,483.5 67.17,483.3 67.25,483.4 67.33,483.3 67.41,483.5 67.48,483.9 67.56,483.9 67.64,483.5 67.72,483.3 67.8,483.1 67.88,483.5 67.96,483.4 68.04,483.3 68.12,483.1 68.19,483.4 68.27,483.6 68.35,483 68.43,483.2 68.51,483.2 68.59,483.6 68.67,483.2 68.75,483.6 68.83,483.7 68.9,483.2 68.98,483.3 69.06,483 69.14,482.8 69.22,483.1 69.3,482.7 69.38,483.2 69.46,482.9 69.54,483.4 69.61,483 69.69,483.1 69.77,483.1 69.85,482.8 69.93,483.4 70.01,482.9 70.09,483.1 70.17,482.9 70.25,482.8 70.33,483 70.4,483 70.48,483.2 70.56,482.7 70.64,483 70.72,482.7 70.8,483.2 70.88,482.4 70.96,483 71.04,482.5 71.11,482.9 71.19,482.6 71.27,482.7 71.35,482.5 71.43,482.7 71.51,482.3 71.59,482.5 71.67,482.5 71.75,482.2 71.82,482.8 71.9,482.3 71.98,482.6 72.06,482.9 72.14,482.4 72.22,482.6 72.3,482.1 72.38,482.6 72.46,482.5 72.53,482.4 72.61,483 72.69,482.3 72.77,482.7 72.85,482 72.93,482 73.01,482.4 73.09,482.8 73.17,482.3 73.25,482.3 73.32,482.1 73.4,482.4 73.48,482.6 73.56,482.3 73.64,482.5 73.72,481.8 73.8,482.4 73.88,482.4 73.96,482.2 74.03,482.5 74.11,482.3 74.19,482.2 74.27,482.3 74.35,482.2 74.43,481.8 74.51,482 74.59,482.5 74.67,482.2 74.74,481.9 74.82,482.3 74.9,482.1 74.98,482.1 75.06,481.9 75.14,482.1 75.22,482.1 75.3,482.3 75.38,481.9 75.45,482.2 75.53,481.5 75.61,482 75.69,482 75.77,481.7 75.85,482 75.93,481.9 76.01,481.9 76.09,482.1 76.17,482.1 76.24,482.1 76.32,481.5 76.4,482 76.48,481.9 76.56,481.9 76.64,481.6 76.72,481.3 76.8,482 76.88,481.6 76.95,481.7 77.03,481.8 77.11,481.6 77.19,482.1 77.27,481.5 77.35,481.6 77.43,482 77.51,481.2 77.59,481.4 77.66,481.3 77.74,482.1 77.82,481.7 77.9,481.8 77.98,481.4 78.06,481.2 78.14,482.1 78.22,481.6 78.3,481.6 78.37,481.3 78.45,481.5 78.53,481.9 78.61,481.6 78.69,481.8 78.77,481.7 78.85,481.5 78.93,481.6 79.01,481.4 79.09,481.9 79.16,480.8 79.24,481.1 79.32,481.2 79.4,481.8 79.48,482 79.56,481.6 79.64,481.4 79.72,480.7 79.8,481 79.87,481.5 79.95,481 80.03,480.9 80.11,481.3 80.19,480.9 80.27,481.2 80.35,481.4 80.43,481.6 80.51,481.3 80.58,480.9 80.66,481.6 80.74,481.7 80.82,481 80.9,482 80.98,480.6 81.06,481.3 81.14,480.9 81.22,480.6 81.3,481.5 81.37,481.4 81.45,480.4 81.53,481.2 81.61,481.1 81.69,481 81.77,480.7 81.85,480.6 81.93,481 82.01,481.1 82.08,481 82.16,480.9 82.24,480.6 82.32,480.9 82.4,480.4 82.48,481.2 82.56,480.8 82.64,480.4 82.72,480.5 82.79,480.8 82.87,481.1 82.95,481.1 83.03,480.9 83.11,480.8 83.19,480.9 83.27,481.3 83.35,481 83.43,480.7 83.5,480.5 83.58,481.2 83.66,480.9 83.74,481.3 83.82,480.9 83.9,479.7 83.98,480.7 84.06,480.8 84.14,480.9 84.22,481.1 84.29,481.2 84.37,480.7 84.45,480.7 84.53,480.2 84.61,481.1 84.69,480.5 84.77,480.2 84.85,481.2 84.93,480.4 85,481.1 85.08,480.4 85.16,480.1 85.24,480.6 85.32,480.5 85.4,480.7 85.48,480.4 85.56,480.2 85.64,480.6 85.71,480.5 85.79,480.4 85.87,480.2 85.95,481 86.03,480.4 86.11,480.6 86.19,480.3 86.27,480.1 86.35,480.3 86.42,480 86.5,480.7 86.58,480.5 86.66,480.7 86.74,480.3 86.82,480.3 86.9,480.4 86.98,480.7 87.06,480.3 87.14,480.4 87.21,480.1 87.29,480.4 87.37,479.9 87.45,480.2 87.53,480.8 87.61,480.3 87.69,480.7 87.77,479.9 87.85,479.7 87.92,480.2 88,480 88.08,480.6 88.16,480.9 88.24,480.3 88.32,480.2 88.4,480.6 88.48,480.1 88.56,480 88.63,479.9 88.71,479.6 88.79,479.8 88.87,480.2 88.95,480 89.03,479.8 89.11,480.4 89.19,479.6 89.27,479.7 89.34,480.1 89.42,480.2 89.5,478.8 89.58,479.7 89.66,479.6 89.74,479.4 89.82,479.6 89.9,479.8 89.98,479.7 90.06,480.2 90.13,479.7 90.21,480.4 90.29,479.7 90.37,479.7 90.45,480.3 90.53,479.2 90.61,480.2 90.69,479.5 90.77,480 90.84,479.7 90.92,480 91,479 91.08,479.4 91.16,479.2 91.24,479.5 91.32,479.5 91.4,479.7 91.48,479.8 91.55,479.5 91.63,479.6 91.71,479.7 91.79,480.1 91.87,479.8 91.95,479.4 92.03,479.8 92.11,479.5 92.19,479.7 92.26,479.9 92.34,479.9 92.42,479.8 92.5,479.7 92.58,479.6 92.66,479.2 92.74,479.9 92.82,480.2 92.9,479.3 92.98,479.7 93.05,479.5 93.13,478.7 93.21,479 93.29,479.3 93.37,479.1 93.45,479.4 93.53,479.1 93.61,479.6 93.69,479.7 93.76,479.6 93.84,478.9 93.92,478.9 94,479.6 94.08,479 94.16,479.4 94.24,479 94.32,479.4 94.4,479 94.47,479.4 94.55,479.4 94.63,479.3 94.71,479.2 94.79,479.5 94.87,479.7 94.95,478.7 95.03,479.4 95.11,479.9 95.18,480 95.26,480.2 95.34,479.4 95.42,478.7 95.5,479.7 95.58,479.3 95.66,479.8 95.74,478.8 95.82,479 95.9,479 95.97,478.7 96.05,478.6 96.13,478.8 96.21,479.3 96.29,479.5 96.37,479.4 96.45,479.7 96.53,478.5 96.61,479.1 96.68,479 96.76,479 96.84,478.3 96.92,479.2 97,478.6 97.08,478.9 97.16,479 97.24,479.6 97.32,478.7 97.39,479.2 97.47,479.1 97.55,478.9 97.63,478.9 97.71,478.5 97.79,479.1 97.87,478.9 97.95,478.8 98.03,478.9 98.1,478.6 98.18,479 98.26,478.4 98.34,479.1 98.42,479.3 98.5,478.8 98.58,478.4 98.66,479 98.74,479 98.82,478.9 98.89,478.7 98.97,478.8 99.05,478.7 99.13,479.4 99.21,478.2 99.29,478.5 99.37,479 99.45,478.2 99.53,478.6 99.6,478.2 99.68,479.1 99.76,478.1 99.84,478.7 99.92,479.4 100,478.4 100.08,478.8 100.16,479 100.24,478.7 100.31,479.3 100.39,478.4 100.47,478.7 100.55,478.7 100.63,478.1 100.71,478.6 100.79,478.8 100.87,478.9 100.95,478.6 101.03,478.2 101.1,478.7 101.18,478.9 101.26,478.2 101.34,478.5 101.42,478.5 101.5,477.8 101.58,478.9 101.66,478.4 101.74,479.1 101.81,478.6 101.89,478.2 101.97,478 102.05,478.9 102.13,478.1 102.21,478.1 102.29,478.4 102.37,477.5 102.45,478.4 102.52,478.7 102.6,478.2 102.68,479 102.76,477.8 102.84,478 102.92,478.5 103,478.1 103.08,478.1 103.16,477.6 103.23,478.5 103.31,478.8 103.39,479 103.47,478.4 103.55,478.8 103.63,478.3 103.71,478.1 103.79,478.4 103.87,478.6 103.95,477.8 104.02,478.3 104.1,478.1 104.18,477.9 104.26,478.7 104.34,478.5 104.42,477.3 104.5,478.2 104.58,478.5 104.66,478.2 104.73,478.3 104.81,478.6 104.89,478.3 104.97,478.1 105.05,478.1 105.13,477.9 105.21,478.7 105.29,478.6 105.37,477.8 105.44,478.2 105.52,477.6 105.6,477.9 105.68,478.6 105.76,477.8 105.84,478.4 105.92,477.9 106,477.6 106.08,477.2 106.15,478 106.23,477.7 106.31,477.9 106.39,477.7 106.47,478.9 106.55,478.1 106.63,477.8 106.71,477.8 106.79,478.2 106.87,477.6 106.94,477.5 107.02,477.9 107.1,478 107.18,478 107.26,477.8 107.34,477.4 107.42,477.3 107.5,478 107.58,478.2 107.65,478.1 107.73,477.5 107.81,477.7 107.89,477.7 107.97,477.6 108.05,477.7 108.13,477.8 108.21,478.2 108.29,478 108.36,477.7 108.44,477.6 108.52,477.9 108.6,477.9 108.68,477.2 108.76,477.9 108.84,477.6 108.92,477.8 109,478 109.07,478.3 109.15,477.9 109.23,478 109.31,477.4 109.39,478.1 109.47,477.8 109.55,477.4 109.63,477.7 109.71,477.5 109.79,477.3 109.86,478.2 109.94,477.8 110.02,478 110.1,477.1 110.18,477.6 110.26,477.4 110.34,476.9 110.42,477.7 110.5,477.5 110.57,477.4 110.65,477.6 110.73,477.1 110.81,477.2 110.89,477.2 110.97,477.5 111.05,477.6 111.13,477.6 111.21,477.6 111.28,478.1 111.36,477.3 111.44,477.2 111.52,477.5 111.6,477.6 111.68,477.4 111.76,477.4 111.84,477.3 111.92,476.8 111.99,477.7 112.07,477.3 112.15,477.1 112.23,477.4 112.31,477.5 112.39,477.8 112.47,477.6 112.55,477.1 112.63,476.8 112.71,477.6 112.78,477.2 112.86,477.1 112.94,477 113.02,477.2 113.1,477.1 113.18,477 113.26,477.7 113.34,477.3 113.42,477.9 113.49,478 113.57,477.6 113.65,477.8 113.73,477.1 113.81,476.9 113.89,477.4 113.97,477.3 114.05,477.3 114.13,477.3 114.2,477.2 114.28,477.1 114.36,477.4 114.44,477.5 114.52,477.4 114.6,476.9 114.68,477.3 114.76,476.6 114.84,477.2 114.91,476.6 114.99,477.6 115.07,477.4 115.15,476.9 115.23,476.9 115.31,477.2 115.39,476.3 115.47,477.1 115.55,477 115.63,477.3 115.7,476.4 115.78,476.7 115.86,476.9 115.94,477.7 116.02,476.9 116.1,477.2 116.18,476.9 116.26,476.7 116.34,477.3 116.41,476.9 116.49,476.7 116.57,476.9 116.65,477.1 116.73,477.4 116.81,477.2 116.89,477.4 116.97,476.6 117.05,476.9 117.12,477.4 117.2,476.9 117.28,477.4 117.36,478.2 117.44,476.5 117.52,476.5 117.6,477.5 117.68,477.2 117.76,476.8 117.83,477 117.91,477.2 117.99,477.1 118.07,477 118.15,477.1 118.23,476.8 118.31,476.9 118.39,477.1 118.47,476.8 118.55,477.4 118.62,476.3 118.7,477.5 118.78,476.8 118.86,476.7 118.94,476.6 119.02,476.7 119.1,476.3 119.18,477.2 119.26,476.8 119.33,476.7 119.41,476.9 119.49,477 119.57,476.2 119.65,477 119.73,476.9 119.81,476.8 119.89,476.8 119.97,476.6 120.04,476.8 120.12,476.5 120.2,476.6 120.28,476.5 120.36,476.1 120.44,477 120.52,476 120.6,476.8 120.68,476.4 120.76,476.6 120.83,476.7 120.91,477.4 120.99,476 121.07,476.9 121.15,476.9 121.23,476.2 121.31,476.5 121.39,475.8 121.47,475.9 121.54,476.3 121.62,476.5 121.7,476.3 121.78,477 121.86,476.5 121.94,476.5 122.02,476.7 122.1,476.4 122.18,477.1 122.25,476.1 122.33,476 122.41,477 122.49,476.4 122.57,475.9 122.65,476.3 122.73,476.9 122.81,476.8 122.89,476.1 122.96,475.7 123.04,476.8 123.12,476.4 123.2,476.7 123.28,476.5 123.36,476.3 123.44,476.4 123.52,476.7 123.6,475.6 123.68,476.4 123.75,476.4 123.83,475.9 123.91,476.4 123.99,476.4 124.07,476 124.15,476.7 124.23,476 124.31,475.9 124.39,476.1 124.46,476.4 124.54,476.3 124.62,477 124.7,476.3 124.78,476.2 124.86,475.9 124.94,476.2 125.02,476.4 125.1,476.6 125.17,476.3 125.25,476.2 125.33,475.8 125.41,476.2 125.49,476.4 125.57,476.3 125.65,476.4 125.73,476.3 125.81,477.1 125.88,476.8 125.96,476.7 126.04,476 126.12,476.2 126.2,476.1 126.28,475.7 126.36,476.6 126.44,475.7 126.52,476 126.6,476.4 126.67,475.6 126.75,476.7 126.83,476.6 126.91,476.2 126.99,476 127.07,476.2 127.15,476.9 127.23,476.2 127.31,476.1 127.38,475.1 127.46,475.5 127.54,476 127.62,476.5 127.7,475.9 127.78,476.5 127.86,476 127.94,475.9 128.02,476.2 128.09,475.9 128.17,476.1 128.25,476.2 128.33,475.4 128.41,475.8 128.49,476.1 128.57,476.3 128.65,475.9 128.73,475.8 128.8,475.6 128.88,475.4 128.96,475.8 129.04,476.4 129.12,475.1 129.2,475.5 129.28,475.6 129.36,475.4 129.44,476.5 129.52,476.1 129.59,476.1 129.67,475.4 129.75,476.4 129.83,476 129.91,475.3 129.99,475.6 130.07,476 130.15,475.1 130.23,476.4 130.3,475.7 130.38,475.9 130.46,475.6 130.54,476 130.62,476.2 130.7,475.7 130.78,476.3 130.86,475.6 130.94,475.9 131.01,475.4 131.09,476 131.17,476.1 131.25,475.6 131.33,475.3 131.41,476.6 131.49,475.7 131.57,475.5 131.65,476.3 131.72,476.1 131.8,475.5 131.88,476.1 131.96,476 132.04,475.1 132.12,476.1 132.2,476.1 132.28,476.6 132.36,476.1 132.44,476.2 132.51,475 132.59,475.2 132.67,476.2 132.75,474.9 132.83,475.4 132.91,475.7 132.99,475.3 133.07,475.5 133.15,476 133.22,476.4 133.3,476 133.38,475.6 133.46,475.8 133.54,475.9 133.62,475.2 133.7,476 133.78,475.3 133.86,475.8 133.93,475.6 134.01,476 134.09,475.6 134.17,475.9 134.25,476.3 134.33,475.6 134.41,475.6 134.49,475.2 134.57,475.4 134.64,476 134.72,475.8 134.8,476.5 134.88,476 134.96,475 135.04,474.9 135.12,475.2 135.2,475.4 135.28,475.3 135.36,475.3 135.43,476.2 135.51,475.9 135.59,475 135.67,475 135.75,475.4 135.83,475.6 135.91,475.6 135.99,475.7 136.07,475.8 136.14,476.2 136.22,475.4 136.3,475.6 136.38,475.5 136.46,474.7 136.54,475.2 136.62,475.7 136.7,475.2 136.78,476 136.85,475 136.93,475.3 137.01,475.5 137.09,475.2 137.17,474.8 137.25,475.6 137.33,475.8 137.41,474.5 137.49,475.4 137.56,474.8 137.64,475.6 137.72,475.2 137.8,475.6 137.88,475.1 137.96,475.5 138.04,475.6 138.12,474.7 138.2,475.2 138.28,476.2 138.35,475.4 138.43,475.7 138.51,475.8 138.59,475.5 138.67,475.5 138.75,475.3 138.83,475.6 138.91,476.1 138.99,475.5 139.06,474.9 139.14,475.8 139.22,475 139.3,475.1 139.38,475.4 139.46,475.1 139.54,475.6 139.62,475.4 139.7,475.7 139.77,475 139.85,474.7 139.93,475.5 140.01,474.7 140.09,476.1 140.17,475.6 140.25,475.6 140.33,474.5 140.41,475.4 140.49,474.9 140.56,476 140.64,475.1 140.72,474.9 140.8,475.2 140.88,476.3 140.96,475.1 141.04,474.8 141.12,474.6 141.2,475 141.27,475.9 141.35,475.2 141.43,474.8 141.51,475.5 141.59,474.9 141.67,475.3 141.75,475.1 141.83,474.8 141.91,475.4 141.98,473.9 142.06,475 142.14,475 142.22,475.4 142.3,475.1 142.38,475.2 142.46,475.7 142.54,475.7 142.62,475 142.69,475.1 142.77,476.2 142.85,476 142.93,475.2 143.01,475.1 143.09,474.8 143.17,475.6 143.25,474.8 143.33,475.2 143.41,475.3 143.48,475.1 143.56,474.6 143.64,474.8 143.72,474.6 143.8,475.3 143.88,475.1 143.96,475.5 144.04,475.2 144.12,475.2 144.19,475.2 144.27,474.7 144.35,474.8 144.43,474.7 144.51,474.9 144.59,474.5 144.67,474.9 144.75,474.6 144.83,474.7 144.9,474.6 144.98,475 145.06,475.5 145.14,475.6 145.22,474.1 145.3,474.8 145.38,474.7 145.46,475 145.54,475.1 145.61,473.7 145.69,475.4 145.77,474.9 145.85,474.9 145.93,475.4 146.01,475.4 146.09,475.2 146.17,475 146.25,475.1 146.33,474.5 146.4,475.4 146.48,474.7 146.56,474.2 146.64,474.5 146.72,475.3 146.8,476.1 146.88,474.5 146.96,474.6 147.04,475.1 147.11,474.3 147.19,475 147.27,474.8 147.35,475.3 147.43,474.7 147.51,475 147.59,475 147.67,474.4 147.75,474.7 147.82,475.4 147.9,474.5 147.98,474.4 148.06,475.2 148.14,475 148.22,474.8 148.3,474.9 148.38,474.7 148.46,474.5 148.53,475 148.61,473.9 148.69,475.1 148.77,475 148.85,473.9 148.93,473.7 149.01,474.7 149.09,474.8 149.17,475.2 149.25,474.2 149.32,474.7 149.4,475.1 149.48,474.5 149.56,474.1 149.64,474.4 149.72,473.8 149.8,474.2 149.88,474.5 149.96,474.7 150.03,474.5 150.11,474.2 150.19,474.3 150.27,474.2 150.35,474.6 150.43,474.3 150.51,474.1 150.59,474.7 150.67,475.2 150.74,473.9 150.82,474.4 150.9,474.8 150.98,474.5 151.06,474.8 151.14,475.4 151.22,474.7 151.3,475.2 151.38,474.5 151.45,474.7 151.53,474.1 151.61,474.7 151.69,474.5 151.77,474.7 151.85,474.8 151.93,475.2 152.01,474.2 152.09,474.5 152.17,474.8 152.24,474.5 152.32,474.8 152.4,474.9 152.48,474.5 152.56,474 152.64,474.7 152.72,475.2 152.8,474.8 152.88,473.8 152.95,474.9 153.03,474 153.11,474.6 153.19,474.2 153.27,474.6 153.35,475.2 153.43,474.7 153.51,473.6 153.59,474.6 153.66,474.3 153.74,474.7 153.82,474.6 153.9,474.4 153.98,474.3 154.06,473.5 154.14,474.5 154.22,474.6 154.3,474.8 154.37,475.1 154.45,475.2 154.53,474.2 154.61,475.3 154.69,473.9 154.77,474.1 154.85,474.6 154.93,475 155.01,474.4 155.09,474.4 155.16,474 155.24,474.8 155.32,474.6 155.4,474.5 155.48,474.6 155.56,474.7 155.64,475.2 155.72,475.1 155.8,474.7 155.87,474.5 155.95,474 156.03,473.4 156.11,473.6 156.19,474.2 156.27,473.6 156.35,474.4 156.43,474.6 156.51,473.4 156.58,474.9 156.66,474.6 156.74,474.5 156.82,473.7 156.9,474.6 156.98,474 157.06,474.5 157.14,474.9 157.22,474.2 157.29,474.3 157.37,474.9 157.45,474.7 157.53,474.7 157.61,473.9 157.69,474.1 157.77,474.2 157.85,474.1 157.93,474.5 158.01,474.1 158.08,474.6 158.16,474.9 158.24,474.6 158.32,474.2 158.4,474.3 158.48,473.8 158.56,475 158.64,474.4 158.72,474.1 158.79,474.7 158.87,474.2 158.95,474.5 159.03,474.8 159.11,473.8 159.19,474.9 159.27,473.8 159.35,474.4 159.43,474.7 159.5,474.6 159.58,474.6 159.66,474.6 159.74,474.1 159.82,475.1 159.9,473.7 159.98,473.9 160.06,473.6 160.14,474.7 160.22,475.3 160.29,474.5 160.37,474.3 160.45,474.1 160.53,474.4 160.61,474.2 160.69,474.1 160.77,474.9 160.85,473.4 160.93,474.7 161,474.1 161.08,473.7 161.16,474.5 161.24,474.2 161.32,473.4 161.4,474.3 161.48,473.7 161.56,474 161.64,474.1 161.71,473.8 161.79,474.3 161.87,474.2 161.95,473.7 162.03,474 162.11,473.9 162.19,474.7 162.27,474.1 162.35,473.6 162.42,473.7 162.5,474 162.58,474.4 162.66,474.4 162.74,473.9 162.82,473.5 162.9,474.1 162.98,473.5 163.06,474.2 163.14,473.6 163.21,474.5 163.29,474 163.37,474.6 163.45,473.8 163.53,473.8 163.61,474.5 163.69,474.4 163.77,474.3 163.85,474.7 163.92,474.5 164,474.5 164.08,473.7 164.16,473.4 164.24,474.3 164.32,474.2 164.4,474 164.48,474.3 164.56,474.2 164.63,473.7 164.71,473.9 164.79,474.1 164.87,474.3 164.95,473.4 165.03,474.3 165.11,474 165.19,474.5 165.27,474.3 165.34,474 165.42,474.2 165.5,473.8 165.58,474 165.66,474.6 165.74,475.1 165.82,473.6 165.9,474.3 165.98,473.3 166.06,474 166.13,474.3 166.21,473.7 166.29,474.1 166.37,474 166.45,474.4 166.53,473.7 166.61,473.5 166.69,474.2 166.77,473.2 166.84,474.2 166.92,473.9 167,474.7 167.08,474.8 167.16,473 167.24,473.3 167.32,473.4 167.4,474.7 167.48,473.8 167.55,473.8 167.63,473.9 167.71,473.8 167.79,474.4 167.87,474 167.95,474.5 168.03,474.1 168.11,473.8 168.19,474.3 168.26,474.1 168.34,474.1 168.42,473.9 168.5,473.5 168.58,473.8 168.66,473.7 168.74,474.6 168.82,474.1 168.9,473.5 168.98,474.3 169.05,474.1 169.13,474.3 169.21,473.3 169.29,474.1 169.37,474.2 169.45,473.6 169.53,473.4 169.61,473.7 169.69,473.4 169.76,473.8 169.84,473.9 169.92,474.1 170,474.1 170.08,474.1 170.16,473.7 170.24,473.9 170.32,473.8 170.4,473.6 170.47,473.9 170.55,474.5 170.63,474.2 170.71,474.4 170.79,474.7 170.87,473.8 170.95,474.4 171.03,474.4 171.11,474.3 171.18,473.4 171.26,474 171.34,473.4 171.42,473.9 171.5,474 171.58,473.6 171.66,473.6 171.74,473.8 171.82,474.3 171.9,474 171.97,474.4 172.05,473.9 172.13,473.8 172.21,473.1 172.29,473.2 172.37,473.5 172.45,473.4 172.53,473.7 172.61,472.5 172.68,473.1 172.76,472.6 172.84,473.6 172.92,473.6 173,473.3 173.08,473.7 173.16,473.6 173.24,474.2 173.32,473.4 173.39,473.7 173.47,473.4 173.55,473.9 173.63,474.6 173.71,473.5 173.79,473.2 173.87,474.4 173.95,474.2 174.03,473.9 174.1,473.9 174.18,474.6 174.26,473 174.34,473.3 174.42,474 174.5,474.6 174.58,473.6 174.66,472.8 174.74,473.4 174.82,473.2 174.89,474.2 174.97,473.6 175.05,474.4 175.13,472.8 175.21,473.5 175.29,474.7 175.37,474.6 175.45,473.5 175.53,473.7 175.6,473.9 175.68,473.5 175.76,472.8 175.84,473.6 175.92,474.6 176,473.8 176.08,474.3 176.16,474.1 176.24,473.6 176.31,473.8 176.39,474.2 176.47,473.7 176.55,474.1 176.63,473.5 176.71,473.8 176.79,473.5 176.87,473.8 176.95,473.4 177.02,473.8 177.1,473.7 177.18,474 177.26,473.6 177.34,474.5 177.42,472.5 177.5,474 177.58,473.7 177.66,473.9 177.74,473.9 177.81,473.5 177.89,473.9 177.97,473.9 178.05,474.3 178.13,474.1 178.21,474.2 178.29,472.9 178.37,474.3 178.45,474.2 178.52,473.6 178.6,473 178.68,474.5 178.76,474.4 178.84,473.6 178.92,473.5 179,474.3 179.08,474.5 179.16,474.1 179.23,473.3 179.31,473.7 179.39,473.3 179.47,473.7 179.55,473.7 179.63,473.4 179.71,473.7 179.79,473.6 179.87,474.1 179.94,473.9 180.02,473.4 180.1,473.8 180.18,474 180.26,473.3 180.34,473.4 180.42,473.7 180.5,474 180.58,473.2 180.66,472.5 180.73,474 180.81,474.4 180.89,474 180.97,474.1 181.05,474.2 181.13,474.2 181.21,473.2 181.29,473.2 181.37,472.9 181.44,473.3 181.52,473.9 181.6,473.1 181.68,473.9 181.76,473.8 181.84,474.2 181.92,473.1 182,473.2 182.08,473.8 182.15,473.8 182.23,473.6 182.31,473.5 182.39,473.2 182.47,473.6 182.55,473.4 182.63,474.3 182.71,473.8 182.79,474.5 182.87,472.8 182.94,473 183.02,473.3 183.1,473.1 183.18,472.7 183.26,473.2 183.34,474.4 183.42,473.7 183.5,474.7 183.58,474 183.65,474.2 183.73,473.6 183.81,473.4 183.89,474 183.97,473.7 184.05,473.5 184.13,473.7 184.21,473.7 184.29,474.7 184.36,473.8 184.44,473.2 184.52,473.5 184.6,474.3 184.68,473.7 184.76,473.5 184.84,474 184.92,473.3 185,474 185.07,473.7 185.15,473.6 185.23,472.5 185.31,473.7 185.39,473.8 185.47,473.2 185.55,473.8 185.63,473.5 185.71,474.6 185.79,473.4 185.86,473.6 185.94,474.2 186.02,472.9 186.1,473.7 186.18,473.7 186.26,474.2 186.34,474.3 186.42,473.8 186.5,474.3 186.57,473.3 186.65,473.1 186.73,473.9 186.81,474.3 186.89,473.7 186.97,474.1 187.05,473.5 187.13,473.5 187.21,473.7 187.28,473.5 187.36,473 187.44,472.7 187.52,473.8 187.6,473.2 187.68,473.6 187.76,474 187.84,472.9 187.92,473.3 187.99,473.5 188.07,473.4 188.15,473.6 188.23,474 188.31,472.7 188.39,473.1 188.47,473.4 188.55,473.1 188.63,472.9 188.71,473.6 188.78,473.2 188.86,473.7 188.94,473.2 189.02,473.6 189.1,472.4 189.18,473.7 189.26,473.3 189.34,473.3 189.42,473.7 189.49,473.1 189.57,473.5 189.65,473.7 189.73,473.5 189.81,473.9 189.89,472.9 189.97,473.2 190.05,473 190.13,474.1 190.2,473.4 190.28,473.9 190.36,473.5 190.44,472.9 190.52,473.4 190.6,473.6 190.68,473 190.76,473 190.84,472.6 190.91,474.4 190.99,473.3 191.07,473.7 191.15,473.9 191.23,473.4 191.31,474 191.39,474.5 191.47,473.9 191.55,473.6 191.63,472.6 191.7,473.8 191.78,474 191.86,474.4 191.94,473.6 192.02,473.6 192.1,473.4 192.18,474.2 192.26,473.8 192.34,474.6 192.41,473.4 192.49,474.2 192.57,474.8 192.65,472.9 192.73,473.2 192.81,473.3 192.89,473.3 192.97,474 193.05,472.9 193.12,474 193.2,472.5 193.28,473.3 193.36,474.3 193.44,473 193.52,472.5 193.6,473.6 193.68,472.9 193.76,473.5 193.83,473.7 193.91,474.7 193.99,472.8 194.07,473.7 194.15,473.3 194.23,474 194.31,473.9 194.39,472.9 194.47,473.6 194.55,473.6 194.62,474 194.7,473.3 194.78,473.1 194.86,473.6 194.94,473.5 195.02,474 195.1,472.7 195.18,473.7 195.26,473.5 195.33,472.6 195.41,473.5 195.49,474.2 195.57,473.9 195.65,473.6 195.73,472.5 195.81,473.3 195.89,473.5 195.97,473 196.04,472.8 196.12,473.8 196.2,472.7 196.28,473 196.36,473.2 196.44,474.5 196.52,473.3 196.6,472.7 196.68,473.5 196.75,472.3 196.83,473.4 196.91,473.9 196.99,473.1 197.07,473.2 197.15,473 197.23,473.5 197.31,472.7 197.39,473.7 197.47,473.3 197.54,474 197.62,473.8 197.7,473.3 197.78,473.7 197.86,473.6 197.94,473.5 198.02,473.2 198.1,473 198.18,473 198.25,472.9 198.33,473.3 198.41,473.6 198.49,474.1 198.57,473.5 198.65,473.8 198.73,474.3 198.81,472.6 198.89,474.3 198.96,473.2 199.04,473.1 199.12,473.5 199.2,472.1 199.28,473.3 199.36,473.7 199.44,472.5 199.52,473.7 199.6,474.1 199.68,473.8 199.75,473.7 199.83,473.3 199.91,473.2 199.99,474.1 200.07,473.2 200.15,472.2 200.23,473.7 200.31,473.4 200.39,473 200.46,472.7 200.54,473.7 200.62,473.8 200.7,473.8 200.78,472.8 200.86,472.9 200.94,474.4 201.02,474.4 201.1,473.9 201.17,474.1 201.25,473.1 201.33,473.2 201.41,472.4 201.49,472.9 201.57,473.3 201.65,472.7 201.73,473.8 201.81,474 201.88,473.3 201.96,472.9 202.04,474.1 202.12,472.9 202.2,472.9 202.28,473.6 202.36,473.2 202.44,473.4 202.52,473.3 202.6,472.9 202.67,473.7 202.75,472.8 202.83,472.9 202.91,472.9 202.99,474.3 203.07,474.2 203.15,473 203.23,473.6 203.31,473.6 203.38,473.7 203.46,474 203.54,473.4 203.62,473.7 203.7,473.6 203.78,473.1 203.86,473.9 203.94,472.7 204.02,474.4 204.09,472 204.17,474 204.25,473 204.33,472.8 204.41,473.3 204.49,472.9 204.57,473.3 204.65,474.2 204.73,473.1 204.8,472.7 204.88,473.6 204.96,474.1 205.04,473.6 205.12,473.1 205.2,473.1 205.28,472.7 205.36,473 205.44,473 205.52,474.3 205.59,472.2 205.67,473.2 205.75,472.8 205.83,473.4 205.91,473.3 205.99,473.2 206.07,472.5 206.15,472.5 206.23,473 206.3,472.3 206.38,473.5 206.46,473 206.54,473.5 206.62,472.6 206.7,473.2 206.78,472.8 206.86,472.4 206.94,474.3 207.01,472.2 207.09,473.1 207.17,473.4 207.25,474.2 207.33,473.4 207.41,474.4 207.49,473.2 207.57,473.3 207.65,472.3 207.72,473.4 207.8,472.7 207.88,472.7 207.96,472.2 208.04,473.4 208.12,472.9 208.2,474 208.28,473.8 208.36,473.4 208.44,473.2 208.51,473.8 208.59,473.4 208.67,472.9 208.75,473.5 208.83,473.3 208.91,473.7 208.99,472.5 209.07,472.3 209.15,473.1 209.22,473.3 209.3,472.4 209.38,473 209.46,473.6 209.54,473.9 209.62,473.5 209.7,472.1 209.78,473.5 209.86,471.7 209.93,473.2 210.01,473.3 210.09,472.5 210.17,473.3 210.25,473 210.33,473.7 210.41,473.8 210.49,473.6 210.57,473.1 210.64,473.5 210.72,474.2 210.8,473 210.88,473.3 210.96,473.3 211.04,473.5 211.12,474.3 211.2,472.4 211.28,473.4 211.36,472.9 211.43,472.5 211.51,472.6 211.59,473.1 211.67,473.2 211.75,473 211.83,472.7 211.91,472.9 211.99,473.4 212.07,473 212.14,473 212.22,472.8 212.3,473.1 212.38,472.5 212.46,473.1 212.54,472.7 212.62,473.2 212.7,473.5 212.78,473.7 212.85,473.3 212.93,472.9 213.01,472.5 213.09,473.2 213.17,473.4 213.25,473.4 213.33,472.5 213.41,473.1 213.49,473.4 213.56,472.8 213.64,473.8 213.72,473.1 213.8,473.2 213.88,473.2 213.96,473.8 214.04,472.7 214.12,472.3 214.2,473.8 214.28,473.1 214.35,472.8 214.43,472 214.51,473.4 214.59,473.6 214.67,473.2 214.75,472.1 214.83,473.1 214.91,473 214.99,472.2 215.06,474.2 215.14,474.3 215.22,472.7 215.3,472.8 215.38,473.9 215.46,472.9 215.54,473.1 215.62,473 215.7,473.6 215.77,473.4 215.85,473.6 215.93,473.1 216.01,473.3 216.09,472.3 216.17,472.8 216.25,473.9 216.33,472.9 216.41,472.4 216.48,473 216.56,472.6 216.64,473.2 216.72,472.8 216.8,473.6 216.88,472.7 216.96,473.8 217.04,472.5 217.12,473.9 217.2,474.2 217.27,472.9 217.35,473.2 217.43,473.1 217.51,472.9 217.59,473.1 217.67,473.6 217.75,473 217.83,472.9 217.91,472.9 217.98,472.1 218.06,473.5 218.14,473.1 218.22,472.8 218.3,473.3 218.38,473.7 218.46,473.4 218.54,472.6 218.62,473.3 218.69,472.8 218.77,473.5 218.85,472.9 218.93,473.5 219.01,473.5 219.09,473.1 219.17,473.1 219.25,472.3 219.33,473.9 219.41,472.8 219.48,472.3 219.56,472.4 219.64,473.3 219.72,473.5 219.8,473.4 219.88,472.9 219.96,473 220.04,472.9 220.12,472.8 220.19,473.6 220.27,473.7 220.35,473.7 220.43,473.8 220.51,473.1 220.59,472.9 220.67,471.8 220.75,472.8 220.83,473.1 220.9,472.4 220.98,473.5 221.06,472.9 221.14,472.6 221.22,472.7 221.3,472.9 221.38,473.3 221.46,473.7 221.54,473.2 221.61,473.4 221.69,472.7 221.77,473.2 221.85,472.8 221.93,473.9 222.01,472.6 222.09,473.5 222.17,473.9 222.25,473.8 222.33,473.4 222.4,472.5 222.48,472.7 222.56,473.7 222.64,473 222.72,473.1 222.8,473.9 222.88,473.6 222.96,474.1 223.04,473.5 223.11,474.4 223.19,473.5 223.27,473.5 223.35,473.5 223.43,473.5 223.51,472.5 223.59,473.2 223.67,472.9 223.75,472.7 223.82,472.6 223.9,472.7 223.98,473.3 224.06,473.6 224.14,473.5 224.22,473.3 224.3,473.1 224.38,473.1 224.46,472.5 224.53,473.1 224.61,472.1 224.69,472.5 224.77,473.3 224.85,472.6 224.93,474.5 225.01,472.3 225.09,472.8 225.17,472.8 225.25,473.9 225.32,471.7 225.4,473.2 225.48,473.1 225.56,472.5 225.64,473.1 225.72,473.5 225.8,472.7 225.88,473.6 225.96,472.7 226.03,473 226.11,472.5 226.19,473.7 226.27,472.4 226.35,472.9 226.43,472 226.51,473.4 226.59,472.1 226.67,472.7 226.74,472.6 226.82,473.4 226.9,472.7 226.98,472.7 227.06,473.5 227.14,473.6 227.22,473.4 227.3,472.3 227.38,472.9 227.45,472.5 227.53,472.9 227.61,473 227.69,472.9 227.77,473.2 227.85,472.4 227.93,472.9 228.01,472.9 228.09,473.7 228.17,472.9 228.24,473.4 228.32,473.3 228.4,472.5 228.48,473.6 228.56,473.1 228.64,472.7 228.72,472.4 228.8,473.3 228.88,472.8 228.95,472.9 229.03,473.6 229.11,474.1 229.19,474 229.27,472.7 229.35,473 229.43,473.7 229.51,473.3 229.59,473.2 229.66,473.2 229.74,473 229.82,471.9 229.9,473.4 229.98,472.9 230.06,473.4 230.14,473.3 230.22,473.5 230.3,473.1 230.37,473.3 230.45,472.8 230.53,472.9 230.61,473.5 230.69,472 230.77,473.6 230.85,472.8 230.93,471.9 231.01,473.4 231.09,472.3 231.16,472.3 231.24,472.8 231.32,474 231.4,472.3 231.48,472.9 231.56,473.3 231.64,472.3 231.72,473.4 231.8,472.4 231.87,473.3 231.95,472.7 232.03,473.5 232.11,473.2 232.19,473.5 232.27,473.4 232.35,472.9 232.43,473.1 232.51,472.9 232.58,472.3 232.66,473 232.74,473.9 232.82,473.1 232.9,472.9 232.98,472.4 233.06,472.4 233.14,472.5 233.22,473.1 233.29,472.6 233.37,473.7 233.45,472.3 233.53,472.7 233.61,472.7 233.69,473.2 233.77,472.9 233.85,473.3 233.93,472.7 234.01,473.7 234.08,472.5 234.16,472.7 234.24,471.9 234.32,473 234.4,473 234.48,472.9 234.56,472.9 234.64,473 234.72,473.5 234.79,473.5 234.87,473.3 234.95,473.1 235.03,473.6 235.11,473.6 235.19,473.1 235.27,472.6 235.35,473.1 235.43,472.6 235.5,472.5 235.58,472.6 235.66,473.2 235.74,473.2 235.82,473.9 235.9,473.3 235.98,472.7 236.06,473.5 236.14,472.2 236.21,472.2 236.29,473.1 236.37,472.5 236.45,473.7 236.53,473.5 236.61,473.1 236.69,472.9 236.77,473 236.85,473.4 236.93,471.9 237,472.8 237.08,472.8 237.16,472.6 237.24,472.9 237.32,473.1 237.4,473.2 237.48,473.8 237.56,472.2 237.64,473.4 237.71,473.8 237.79,473.4 237.87,473.8 237.95,471.9 238.03,472.7 238.11,472.2 238.19,472.2 238.27,472.6 238.35,472.6 238.42,473.3 238.5,473 238.58,473.2 238.66,472.9 238.74,473.3 238.82,472.3 238.9,472.5 238.98,473 239.06,473.8 239.13,472.6 239.21,472.5 239.29,473 239.37,473.6 239.45,472.7 239.53,472.4 239.61,473.9 239.69,472.6 239.77,473.9 239.85,472.9 239.92,472 240,472.9 240.08,472.7 240.16,473.1 240.24,472.9 240.32,471.7 240.4,472.2 240.48,473.1 240.56,473.1 240.63,472.9 240.71,471.8 240.79,472.8 240.87,472.3 240.95,473.1 241.03,473.6 241.11,472.2 241.19,473 241.27,473.3 241.34,473.3 241.42,473.3 241.5,473.2 241.58,473.7 241.66,472.3 241.74,472.7 241.82,472.4 241.9,473.1 241.98,472.7 242.06,472.8 242.13,472.3 242.21,472.5 242.29,472.7 242.37,473.2 242.45,473.5 242.53,473.3 242.61,473.2 242.69,473.2 242.77,473.5 242.84,472 242.92,472.8 243,474 243.08,473.5 243.16,473.6 243.24,472.8 243.32,472.3 243.4,473.4 243.48,472.6 243.55,473 243.63,472.3 243.71,472.2 243.79,472.7 243.87,472.5 243.95,472.9 244.03,473.1 244.11,473.5 244.19,472.7 244.26,472.9 244.34,473.1 244.42,472.9 244.5,473 244.58,473.4 244.66,473.2 244.74,472.3 244.82,473 244.9,472.2 244.98,473.5 245.05,473.6 245.13,472.8 245.21,472.5 245.29,473.2 245.37,472.6 245.45,472.4 245.53,472.3 245.61,472.9 245.69,472.9 245.76,473.7 245.84,472.9 245.92,472.7 246,472.1 246.08,473.5 246.16,473.3 246.24,473.4 246.32,472.4 246.4,474.2 246.47,473.4 246.55,471.8 246.63,472.5 246.71,473.6 246.79,472.9 246.87,472.4 246.95,472.6 247.03,473 247.11,473.3 247.18,472.4 247.26,472.9 247.34,472.4 247.42,472.7 247.5,473.1 247.58,472.1 247.66,473.1 247.74,472.6 247.82,473.2 247.9,473 247.97,473 248.05,473.2 248.13,472.7 248.21,472.2 248.29,471.9 248.37,472.1 248.45,472.9 248.53,472.1 248.61,472.6 248.68,471.9 248.76,473.5 248.84,472.1 248.92,473.2 249,472.2 249.08,473.1 249.16,472.4 249.24,473 249.32,473.8 249.39,473.4 249.47,473 249.55,472.8 249.63,474 249.71,473.5 249.79,473.2 249.87,473 249.95,472.7 250.03,473.3 250.1,473.6 250.18,472.7 250.26,473 250.34,472.4 250.42,473.1 250.5,472.5 250.58,473.3 250.66,472.7 250.74,472.8 250.82,472.6 250.89,473.3 250.97,472.9 251.05,473.3 251.13,472.9 251.21,472.5 251.29,471.3 251.37,472.8 251.45,472.5 251.53,472.8 251.6,472.2 251.68,472.6 251.76,472.3 251.84,472.6 251.92,471.6 252,472.1 252.08,473.7 252.16,472.7 252.24,472.8 252.31,474 252.39,473.3 252.47,473.1 252.55,473.2 252.63,472.8 252.71,473.8 252.79,472.4 252.87,472.4 252.95,472.6 253.02,473 253.1,472.8 253.18,473.1 253.26,472.2 253.34,472.6 253.42,471.8 253.5,473 253.58,472.1 253.66,473.1 253.74,472.9 253.81,473.4 253.89,472.5 253.97,472.8 254.05,472.5 254.13,472 254.21,472.8 254.29,472.6 254.37,472.3 254.45,472.8 254.52,473.1 254.6,472.6 254.68,472.5 254.76,472.4 254.84,472.4 254.92,473.2 255,472.6 255.08,472.2 255.16,473 255.23,472.6 255.31,473.1 255.39,472.7 255.47,471.9 255.55,472.7 255.63,473.3 255.71,472.6 255.79,472.7 255.87,472.2 255.94,473.5 256.02,473.3 256.1,472.8 256.18,473.6 256.26,472.2 256.34,473.9 256.42,473.2 256.5,473.6 256.58,473.1 256.66,472.4 256.73,472.5 256.81,472.3 256.89,472.5 256.97,473.9 257.05,472.6 257.13,473.8 257.21,473 257.29,473 257.37,473.1 257.44,472.5 257.52,473.2 257.6,471.9 257.68,472.5 257.76,472.2 257.84,472.4 257.92,472.3 258,472.8 258.08,471.8 258.15,473.3 258.23,472.5 258.31,472.8 258.39,472.9 258.47,472.6 258.55,473.2 258.63,472.3 258.71,472.4 258.79,472.7 258.87,472.4 258.94,473.3 259.02,473.7 259.1,473.1 259.18,472.9 259.26,471.5 259.34,472.9 259.42,472.2 259.5,472.3 259.58,471.7 259.65,472.7 259.73,472.4 259.81,472.9 259.89,473.2 259.97,473.3 260.05,473.2 260.13,472 260.21,472.6 260.29,472.8 260.36,472.8 260.44,473.1 260.52,472.8 260.6,472.8 260.68,472.4 260.76,472.3 260.84,473.6 260.92,472.6 261,472 261.07,473.3 261.15,472.9 261.23,472.7 261.31,472.2 261.39,472.4 261.47,472.9 261.55,472.5 261.63,472.2 261.71,472.5 261.79,471.8 261.86,472.5 261.94,473.3 262.02,473.2 262.1,472.8 262.18,472.9 262.26,472.4 262.34,472.6 262.42,471.8 262.5,472.3 262.57,472 262.65,473.1 262.73,473 262.81,472.4 262.89,472.7 262.97,472.4 263.05,472.6 263.13,473.1 263.21,471.8 263.28,472.1 263.36,473.6 263.44,473.1 263.52,472.7 263.6,472.4 263.68,472.8 263.76,473.5 263.84,472.3 263.92,472.8 263.99,472.1 264.07,472.6 264.15,472.2 264.23,472.3 264.31,472.3 264.39,473 264.47,472.2 264.55,472.6 264.63,473.4 264.71,472.9 264.78,472.9 264.86,472.5 264.94,472.4 265.02,473.3 265.1,472.3 265.18,472.8 265.26,473.3 265.34,472.3 265.42,473.1 265.49,473.3 265.57,472.3 265.65,472.2 265.73,473.1 265.81,472.2 265.89,472.2 265.97,473 266.05,471.7 266.13,472.7 266.2,472.6 266.28,474 266.36,472.4 266.44,473 266.52,472.5 266.6,473.6 266.68,472.1 266.76,471.9 266.84,471.7 266.91,474.3 266.99,472.4 267.07,472.5 267.15,474.3 267.23,473.1 267.31,472.7 267.39,472 267.47,473.1 267.55,472.6 267.63,472.7 267.7,472.5 267.78,472.9 267.86,472.2 267.94,472.2 268.02,473.4 268.1,472.1 268.18,473.1 268.26,472.8 268.34,472.1 268.41,472.6 268.49,472.4 268.57,472.3 268.65,472.4 268.73,473 268.81,473.2 268.89,472.3 268.97,472.3 269.05,472.5 269.12,472.8 269.2,472.2 269.28,472.7 269.36,473.4 269.44,472.5 269.52,472.4 269.6,472.3 269.68,473.1 269.76,473.1 269.83,472.5 269.91,472.9 269.99,472.7 270.07,472.2 270.15,472.5 270.23,471.7 270.31,472.5 270.39,471.8 270.47,472.1 270.55,471.3 270.62,472.7 270.7,472.7 270.78,472 270.86,472.9 270.94,472.9 271.02,472.5 271.1,472.5 271.18,473.4 271.26,472.5 271.33,472.8 271.41,472.7 271.49,472.6 271.57,472.8 271.65,472.1 271.73,472.4 271.81,472.7 271.89,472.6 271.97,472.1 272.04,472.2 272.12,472 272.2,472.7 272.28,472.6 272.36,471.6 272.44,472.7 272.52,471.8 272.6,472.2 272.68,472.9 272.75,473.4 272.83,472.3 272.91,473 272.99,473 273.07,473.5 273.15,472 273.23,472.6 273.31,472.6 273.39,472.4 273.47,472.5 273.54,472.6 273.62,472.4 273.7,472.8 273.78,474 273.86,472.2 273.94,472.4 274.02,472.6 274.1,471.8 274.18,473.4 274.25,474.1 274.33,471.8 274.41,472.4 274.49,473.5 274.57,472.8 274.65,472.3 274.73,473.3 274.81,472.3 274.89,471.5 274.96,471.9 275.04,472.6 275.12,472.4 275.2,473.1 275.28,472.5 275.36,472.8 275.44,473.1 275.52,473.3 275.6,471.6 275.67,472.6 275.75,473.1 275.83,472.8 275.91,471.8 275.99,471.8 276.07,472.9 276.15,472.5 276.23,472.1 276.31,472.8 276.39,473.2 276.46,473.1 276.54,472.6 276.62,473 276.7,473.3 276.78,472.7 276.86,472.1 276.94,472.2 277.02,472.7 277.1,471.6 277.17,473 277.25,472.6 277.33,473.3 277.41,472.2 277.49,472.7 277.57,473.5 277.65,473 277.73,471.7 277.81,472.2 277.88,472.5 277.96,472.1 278.04,473.4 278.12,473 278.2,473.3 278.28,473 278.36,472.8 278.44,472.3 278.52,472.1 278.6,472.1 278.67,471.2 278.75,472.9 278.83,472.6 278.91,472.3 278.99,473 279.07,472.7 279.15,472.4 279.23,473.1 279.31,472.3 279.38,471.9 279.46,473.2 279.54,473.8 279.62,472.5 279.7,473.1 279.78,472.5 279.86,472.8 279.94,472.4 280.02,472 280.09,472.2 280.17,472.8 280.25,473.2 280.33,473.9 280.41,473.7 280.49,473 280.57,472.5 280.65,472.9 280.73,472.9 280.8,473.4 280.88,473.5 280.96,473.5 281.04,472.3 281.12,473.6 281.2,472.2 281.28,473.1 281.36,472.3 281.44,472.5 281.52,472.2 281.59,472 281.67,473 281.75,473.1 281.83,472.8 281.91,473 281.99,472.3 282.07,472.7 282.15,472.6 282.23,472.4 282.3,472.9 282.38,472 282.46,473.6 282.54,472.5 282.62,472.4 282.7,473 282.78,473 282.86,472.1 282.94,472.8 283.01,473.6 283.09,473.3 283.17,472.1 283.25,473.1 283.33,471.9 283.41,471.9 283.49,472.7 283.57,472.3 283.65,473.1 283.72,472.8 283.8,473 283.88,472.3 283.96,473.3 284.04,472.7 284.12,472.6 284.2,472.3 284.28,473.7 284.36,473.6 284.44,473.1 284.51,472.7 284.59,472.5 284.67,472.5 284.75,471.5 284.83,472.3 284.91,472.3 284.99,472.9 285.07,472.2 285.15,472.2 285.22,472.3 285.3,472.7 285.38,472.3 285.46,471.8 285.54,473 285.62,473.8 285.7,472.2 285.78,472.2 285.86,472.7 285.93,472.8 286.01,471.2 286.09,472.9 286.17,473.3 286.25,472.9 286.33,472.3 286.41,472.9 286.49,472.8 286.57,472.4 286.64,472.8 286.72,472.5 286.8,472.6 286.88,473.2 286.96,472.6 287.04,473.2 287.12,472.1 287.2,473.1 287.28,472.7 287.36,473.6 287.43,472.8 287.51,473.3 287.59,471.8 287.67,472.7 287.75,472.3 287.83,473.5 287.91,473.3 287.99,472.7 288.07,473.3 288.14,472 288.22,472.8 288.3,472.5 288.38,472.4 288.46,472.7 288.54,472.2 288.62,473 288.7,472.4 288.78,472 288.85,472.5 288.93,472.5 289.01,472.8 289.09,472.6 289.17,472.2 289.25,472.7 289.33,473.5 289.41,472.5 289.49,472.7 289.56,472.4 289.64,472.6 289.72,471.8 289.8,473.2 289.88,473.1 289.96,472.3 290.04,473.1 290.12,472.4 290.2,472.6 290.28,473.6 290.35,472.2 290.43,471.9 290.51,472.5 290.59,473.3 290.67,472.2 290.75,473.1 290.83,472.7 290.91,472.4 290.99,473 291.06,473.5 291.14,472.7 291.22,472.6 291.3,473 291.38,473 291.46,472.2 291.54,472.6 291.62,472.8 291.7,472.9 291.77,472.5 291.85,472.5 291.93,472.7 292.01,473.3 292.09,472.8 292.17,472.9 292.25,472.6 292.33,472 292.41,472.1 292.48,472.3 292.56,472.5 292.64,472.8 292.72,472.4 292.8,472.8 292.88,472.8 292.96,473 293.04,472.6 293.12,472.6 293.2,471.6 293.27,472.3 293.35,472.8 293.43,472.2 293.51,472.8 293.59,472.1 293.67,472.2 293.75,471.1 293.83,473.1 293.91,472.6 293.98,472.6 294.06,472.4 294.14,472.2 294.22,473.1 294.3,473 294.38,472.4 294.46,472.1 294.54,473.2 294.62,473.4 294.69,472 294.77,472.1 294.85,472 294.93,473.1 295.01,472.7 295.09,472.5 295.17,472.3 295.25,472.6 295.33,472.6 295.4,472 295.48,472.8 295.56,472.9 295.64,472.8 295.72,472.8 295.8,472.5 295.88,472.7 295.96,472.8 296.04,471.8 296.12,472.4 296.19,472.7 296.27,471.9 296.35,472.9 296.43,472.6 296.51,472.6 296.59,472.9 296.67,472.8 296.75,472.5 296.83,473.3 296.9,472.8 296.98,472.4 297.06,472.4 297.14,472.4 297.22,471.4 297.3,472.2 297.38,472.6 297.46,472.6 297.54,472.6 297.61,472.3 297.69,472.7 297.77,471.8 297.85,473.1 297.93,472.2 298.01,472.3 298.09,473.1 298.17,472.2 298.25,472.3 298.32,472.9 298.4,471.4 298.48,472.2 298.56,472.7 298.64,472.8 298.72,472.9 298.8,472.4 298.88,472.5 298.96,473.3 299.04,473.1 299.11,472.9 299.19,472.8 299.27,472.7 299.35,472.9 299.43,472.2 299.51,472.1 299.59,472.5 299.67,473.7 299.75,472.6 299.82,472.3 299.9,472.6 299.98,472.4 300.06,472.5 300.14,473.3 300.22,473.8 300.3,472.2 300.38,472.8 300.46,472.3 300.53,472.7 300.61,472.6 300.69,471.8 300.77,473.2 300.85,472.6 300.93,473.1 301.01,472.5 301.09,472.3 301.17,472.2 301.25,472.5 301.32,473.3 301.4,472.4 301.48,472.1 301.56,472 301.64,471.4 301.72,472.3 301.8,473.1 301.88,472.8 301.96,472.5 302.03,472 302.11,473.1 302.19,472.1 302.27,472.2 302.35,473 302.43,472.2 302.51,472.9 302.59,472.5 302.67,472.7 302.74,472.4 302.82,473.1 302.9,472.3 302.98,473.6 303.06,472.7 303.14,472.8 303.22,471.7 303.3,472.3 303.38,472.8 303.45,473 303.53,472.5 303.61,472.9 303.69,471.4 303.77,474 303.85,472.5 303.93,473.8 304.01,472 304.09,472.9 304.17,471.7 304.24,472.8 304.32,472 304.4,472.4 304.48,471.9 304.56,472.5 304.64,474 304.72,472.9 304.8,473.3 304.88,472 304.95,472.3 305.03,472.5 305.11,472.3 305.19,472.4 305.27,472.8 305.35,471.5 305.43,472.4 305.51,472.6 305.59,473.3 305.66,472.8 305.74,472.5 305.82,472.6 305.9,472.8 305.98,472.5 306.06,473.1 306.14,472.5 306.22,473.3 306.3,473 306.37,472.9 306.45,472.1 306.53,472.3 306.61,472.5 306.69,473.1 306.77,472.7 306.85,472.1 306.93,471.9 307.01,473.3 307.09,472.7 307.16,472.5 307.24,472.3 307.32,472.5 307.4,472.2 307.48,473.3 307.56,471.7 307.64,473.1 307.72,472.5 307.8,472.2 307.87,471.9 307.95,472 308.03,472.1 308.11,471.9 308.19,472.6 308.27,472.1 308.35,471.7 308.43,472.9 308.51,473.2 308.58,473 308.66,471.8 308.74,471.9 308.82,472.7 308.9,472.4 308.98,472.3 309.06,472 309.14,473.5 309.22,472.8 309.29,472.6 309.37,472.3 309.45,472.5 309.53,472.7 309.61,472.3 309.69,473.8 309.77,470.9 309.85,472.1 309.93,472 310.01,472.8 310.08,472.3 310.16,471.4 310.24,471.6 310.32,472.5 310.4,473.1 310.48,472.4 310.56,472.6 310.64,472.1 310.72,473.2 310.79,472.6 310.87,472.4 310.95,472.7 311.03,471.9 311.11,473.1 311.19,473.1 311.27,472.7 311.35,472.1 311.43,472.6 311.5,472.8 311.58,472.1 311.66,472.4 311.74,472.8 311.82,472.4 311.9,472.6 311.98,472.2 312.06,472.4 312.14,472.9 312.21,472.7 312.29,472.7 312.37,472.3 312.45,472.3 312.53,472.9 312.61,472.6 312.69,472.3 312.77,471.9 312.85,472.4 312.93,471.5 313,472.5 313.08,472.1 313.16,472.6 313.24,473 313.32,472.4 313.4,472.2 313.48,472.3 313.56,472.4 313.64,472.6 313.71,472.9 313.79,472.6 313.87,472.2 313.95,472 314.03,474.2 314.11,472.2 314.19,471.9 314.27,471.8 314.35,472.3 314.42,472.1 314.5,472.7 314.58,472.5 314.66,472.2 314.74,473 314.82,472.9 314.9,472.4 314.98,473.2 315.06,472.4 315.13,473.2 315.21,472.4 315.29,472.5 315.37,472.8 315.45,473 315.53,472.7 315.61,473.6 315.69,472.7 315.77,472.4 315.85,471.8 315.92,472.7 316,472.6 316.08,471.7 316.16,471.6 316.24,472.7 316.32,471.9 316.4,471.9 316.48,472.2 316.56,473 316.63,473 316.71,472.2 316.79,471.3 316.87,472.6 316.95,471.6 317.03,471.5 317.11,473.1 317.19,472.8 317.27,471.7 317.34,472 317.42,472.2 317.5,472.5 317.58,472.1 317.66,472.8 317.74,471.2 317.82,473.1 317.9,473.4 317.98,472.4 318.06,471.7 318.13,472.7 318.21,472.5 318.29,473 318.37,472.5 318.45,473 318.53,473 318.61,473.2 318.69,472.7 318.77,471.5 318.84,472.5 318.92,472.4 319,471.3 319.08,472.8 319.16,473 319.24,472.2 319.32,473.1 319.4,472.3 319.48,471.9 319.55,473 319.63,472.7 319.71,471.6 319.79,473 319.87,472.8 319.95,472.3 320.03,472.6 320.11,472.9 320.19,471.6 320.26,472.8 320.34,472.3 320.42,472.7 320.5,472.6 320.58,473.2 320.66,472 320.74,472.7 320.82,471.8 320.9,473.1 320.98,472.7 321.05,472.2 321.13,472.4 321.21,472.8 321.29,472.5 321.37,473.1 321.45,472.4 321.53,473.8 321.61,472.4 321.69,471.7 321.76,472 321.84,472 321.92,472.7 322,472.2 322.08,472.7 322.16,472.5 322.24,472.5 322.32,474.2 322.4,472 322.47,472.2 322.55,472 322.63,472.9 322.71,472.1 322.79,472.2 322.87,473.6 322.95,473.4 323.03,472.4 323.11,472.8 323.18,472.4 323.26,472.8 323.34,471.7 323.42,473.4 323.5,473.2 323.58,472.9 323.66,473.2 323.74,472.7 323.82,472.5 323.9,473.1 323.97,472.2 324.05,471.7 324.13,471.9 324.21,471.4 324.29,471.8 324.37,472.4 324.45,471.5 324.53,472.1 324.61,471.5 324.68,472.5 324.76,473.5 324.84,473 324.92,472.3 325,472.1 325.08,472.5 325.16,471.9 325.24,473 325.32,472.8 325.39,471.9 325.47,472.4 325.55,472.4 325.63,471.7 325.71,471.8 325.79,472.8 325.87,472.3 325.95,473.3 326.03,472.4 326.1,472.2 326.18,473.3 326.26,471.6 326.34,471.4 326.42,472.2 326.5,471.9 326.58,471.6 326.66,472.5 326.74,471.9 326.82,472.2 326.89,473.2 326.97,472.9 327.05,472.7 327.13,471.9 327.21,472.4 327.29,471.9 327.37,472.7 327.45,473.1 327.53,471.3 327.6,471 327.68,472.2 327.76,472.5 327.84,471.8 327.92,473 328,472.5 328.08,473.2 328.16,472.2 328.24,472.3 328.31,472.6 328.39,472.7 328.47,473.2 328.55,472.8 328.63,471.8 328.71,472.6 328.79,471.7 328.87,472.9 328.95,472.4 329.02,472.6 329.1,472.5 329.18,472 329.26,473.5 329.34,472 329.42,472 329.5,472.4 329.58,472.4 329.66,472.5 329.74,472 329.81,472.4 329.89,472.8 329.97,472.3 330.05,471.9 330.13,472.2 330.21,472.4 330.29,472.3 330.37,472.7 330.45,472.6 330.52,473.4 330.6,472.5 330.68,471.9 330.76,472.6 330.84,472.9 330.92,471.9 331,472.3 331.08,472.3 331.16,472.2 331.23,472 331.31,472.4 331.39,472.8 331.47,471.5 331.55,472.4 331.63,472.8 331.71,472.3 331.79,471.8 331.87,473.1 331.94,471.7 332.02,472.5 332.1,471.4 332.18,472 332.26,472.4 332.34,471.7 332.42,471.7 332.5,472.6 332.58,472.3 332.66,472.7 332.73,471.9 332.81,473.1 332.89,472.5 332.97,473.5 333.05,472.1 333.13,473.6 333.21,472.9 333.29,472.3 333.37,472.6 333.44,472.6 333.52,472.9 333.6,472.6 333.68,473.3 333.76,472.2 333.84,472 333.92,472 334,472.4 334.08,471.7 334.15,472.1 334.23,471.9 334.31,472.2 334.39,472.4 334.47,472.8 334.55,473.8 334.63,472 334.71,472.4 334.79,471.3 334.86,473.4 334.94,471.9 335.02,472.9 335.1,472.4 335.18,472.8 335.26,472.2 335.34,472.4 335.42,471.9 335.5,472.3 335.58,472.1 335.65,471.7 335.73,472.1 335.81,472.4 335.89,471.7 335.97,472.4 336.05,472.2 336.13,472.5 336.21,472.7 336.29,473.9 336.36,472 336.44,473 336.52,472 336.6,471.4 336.68,473.1 336.76,471.9 336.84,472.4 336.92,472.1 337,473 337.07,472.4 337.15,472.3 337.23,471.6 337.31,471.3 337.39,472.2 337.47,472.6 337.55,471.2 337.63,472.4 337.71,472.4 337.78,472.3 337.86,472.1 337.94,472 338.02,472.7 338.1,472.4 338.18,471.4 338.26,471.5 338.34,472.1 338.42,472.2 338.5,472.5 338.57,471.8 338.65,472.6 338.73,472.3 338.81,472.6 338.89,472.7 338.97,472.3 339.05,472.4 339.13,472.7 339.21,472.4 339.28,472.3 339.36,472.6 339.44,472.7 339.52,472.4 339.6,472 339.68,471.8 339.76,472.3 339.84,472.5 339.92,472.4 339.99,471.4 340.07,471.9 340.15,472.9 340.23,472.4 340.31,472.6 340.39,472.5 340.47,473.2 340.55,472.3 340.63,473.1 340.71,472.7 340.78,471.6 340.86,471.8 340.94,472.8 341.02,472.9 341.1,472.8 341.18,473.3 341.26,472.9 341.34,472.5 341.42,472.9 341.49,472 341.57,472.4 341.65,472.6 341.73,471.4 341.81,472 341.89,472.3 341.97,471.4 342.05,471.7 342.13,472.7 342.2,472.2 342.28,472.6 342.36,473.1 342.44,471.4 342.52,471.6 342.6,473 342.68,472.1 342.76,473.2 342.84,471.8 342.91,472.4 342.99,472.5 343.07,471.7 343.15,472.3 343.23,472.5 343.31,471.9 343.39,472.5 343.47,471.9 343.55,472.3 343.63,471.9 343.7,472 343.78,471.9 343.86,472.9 343.94,471.4 344.02,472.4 344.1,471.4 344.18,472.7 344.26,472.5 344.34,472.5 344.41,471.7 344.49,472.6 344.57,472.1 344.65,473.2 344.73,472.6 344.81,472.2 344.89,472.4 344.97,473.3 345.05,472.1 345.12,472.8 345.2,471.3 345.28,472.4 345.36,471.1 345.44,472 345.52,472.1 345.6,472.6 345.68,472.4 345.76,472.1 345.83,473.4 345.91,471.8 345.99,473 346.07,472.5 346.15,473.8 346.23,472.1 346.31,471.9 346.39,472.2 346.47,472.2 346.55,472.5 346.62,472.3 346.7,471.7 346.78,472.6 346.86,472.1 346.94,471.9 347.02,472.5 347.1,472.2 347.18,472.2 347.26,472.6 347.33,471 347.41,472.6 347.49,471.4 347.57,471.8 347.65,473.4 347.73,472.2 347.81,471.8 347.89,471.9 347.97,472.8 348.04,472.2 348.12,473 348.2,472.9 348.28,472.5 348.36,472.2 348.44,471.5 348.52,472.1 348.6,471.8 348.68,473 348.75,472.9 348.83,472.6 348.91,471.4 348.99,473 349.07,473.2 349.15,472.4 349.23,471.7 349.31,473.2 349.39,472.5 349.47,473 349.54,471.6 349.62,472 349.7,472.2 349.78,472.3 349.86,472.4 349.94,472.2 350.02,472.7 350.1,472.8 350.18,472.9 350.25,472.3 350.33,472.7 350.41,471.9 350.49,473.4 350.57,472 350.65,472 350.73,471.7 350.81,472.5 350.89,473.1 350.96,472.8 351.04,471.7 351.12,472.5 351.2,472.5 351.28,472.6 351.36,472.4 351.44,472.4 351.52,473.2 351.6,472.6 351.67,471.8 351.75,471.5 351.83,472.4 351.91,472.6 351.99,471.6 352.07,472.4 352.15,472.9 352.23,472.4 352.31,471.9 352.39,471.5 352.46,472.6 352.54,472 352.62,472.5 352.7,471.7 352.78,472.2 352.86,472.2 352.94,472.8 353.02,472.5 353.1,472.5 353.17,474.2 353.25,471.9 353.33,472.3 353.41,472.4 353.49,472.5 353.57,472.3 353.65,472.2 353.73,473 353.81,472.2 353.88,472.3 353.96,472.3 354.04,473.1 354.12,472.4 354.2,473 354.28,472.1 354.36,471.6 354.44,471.8 354.52,472.5 354.59,472.6 354.67,472.6 354.75,472.1 354.83,472.7 354.91,472.6 354.99,473.6 355.07,472.8 355.15,472.7 355.23,472.6 355.31,471.7 355.38,473 355.46,473 355.54,472 355.62,472.8 355.7,472.4 355.78,472.2 355.86,472.3 355.94,472.7 356.02,471.8 356.09,471.5 356.17,472.8 356.25,472.5 356.33,471.8 356.41,472.4 356.49,472.8 356.57,472.5 356.65,471.9 356.73,472.8 356.8,472.2 356.88,472.1 356.96,472.7 357.04,472 357.12,471.9 357.2,471.8 357.28,471.8 357.36,473.1 357.44,471.8 357.51,472 357.59,471.8 357.67,472.8 357.75,471.8 357.83,472.1 357.91,472.9 357.99,471.6 358.07,472.7 358.15,472.8 358.23,472.1 358.3,472.6 358.38,472.1 358.46,472.4 358.54,472.1 358.62,471.9 358.7,472.3 358.78,471.8 358.86,471.8 358.94,472.7 359.01,471.8 359.09,472 359.17,472.2 359.25,471.7 359.33,471.4 359.41,471.9 359.49,473.1 359.57,472.1 359.65,472.4 359.72,472.4 359.8,472.1 359.88,472.5 359.96,471.4 360.04,472.1 360.12,472.3 360.2,471.9 360.28,471.9 360.36,471.7 360.44,471.9 360.51,472.3 360.59,472.2 360.67,473.4 360.75,473.1 360.83,471.7 360.91,472.5 360.99,471.3 361.07,471.3 361.15,473 361.22,472.1 361.3,470.7 361.38,472.7 361.46,472.1 361.54,472.4 361.62,472.4 361.7,472.4 361.78,472.3 361.86,471.9 361.93,472.7 362.01,472 362.09,472.7 362.17,472 362.25,472.1 362.33,472.7 362.41,472.2 362.49,472.7 362.57,472.7 362.64,471.7 362.72,473.3 362.8,472 362.88,471.9 362.96,472.6 363.04,471.7 363.12,471.8 363.2,473 363.28,472 363.36,472 363.43,472.7 363.51,472 363.59,471.9 363.67,472.7 363.75,473.3 363.83,472.1 363.91,472.7 363.99,473.2 364.07,472.5 364.14,473.5 364.22,472.5 364.3,471.5 364.38,473.8 364.46,472 364.54,472.8 364.62,472.5 364.7,472.8 364.78,471.9 364.85,472.3 364.93,472.7 365.01,473 365.09,472.5 365.17,471.7 365.25,472.9 365.33,472 365.41,472.1 365.49,473.3 365.56,471.7 365.64,472.3 365.72,471.1 365.8,471.3 365.88,472.4 365.96,472.4 366.04,472.8 366.12,473 366.2,471.8 366.28,472.4 366.35,472.5 366.43,472.4 366.51,471.9 366.59,471.8 366.67,472.3 366.75,472.4 366.83,472.2 366.91,471.2 366.99,473.4 367.06,472.9 367.14,472 367.22,472.2 367.3,471.6 367.38,471.6 367.46,471.2 367.54,472.7 367.62,471.9 367.7,472.4 367.77,471.7 367.85,472.2 367.93,471.8 368.01,472.7 368.09,472.2 368.17,472.5 368.25,472.4 368.33,472.5 368.41,472.8 368.48,471.7 368.56,472.1 368.64,471.7 368.72,472.8 368.8,473.3 368.88,472.6 368.96,472.3 369.04,471.8 369.12,471.7 369.2,471.6 369.27,471.4 369.35,471.9 369.43,472.2 369.51,472.7 369.59,471.9 369.67,472.5 369.75,472.7 369.83,471.9 369.91,472.1 369.98,471.8 370.06,472.6 370.14,471.6 370.22,472.1 370.3,472.3 370.38,472.7 370.46,472.8 370.54,473 370.62,471.5 370.69,473 370.77,471.9 370.85,472.4 370.93,472.6 371.01,472.5 371.09,472.3 371.17,471.8 371.25,471.9 371.33,472.2 371.4,473 371.48,473.2 371.56,471.2 371.64,472.8 371.72,473.1 371.8,471.6 371.88,473.1 371.96,471.8 372.04,471.7 372.12,472.1 372.19,471.7 372.27,473 372.35,472.9 372.43,472.3 372.51,472.2 372.59,472.3 372.67,472 372.75,472.6 372.83,473.4 372.9,472 372.98,472.4 373.06,471.8 373.14,471.1 373.22,472.2 373.3,471.9 373.38,472.7 373.46,471.7 373.54,472.1 373.61,472.1 373.69,471.7 373.77,472.9 373.85,471.9 373.93,472 374.01,471.4 374.09,473.2 374.17,472.3 374.25,471 374.32,472.5 374.4,472.5 374.48,471.3 374.56,470.9 374.64,472.2 374.72,472.6 374.8,472.6 374.88,472.5 374.96,472.7 375.04,472.7 375.11,472.1 375.19,472.2 375.27,472 375.35,472.2 375.43,472.9 375.51,471.8 375.59,472.1 375.67,472.6 375.75,472.4 375.82,472.1 375.9,472.2 375.98,472.3 376.06,471.8 376.14,471.7 376.22,472.4 376.3,472.2 376.38,472.8 376.46,472.3 376.53,472 376.61,471.8 376.69,472.1 376.77,472.3 376.85,472.6 376.93,472.1 377.01,472.8 377.09,472.2 377.17,472.2 377.25,472.7 377.32,472.1 377.4,472.3 377.48,471.9 377.56,472.5 377.64,472 377.72,471.4 377.8,472.1 377.88,471.8 377.96,472.6 378.03,472.4 378.11,473.3 378.19,472.3 378.27,472.8 378.35,472.2 378.43,473.3 378.51,472.7 378.59,472.2 378.67,472 378.74,473.1 378.82,472.5 378.9,470.8 378.98,471.8 379.06,472.1 379.14,473.7 379.22,472.7 379.3,471.9 379.38,472.1 379.45,472 379.53,471.7 379.61,472.2 379.69,471.8 379.77,473.2 379.85,470.9 379.93,472.4 380.01,472.6 380.09,471.4 380.17,471.9 380.24,471.7 380.32,472.6 380.4,472.1 380.48,471.8 380.56,472.8 380.64,472.3 380.72,472.4 380.8,472.4 380.88,472.6 380.95,472.9 381.03,472 381.11,472.1 381.19,471.6 381.27,472.3 381.35,472.6 381.43,473 381.51,472.2 381.59,472.4 381.66,471.1 381.74,471 381.82,471.4 381.9,472.7 381.98,473 382.06,472.3 382.14,472.7 382.22,471.5 382.3,472.2 382.37,472.4 382.45,472.2 382.53,471.5 382.61,472.7 382.69,472 382.77,472.9 382.85,472.3 382.93,472.6 383.01,472 383.09,472.1 383.16,471.6 383.24,471.8 383.32,472.5 383.4,472.9 383.48,472.7 383.56,472.4 383.64,472.3 383.72,472.6 383.8,471.6 383.87,471.7 383.95,472.4 384.03,472.5 384.11,472.3 384.19,472.2 384.27,472.2 384.35,473.1 384.43,472.4 384.51,473.2 384.58,472.2 384.66,471.8 384.74,472.8 384.82,472.1 384.9,472.5 384.98,472.6 385.06,471.2 385.14,471.7 385.22,472 385.29,472.4 385.37,472 385.45,472.3 385.53,472 385.61,472.7 385.69,472.3 385.77,472.4 385.85,473 385.93,471.3 386.01,471.8 386.08,472.6 386.16,473 386.24,472.6 386.32,472.7 386.4,472.5 386.48,473 386.56,472.7 386.64,472.2 386.72,472 386.79,473.3 386.87,472.2 386.95,472.7 387.03,472.8 387.11,472.4 387.19,472.6 387.27,471.8 387.35,471.8 387.43,472.4 387.5,472.6 387.58,471.2 387.66,471.2 387.74,472 387.82,472.3 387.9,471.7 387.98,471.4 388.06,472.5 388.14,471.2 388.21,472.3 388.29,471.6 388.37,472.5 388.45,472.2 388.53,472.5 388.61,472.2 388.69,471.7 388.77,472.7 388.85,472.4 388.93,471.9 389,472.5 389.08,471.1 389.16,473 389.24,470.8 389.32,472.6 389.4,471.7 389.48,471.3 389.56,471.9 389.64,473 389.71,472.4 389.79,472.2 389.87,471.9 389.95,471.7 390.03,471.6 390.11,471.4 390.19,472.7 390.27,471.7 390.35,473.2 390.42,472.1 390.5,472.8 390.58,473.2 390.66,471.7 390.74,472.2 390.82,471.7 390.9,473.1 390.98,472.9 391.06,472.3 391.13,472.6 391.21,472.2 391.29,472.5 391.37,472.4 391.45,472.8 391.53,471.5 391.61,472.4 391.69,472.8 391.77,471.8 391.85,471.9 391.92,472.1 392,472.1 392.08,472.4 392.16,472.3 392.24,473.4 392.32,473.1 392.4,472.9 392.48,472 392.56,471.5 392.63,472.3 392.71,472.3 392.79,471.6 392.87,472.4 392.95,471.8 393.03,472 393.11,472.9 393.19,472 393.27,472.1 393.34,472.8 393.42,472.8 393.5,472.9 393.58,471.4 393.66,471 393.74,471.8 393.82,471.3 393.9,472.9 393.98,471.4 394.05,471.1 394.13,471.3 394.21,472.7 394.29,471.6 394.37,472.3 394.45,471.6 394.53,472.5 394.61,472.2 394.69,472.5 394.77,471.9 394.84,472.2 394.92,471.6 395,471.7 395.08,472 395.16,472.2 395.24,472.4 395.32,472.2 395.4,471.8 395.48,472.1 395.55,472 395.63,472.2 395.71,472.2 395.79,472.6 395.87,473.2 395.95,471.9 396.03,471.9 396.11,472.7 396.19,471.1 396.26,472.8 396.34,471.6 396.42,472 396.5,472 396.58,471.6 396.66,471.7 396.74,472.2 396.82,472.8 396.9,472.9 396.97,472.1 397.05,471.3 397.13,471.7 397.21,472.2 397.29,472 397.37,471.8 397.45,471.2 397.53,472.6 397.61,471.8 397.69,472 397.76,472.6 397.84,472.7 397.92,471.5 398,472 398.08,472.3 398.16,472.1 398.24,471.6 398.32,472.1 398.4,471.3 398.47,472.3 398.55,472.6 398.63,472.2 398.71,472.7 398.79,472.4 398.87,471.5 398.95,471.2 399.03,471.8 399.11,472.1 399.18,472.7 399.26,472.7 399.34,472 399.42,472.1 399.5,472.5 399.58,472.4 399.66,471.3 399.74,471.6 399.82,472.1 399.9,472 399.97,471.5 400.05,472 400.13,472 400.21,473 400.29,473.1 400.37,473.2 400.45,473.4 400.53,472.2 400.61,472 400.68,472.7 400.76,471.9 400.84,471.9 400.92,472.2 401,473 401.08,471.4 401.16,471.4 401.24,472.5 401.32,471.1 401.39,472.1 401.47,472.6 401.55,472.4 401.63,473.2 401.71,472.4 401.79,473.1 401.87,471.5 401.95,472 402.03,472.9 402.1,471.9 402.18,473.1 402.26,472.1 402.34,471.9 402.42,472.1 402.5,472.8 402.58,472.2 402.66,472.3 402.74,472.1 402.82,471.3 402.89,471.2 402.97,471.3 403.05,472.5 403.13,472.6 403.21,472.2 403.29,471.9 403.37,473.3 403.45,472.5 403.53,471.2 403.6,472.9 403.68,472.6 403.76,472.6 403.84,471.9 403.92,472.2 404,472.3 404.08,473 404.16,471.8 404.24,472.2 404.31,472.5 404.39,472.2 404.47,471.7 404.55,473 404.63,473 404.71,472.7 404.79,472.7 404.87,473.9 404.95,472.5 405.02,471.5 405.1,472.3 405.18,471.6 405.26,473.8 405.34,472.2 405.42,471.4 405.5,471.3 405.58,472.4 405.66,472.6 405.74,471.9 405.81,472.8 405.89,472.4 405.97,473.1 406.05,472.1 406.13,472.2 406.21,471.3 406.29,472 406.37,472.5 406.45,472.2 406.52,472.9 406.6,472.1 406.68,472.3 406.76,471.9 406.84,471.6 406.92,473.3 407,472 407.08,471.8 407.16,472.8 407.23,471.1 407.31,472.6 407.39,470.8 407.47,471.7 407.55,471.6 407.63,472 407.71,471.6 407.79,472.7 407.87,472.6 407.94,473.3 408.02,471.9 408.1,472.6 408.18,471.7 408.26,471.8 408.34,472.9 408.42,471.8 408.5,472 408.58,472 408.66,471.9 408.73,472.2 408.81,472.2 408.89,471.6 408.97,472.7 409.05,472.8 409.13,472.6 409.21,471.6 409.29,472.3 409.37,471.1 409.44,473.9 409.52,472.6 409.6,472.4 409.68,472 409.76,471.4 409.84,472.3 409.92,472.7 410,471.7 410.08,471.3 410.15,473.6 410.23,471.8 410.31,472 410.39,472.6 410.47,472.4 410.55,472 410.63,472.1 410.71,472.3 410.79,472.8 410.86,472 410.94,472.5 411.02,472.1 411.1,472.5 411.18,472 411.26,471.7 411.34,472 411.42,471.8 411.5,472.9 411.58,471.9 411.65,472 411.73,472.5 411.81,472.2 411.89,473.7 411.97,472.1 412.05,472.4 412.13,473.4 412.21,471.9 412.29,472.5 412.36,472 412.44,472.3 412.52,471.9 412.6,472.1 412.68,472.3 412.76,471.9 412.84,471.7 412.92,473.4 413,472.1 413.07,472.5 413.15,472.8 413.23,471.4 413.31,471.6 413.39,472.7 413.47,472.8 413.55,471.7 413.63,472.5 413.71,472.3 413.78,473.2 413.86,472.2 413.94,471.5 414.02,472.4 414.1,472.2 414.18,471.2 414.26,471.7 414.34,471.4 414.42,471.8 414.5,471.5 414.57,473.1 414.65,472.6 414.73,473.1 414.81,470.9 414.89,472 414.97,472.2 415.05,472.6 415.13,472.7 415.21,473.7 415.28,470.9 415.36,472.2 415.44,472.1 415.52,472.9 415.6,472.2 415.68,471.9 415.76,472.2 415.84,471.8 415.92,472.6 415.99,472 416.07,471.6 416.15,471.8 416.23,471.9 416.31,472.2 416.39,472.7 416.47,471.8 416.55,472.4 416.63,472.7 416.7,471.7 416.78,473 416.86,472.5 416.94,471.7 417.02,471.6 417.1,472.4 417.18,472.1 417.26,471.8 417.34,472.2 417.42,472.6 417.49,471.9 417.57,472.1 417.65,472.1 417.73,471.5 417.81,472 417.89,472.4 417.97,472.1 418.05,471.1 418.13,472.5 418.2,472.3 418.28,472.6 418.36,471.9 418.44,472.8 418.52,471.9 418.6,471.7 418.68,472.6 418.76,472.6 418.84,473 418.91,472.1 418.99,472.8 419.07,472.5 419.15,472.4 419.23,472.5 419.31,471.7 419.39,471.3 419.47,473.3 419.55,472.6 419.63,472 419.7,472.7 419.78,472.4 419.86,472 419.94,471.4 420.02,471.5 420.1,472.3 420.18,472.1 420.26,472.3 420.34,472.2 420.41,472.8 420.49,473.1 420.57,472.3 420.65,471.6 420.73,471.7 420.81,473.2 420.89,472.2 420.97,472.5 421.05,472 421.12,472.7 421.2,471.6 421.28,472.2 421.36,471.8 421.44,471.6 421.52,473.2 421.6,472.3 421.68,471.3 421.76,472.1 421.83,471.6 421.91,471.9 421.99,472.4 422.07,472 422.15,471.5 422.23,471.4 422.31,471.3 422.39,472.7 422.47,471.7 422.55,472.9 422.62,472.2 422.7,472.2 422.78,471.8 422.86,472 422.94,471.4 423.02,472.5 423.1,471.7 423.18,471.9 423.26,472.1 423.33,472.8 423.41,471.8 423.49,472 423.57,471.7 423.65,472.2 423.73,472.3 423.81,471.9 423.89,471.9 423.97,471.7 424.04,471.1 424.12,472.5 424.2,471 424.28,473.8 424.36,471.6 424.44,472.6 424.52,471 424.6,472.6 424.68,471.5 424.75,472.7 424.83,472.8 424.91,471.7 424.99,471.6 425.07,472.5 425.15,470.8 425.23,472.3 425.31,471.3 425.39,472.7 425.47,472.7 425.54,472.1 425.62,472.7 425.7,471.9 425.78,473.3 425.86,472 425.94,472.4 426.02,472.7 426.1,472 426.18,472.2 426.25,472.4 426.33,471.7 426.41,472 426.49,471.9 426.57,471.4 426.65,472.2 426.73,471.7 426.81,472.4 426.89,471.8 426.96,471.8 427.04,472.4 427.12,473 427.2,472.8 427.28,472.6 427.36,471.8 427.44,472.2 427.52,472.3 427.6,471.9 427.67,471.7 427.75,471.3 427.83,472.5 427.91,471.8 427.99,471.7 428.07,472.6 428.15,472.1 428.23,472.6 428.31,472.2 428.39,471.9 428.46,473.1 428.54,472.6 428.62,472.6 428.7,472.1 428.78,472.5 428.86,471.9 428.94,472.6 429.02,472.4 429.1,471.8 429.17,471.9 429.25,472 429.33,472.1 429.41,471.6 429.49,471.4 429.57,472.3 429.65,472.5 429.73,472.7 429.81,471.2 429.88,472.6 429.96,472.9 430.04,472 430.12,471.5 430.2,472.8 430.28,472.2 430.36,472.9 430.44,472.5 430.52,471.2 430.59,472 430.67,472.3 430.75,472.1 430.83,472 430.91,472.2 430.99,472.8 431.07,472.8 431.15,471 431.23,472.5 431.31,471.5 431.38,472.5 431.46,471.4 431.54,471.7 431.62,472.2 431.7,471 431.78,472.6 431.86,472.2 431.94,472.6 432.02,472.5 432.09,472.3 432.17,472.6 432.25,472.3 432.33,471.2 432.41,473.1 432.49,472.8 432.57,472.6 432.65,472.4 432.73,471.6 432.8,471.7 432.88,471.8 432.96,472 433.04,470.8 433.12,472.7 433.2,472.8 433.28,472.1 433.36,472 433.44,472.2 433.51,472.6 433.59,472.8 433.67,472.3 433.75,472.5 433.83,472.4 433.91,472.7 433.99,471.4 434.07,471.9 434.15,471.1 434.23,472.4 434.3,472.1 434.38,472.2 434.46,472.1 434.54,472.3 434.62,472.2 434.7,473.2 434.78,472.3 434.86,471.7 434.94,473.2 435.01,472.3 435.09,471.8 435.17,471.4 435.25,472.2 435.33,471.9 435.41,471.1 435.49,471.4 435.57,472.4 435.65,472.4 435.72,471.5 435.8,472 435.88,472.4 435.96,472.2 436.04,471.9 436.12,472.2 436.2,472.2 436.28,472.2 436.36,472.9 436.44,471.1 436.51,471.4 436.59,471.3 436.67,472.2 436.75,472 436.83,471.8 436.91,471.7 436.99,473.1 437.07,471.9 437.15,472.7 437.22,472.1 437.3,472.5 437.38,471.2 437.46,471.8 437.54,472.1 437.62,471.3 437.7,472.1 437.78,472.5 437.86,472.2 437.93,472.3 438.01,472.1 438.09,471.6 438.17,472.2 438.25,472.1 438.33,471.5 438.41,471.9 438.49,471.6 438.57,472 438.64,472.8 438.72,472.7 438.8,473 438.88,471.5 438.96,471.9 439.04,472.4 439.12,472.7 439.2,471.9 439.28,472.2 439.36,471.9 439.43,472.6 439.51,472.7 439.59,471.2 439.67,472.6 439.75,472.1 439.83,471.4 439.91,473.1 439.99,471.7 440.07,472.1 440.14,472.2 440.22,472 440.3,472.8 440.38,473.3 440.46,471.1 440.54,472.3 440.62,471.6 440.7,471.5 440.78,471.9 440.85,471.8 440.93,471.7 441.01,471.2 441.09,471.8 441.17,471.4 441.25,472.3 441.33,472.3 441.41,472.1 441.49,471.9 441.56,471.8 441.64,471 441.72,471.6 441.8,472.1 441.88,471 441.96,471.9 442.04,471.9 442.12,471.8 442.2,472.3 442.28,472.7 442.35,472 442.43,472.3 442.51,472.6 442.59,472 442.67,472.2 442.75,472.4 442.83,473.1 442.91,472.2 442.99,471.1 443.06,471.6 443.14,471.5 443.22,472.1 443.3,471.5 443.38,472.5 443.46,472.4 443.54,471.8 443.62,472.9 443.7,472.1 443.77,471.9 443.85,471.2 443.93,472.5 444.01,471.9 444.09,472.5 444.17,472.4 444.25,473.6 444.33,472.6 444.41,471.5 444.48,471.8 444.56,472 444.64,470.7 444.72,471.8 444.8,472.8 444.88,472.2 444.96,472.1 445.04,471.2 445.12,472.6 445.2,471.9 445.27,471.6 445.35,472.5 445.43,472 445.51,473.2 445.59,472 445.67,473.3 445.75,472.3 445.83,471.1 445.91,471.9 445.98,472.1 446.06,472 446.14,470.9 446.22,471.8" fill="none" stroke="#1f77b4" stroke-width="1.6" stroke-linejoin="round" stroke-linecap="butt"/>
<polyline points="51.7,441 51.78,441.1 51.86,442.2 51.94,443.4 52.02,444.2 52.09,445.2 52.17,445.8 52.25,446.6 52.33,447.5 52.41,448.2 52.49,449.2 52.57,449.4 52.65,449.8 52.73,450.2 52.8,451.3 52.88,451.6 52.96,451.5 53.04,452.1 53.12,452.3 53.2,452.7 53.28,452.8 53.36,453.5 53.44,453.5 53.52,453.4 53.59,453.8 53.67,454.2 53.75,454.2 53.83,454.4 53.91,454.8 53.99,454.6 54.07,454.8 54.15,455.1 54.23,455 54.3,455.5 54.38,455.3 54.46,455.6 54.54,455.8 54.62,455.9 54.7,455.6 54.78,456.1 54.86,456.1 54.94,456.2 55.01,456.4 55.09,456.1 55.17,455.8 55.25,456.1 55.33,456.4 55.41,456.4 55.49,456.7 55.57,456.8 55.65,457 55.72,456.5 55.8,456.9 55.88,457.1 55.96,457.1 56.04,457 56.12,457.2 56.2,457.1 56.28,457.1 56.36,456.9 56.44,457.6 56.51,457.2 56.59,457.5 56.67,457.5 56.75,457.1 56.83,457.3 56.91,457.6 56.99,457.5 57.07,457.6 57.15,457.4 57.22,457.8 57.3,457.6 57.38,457.8 57.46,457.8 57.54,457.9 57.62,458.1 57.7,457.9 57.78,457.8 57.86,458.2 57.93,458.2 58.01,458 58.09,458.3 58.17,458 58.25,458.1 58.33,458.9 58.41,458.5 58.49,458.6 58.57,458.2 58.64,458.2 58.72,458.8 58.8,458.7 58.88,458.6 58.96,458.7 59.04,458.4 59.12,458.4 59.2,458.5 59.28,458.4 59.36,458.5 59.43,458.8 59.51,459 59.59,459.1 59.67,458.7 59.75,458.7 59.83,458.7 59.91,459.1 59.99,459.2 60.07,459 60.14,458.8 60.22,459.1 60.3,459.1 60.38,459.5 60.46,459.1 60.54,459.2 60.62,459.6 60.7,458.9 60.78,459.7 60.85,459.2 60.93,459.5 61.01,459.5 61.09,459.8 61.17,459.7 61.25,459.4 61.33,459.7 61.41,459.8 61.49,459.5 61.57,459.6 61.64,459.7 61.72,459.8 61.8,459.4 61.88,459.9 61.96,459.8 62.04,459.8 62.12,460.4 62.2,460.6 62.28,460 62.35,459.8 62.43,460.1 62.51,460.3 62.59,460.4 62.67,460 62.75,460.3 62.83,460.7 62.91,460.1 62.99,460.3 63.06,460.3 63.14,460.1 63.22,460.1 63.3,460.3 63.38,460.6 63.46,461.2 63.54,460.5 63.62,460.7 63.7,460.3 63.77,460.3 63.85,460.6 63.93,460.4 64.01,460.8 64.09,460.8 64.17,461.1 64.25,461 64.33,460.8 64.41,460.6 64.49,461.2 64.56,460.8 64.64,460.4 64.72,461.5 64.8,461.2 64.88,461.1 64.96,460.9 65.04,460.6 65.12,460.9 65.2,461.3 65.27,461.5 65.35,461.3 65.43,461.4 65.51,461.3 65.59,461.7 65.67,461 65.75,461.7 65.83,461.3 65.91,461.5 65.98,461.9 66.06,461.6 66.14,461.6 66.22,461.7 66.3,461.4 66.38,461.8 66.46,461 66.54,461.4 66.62,462.1 66.69,462.6 66.77,461.5 66.85,461.8 66.93,461.9 67.01,462.2 67.09,462.4 67.17,462.6 67.25,461.3 67.33,461.6 67.41,462.3 67.48,461.6 67.56,462.7 67.64,462 67.72,462 67.8,462.5 67.88,462.4 67.96,462.6 68.04,462.3 68.12,462 68.19,462.1 68.27,462.3 68.35,462.1 68.43,463 68.51,461.9 68.59,462.5 68.67,462.9 68.75,462.7 68.83,462.8 68.9,462.6 68.98,462.6 69.06,463.4 69.14,462.3 69.22,462.2 69.3,463.1 69.38,462.4 69.46,462.4 69.54,462.5 69.61,462.4 69.69,463.3 69.77,462.7 69.85,463.3 69.93,462.3 70.01,463.3 70.09,463.4 70.17,462.7 70.25,462.9 70.33,463.1 70.4,463.1 70.48,463 70.56,462.7 70.64,463.5 70.72,463.4 70.8,463.5 70.88,463.3 70.96,463.3 71.04,463.8 71.11,463.3 71.19,463.8 71.27,463.5 71.35,463.5 71.43,463.6 71.51,463.1 71.59,463 71.67,463.2 71.75,463.1 71.82,463.7 71.9,463.2 71.98,463.7 72.06,463.6 72.14,463.6 72.22,464.2 72.3,464 72.38,463.9 72.46,463.7 72.53,463.9 72.61,464.1 72.69,464.3 72.77,463.9 72.85,464.3 72.93,464.3 73.01,464 73.09,464 73.17,464.3 73.25,464.6 73.32,464 73.4,463.9 73.48,464.3 73.56,464.3 73.64,464.9 73.72,463.9 73.8,464.6 73.88,464.1 73.96,464.5 74.03,464.4 74.11,464.4 74.19,464.9 74.27,463.5 74.35,464.9 74.43,464.4 74.51,464.7 74.59,464.6 74.67,464.1 74.74,465.1 74.82,464.6 74.9,464.4 74.98,464.6 75.06,464.5 75.14,464.9 75.22,465.2 75.3,465.1 75.38,464.9 75.45,464.5 75.53,464.7 75.61,464.3 75.69,464.8 75.77,464.8 75.85,464.8 75.93,465.4 76.01,464.7 76.09,465.3 76.17,465.1 76.24,464.3 76.32,465.4 76.4,465 76.48,465 76.56,465 76.64,465.1 76.72,465.3 76.8,464.5 76.88,465.8 76.95,465.5 77.03,464.7 77.11,465.1 77.19,465.5 77.27,465.6 77.35,465.4 77.43,464.5 77.51,465.2 77.59,465.7 77.66,465.3 77.74,465.6 77.82,465 77.9,465.4 77.98,465.1 78.06,465.4 78.14,464.9 78.22,465.4 78.3,465.5 78.37,465.9 78.45,465.7 78.53,465.5 78.61,465.8 78.69,464.9 78.77,465.7 78.85,465.9 78.93,465.4 79.01,465.9 79.09,465.6 79.16,465.8 79.24,466 79.32,465.4 79.4,465.8 79.48,465.5 79.56,466 79.64,466.4 79.72,466.3 79.8,466.1 79.87,466 79.95,466 80.03,465.9 80.11,466.4 80.19,466 80.27,466.5 80.35,466.3 80.43,465.3 80.51,465.7 80.58,466.3 80.66,465.6 80.74,465.8 80.82,465.9 80.9,465.8 80.98,466.3 81.06,466.3 81.14,466.6 81.22,466.1 81.3,466.7 81.37,466.5 81.45,466.2 81.53,466.6 81.61,466.3 81.69,465.9 81.77,466.8 81.85,466 81.93,466.7 82.01,466.8 82.08,466.5 82.16,466.2 82.24,466.8 82.32,466.8 82.4,466.7 82.48,466.9 82.56,466.6 82.64,466.9 82.72,466.8 82.79,466.6 82.87,466.9 82.95,466.4 83.03,467 83.11,467 83.19,466.2 83.27,466.3 83.35,466.8 83.43,466.6 83.5,466.8 83.58,467.1 83.66,466.7 83.74,466.8 83.82,466.5 83.9,467.5 83.98,466.7 84.06,467 84.14,467.2 84.22,467.2 84.29,467.2 84.37,467.5 84.45,467.3 84.53,466.9 84.61,467.6 84.69,467.3 84.77,467.9 84.85,467.4 84.93,467.1 85,467.2 85.08,467.2 85.16,467.6 85.24,467.1 85.32,467.6 85.4,467 85.48,467.3 85.56,467.5 85.64,466.9 85.71,467.5 85.79,467.1 85.87,467.4 85.95,467.4 86.03,467.1 86.11,467.3 86.19,467.5 86.27,467.5 86.35,467.5 86.42,467.5 86.5,467.7 86.58,467.9 86.66,468.4 86.74,467.6 86.82,467.7 86.9,467.3 86.98,467.5 87.06,467.3 87.14,467.1 87.21,467.7 87.29,468 87.37,467.5 87.45,467.9 87.53,467.9 87.61,467.3 87.69,467.6 87.77,467.5 87.85,468.3 87.92,467.8 88,467.5 88.08,468.3 88.16,467.8 88.24,467.8 88.32,468.7 88.4,467.5 88.48,468.2 88.56,468 88.63,467.5 88.71,468.6 88.79,467.9 88.87,468.2 88.95,468.1 89.03,468.3 89.11,467.7 89.19,468.5 89.27,468 89.34,468 89.42,468.2 89.5,468.3 89.58,468.3 89.66,467.9 89.74,468.1 89.82,468.3 89.9,468.6 89.98,468.2 90.06,468.1 90.13,468.3 90.21,467.9 90.29,468.9 90.37,467.6 90.45,468.4 90.53,468.7 90.61,468.9 90.69,468.1 90.77,468.2 90.84,468.5 90.92,468.5 91,468.4 91.08,468.6 91.16,468.1 91.24,468.3 91.32,468.6 91.4,469.1 91.48,468.1 91.55,468.7 91.63,468.9 91.71,468.2 91.79,468.5 91.87,469.3 91.95,469.2 92.03,468.8 92.11,469.1 92.19,468.7 92.26,467.9 92.34,467.8 92.42,468.7 92.5,468.5 92.58,468.5 92.66,468.8 92.74,469.3 92.82,468.5 92.9,468.9 92.98,468.7 93.05,468.6 93.13,469.1 93.21,468.4 93.29,468.9 93.37,468.8 93.45,469.1 93.53,468.7 93.61,468.6 93.69,469.1 93.76,468.8 93.84,469.1 93.92,469.4 94,469.1 94.08,468.8 94.16,468.9 94.24,468.7 94.32,469.3 94.4,469.2 94.47,469.1 94.55,468.9 94.63,469.2 94.71,469.4 94.79,469.6 94.87,468.8 94.95,468.8 95.03,469.4 95.11,468.7 95.18,469.2 95.26,469.1 95.34,468.9 95.42,469.4 95.5,469.5 95.58,469.8 95.66,469.2 95.74,469.2 95.82,469.1 95.9,469.2 95.97,469.3 96.05,469 96.13,469.7 96.21,469.3 96.29,469.2 96.37,469.5 96.45,468.9 96.53,469.3 96.61,469 96.68,469.2 96.76,469.5 96.84,468.9 96.92,469.2 97,469.5 97.08,469.6 97.16,469.9 97.24,469.6 97.32,469.7 97.39,469.5 97.47,469.7 97.55,469.4 97.63,469.7 97.71,470.1 97.79,469.8 97.87,469.9 97.95,470.1 98.03,469.8 98.1,469.4 98.18,470.1 98.26,470.4 98.34,469.8 98.42,468.8 98.5,469.9 98.58,469.7 98.66,469.9 98.74,469.5 98.82,469.4 98.89,469.9 98.97,469.5 99.05,470.2 99.13,469.8 99.21,470.3 99.29,469.8 99.37,470.1 99.45,469.8 99.53,470.3 99.6,469.9 99.68,469.9 99.76,470.1 99.84,470.2 99.92,470.4 100,470.1 100.08,469.9 100.16,470.1 100.24,470 100.31,469.6 100.39,470.2 100.47,470 100.55,469.8 100.63,469.9 100.71,470 100.79,470.1 100.87,469.5 100.95,470.2 101.03,470.3 101.1,470 101.18,469.6 101.26,469.7 101.34,470.2 101.42,469.9 101.5,470.1 101.58,470.2 101.66,470 101.74,470 101.81,470.2 101.89,469.7 101.97,470.4 102.05,469.8 102.13,469.6 102.21,469.6 102.29,470.2 102.37,470.4 102.45,470.8 102.52,470.4 102.6,469.6 102.68,470.9 102.76,470.9 102.84,470.1 102.92,470.2 103,471 103.08,470.4 103.16,470.3 103.23,470.9 103.31,470.2 103.39,470.9 103.47,470.1 103.55,470.4 103.63,470.7 103.71,471 103.79,470.6 103.87,470.6 103.95,470.6 104.02,470.7 104.1,470.6 104.18,470.3 104.26,470.9 104.34,470.7 104.42,470.5 104.5,470.6 104.58,470.4 104.66,470.2 104.73,470.8 104.81,470.6 104.89,471.6 104.97,470.8 105.05,470.5 105.13,471.1 105.21,470.3 105.29,471.3 105.37,470.3 105.44,470.9 105.52,471.1 105.6,470.9 105.68,470.9 105.76,471.1 105.84,471.2 105.92,471 106,470.5 106.08,470.7 106.15,470.4 106.23,471 106.31,471 106.39,471 106.47,470.8 106.55,470.7 106.63,470.3 106.71,470.7 106.79,470.9 106.87,470.5 106.94,471.2 107.02,471.4 107.1,470.7 107.18,470.9 107.26,470.9 107.34,470.7 107.42,471.1 107.5,471 107.58,470.9 107.65,470.8 107.73,470.7 107.81,471 107.89,471 107.97,471.8 108.05,470.7 108.13,471.6 108.21,471.1 108.29,470.3 108.36,471.2 108.44,471.6 108.52,470.6 108.6,471.3 108.68,471.2 108.76,471.2 108.84,470.9 108.92,470.9 109,471.2 109.07,470.8 109.15,471.5 109.23,471 109.31,471.4 109.39,471 109.47,471.5 109.55,471.4 109.63,470.8 109.71,471.6 109.79,471.6 109.86,471.1 109.94,471.4 110.02,471.4 110.1,471.4 110.18,470.7 110.26,471.7 110.34,471.4 110.42,471.3 110.5,471.7 110.57,471.4 110.65,471.2 110.73,471.7 110.81,471 110.89,471.8 110.97,471.5 111.05,471.3 111.13,470.4 111.21,472 111.28,471.4 111.36,470.7 111.44,471.7 111.52,471.1 111.6,471.4 111.68,471.9 111.76,471.4 111.84,471.8 111.92,471.5 111.99,472 112.07,471.3 112.15,472.3 112.23,471.6 112.31,471.2 112.39,471.4 112.47,471.7 112.55,471.7 112.63,471.7 112.71,470.7 112.78,471.6 112.86,471.6 112.94,471.9 113.02,471.8 113.1,471.5 113.18,471.8 113.26,471.9 113.34,471.8 113.42,471.8 113.49,471.6 113.57,471.8 113.65,471.8 113.73,471.9 113.81,471.3 113.89,471.7 113.97,471.8 114.05,471.6 114.13,471.8 114.2,472.2 114.28,471.8 114.36,471.3 114.44,471.6 114.52,471.4 114.6,472 114.68,472.3 114.76,472 114.84,471.4 114.91,472.1 114.99,472.1 115.07,471.5 115.15,471.9 115.23,471.9 115.31,471.7 115.39,471.8 115.47,472 115.55,471.8 115.63,472.1 115.7,471.9 115.78,471.7 115.86,472.3 115.94,472 116.02,472.3 116.1,471.7 116.18,471.8 116.26,471.7 116.34,471.6 116.41,471.7 116.49,471.8 116.57,472.2 116.65,471.7 116.73,472.3 116.81,471.3 116.89,471.9 116.97,471.8 117.05,472.4 117.12,471.7 117.2,471.7 117.28,472.5 117.36,472.2 117.44,472.2 117.52,472.3 117.6,471.7 117.68,471.4 117.76,472.4 117.83,471.8 117.91,472.2 117.99,471.7 118.07,472.9 118.15,472.3 118.23,471.8 118.31,472.4 118.39,471.8 118.47,472.3 118.55,471.8 118.62,472 118.7,472.3 118.78,472.4 118.86,472.3 118.94,471.8 119.02,472.2 119.1,472.4 119.18,471.2 119.26,472.7 119.33,472.3 119.41,472.1 119.49,472.6 119.57,472.3 119.65,472.4 119.73,472.7 119.81,472.1 119.89,472.6 119.97,472.5 120.04,471.9 120.12,472.7 120.2,472.1 120.28,472 120.36,472 120.44,472.2 120.52,472.4 120.6,472.8 120.68,472.3 120.76,472.2 120.83,472.5 120.91,472.7 120.99,472.1 121.07,472.7 121.15,472.3 121.23,472.6 121.31,472.9 121.39,471.9 121.47,472.2 121.54,472.3 121.62,472.9 121.7,472.5 121.78,472.4 121.86,472.7 121.94,471.9 122.02,473.1 122.1,472.3 122.18,473.1 122.25,473 122.33,472.9 122.41,472.3 122.49,472.7 122.57,472.7 122.65,472.8 122.73,473 122.81,472.8 122.89,472.9 122.96,472.7 123.04,472.7 123.12,473.3 123.2,472.8 123.28,472.2 123.36,472.7 123.44,472.6 123.52,472.8 123.6,472.8 123.68,472.6 123.75,473.1 123.83,472.7 123.91,473.2 123.99,472.5 124.07,473.2 124.15,472.5 124.23,472.4 124.31,473.2 124.39,472.5 124.46,472.8 124.54,472.3 124.62,472.9 124.7,472.8 124.78,472.8 124.86,472.3 124.94,473.3 125.02,472.5 125.1,472.7 125.17,472.9 125.25,472.8 125.33,472.5 125.41,472.5 125.49,472.2 125.57,473 125.65,473.4 125.73,473 125.81,472.9 125.88,472.9 125.96,472.4 126.04,472.1 126.12,472.7 126.2,473.4 126.28,472.5 126.36,473 126.44,472.8 126.52,472.6 126.6,472.7 126.67,472.9 126.75,472.8 126.83,472.6 126.91,472.7 126.99,472.2 127.07,473.8 127.15,473.1 127.23,473.1 127.31,472.6 127.38,472.8 127.46,472.7 127.54,473.4 127.62,473 127.7,472.7 127.78,473 127.86,473.1 127.94,472.9 128.02,472.4 128.09,473.6 128.17,472.5 128.25,472.9 128.33,473.2 128.41,472.8 128.49,473 128.57,472.6 128.65,473.3 128.73,472.7 128.8,473.3 128.88,472.9 128.96,472.8 129.04,473.1 129.12,472.8 129.2,473.2 129.28,472.7 129.36,473.2 129.44,473.3 129.52,473.1 129.59,473.1 129.67,473.3 129.75,472.8 129.83,473.1 129.91,472.9 129.99,473.6 130.07,473.5 130.15,473.2 130.23,473.4 130.3,473.2 130.38,472.9 130.46,472.8 130.54,472.7 130.62,472.9 130.7,473.4 130.78,473 130.86,473.3 130.94,473 131.01,473.5 131.09,472.7 131.17,473 131.25,473.3 131.33,473.6 131.41,473.1 131.49,473.4 131.57,473.1 131.65,473.4 131.72,473.4 131.8,473 131.88,472.7 131.96,473.6 132.04,473.3 132.12,473.1 132.2,473.3 132.28,473.4 132.36,472.6 132.44,473.5 132.51,473.1 132.59,473.4 132.67,473.3 132.75,474 132.83,473 132.91,473.3 132.99,473.6 133.07,472.8 133.15,473.4 133.22,473.5 133.3,473.6 133.38,473 133.46,473.3 133.54,473.4 133.62,473.7 133.7,473.6 133.78,473.2 133.86,473.3 133.93,474 134.01,473.6 134.09,473.3 134.17,472.5 134.25,473.6 134.33,474.1 134.41,473.1 134.49,473.5 134.57,473.8 134.64,473.2 134.72,473.5 134.8,473.7 134.88,473.8 134.96,473.4 135.04,473.4 135.12,474 135.2,473.1 135.28,473.8 135.36,473 135.43,473.3 135.51,473.5 135.59,473.3 135.67,473.6 135.75,473.5 135.83,472.9 135.91,473.6 135.99,473.2 136.07,473.7 136.14,473.5 136.22,473.2 136.3,473.9 136.38,473.4 136.46,474.2 136.54,473.8 136.62,473.6 136.7,473.2 136.78,473.3 136.85,473.8 136.93,473.6 137.01,473.5 137.09,474 137.17,473.4 137.25,473.1 137.33,473.1 137.41,473.7 137.49,473.7 137.56,473.8 137.64,473.7 137.72,473.6 137.8,473.3 137.88,473.5 137.96,473.9 138.04,473.3 138.12,473.3 138.2,473.8 138.28,473.7 138.35,473.6 138.43,474.1 138.51,473.6 138.59,473.4 138.67,473 138.75,473.5 138.83,473.7 138.91,473.7 138.99,473.4 139.06,473.4 139.14,473.9 139.22,473.6 139.3,473.4 139.38,474.3 139.46,473.2 139.54,473.7 139.62,473.4 139.7,473.7 139.77,473.7 139.85,473.7 139.93,473.6 140.01,473.4 140.09,473.8 140.17,474 140.25,473.9 140.33,474 140.41,473.5 140.49,474 140.56,473.2 140.64,473.7 140.72,473.7 140.8,473.3 140.88,473.8 140.96,473.8 141.04,473.5 141.12,473.5 141.2,474 141.27,473 141.35,473.6 141.43,474.1 141.51,473.8 141.59,473.5 141.67,473.7 141.75,473.5 141.83,473 141.91,473.5 141.98,473.1 142.06,473.6 142.14,474 142.22,473.3 142.3,474 142.38,473.5 142.46,473.6 142.54,474.1 142.62,474 142.69,473.9 142.77,473.7 142.85,473.4 142.93,473.8 143.01,473.2 143.09,473.5 143.17,474 143.25,474 143.33,473.8 143.41,474 143.48,473.9 143.56,473.6 143.64,473.8 143.72,473.5 143.8,474.1 143.88,474.1 143.96,474.3 144.04,474.4 144.12,474 144.19,473.8 144.27,473.9 144.35,473.9 144.43,473.2 144.51,474.2 144.59,474 144.67,474 144.75,474.2 144.83,473.5 144.9,473.9 144.98,473.5 145.06,474.2 145.14,473.3 145.22,473.2 145.3,474.2 145.38,473.9 145.46,473.9 145.54,473.7 145.61,474.3 145.69,473.8 145.77,473.7 145.85,474.1 145.93,474.6 146.01,474.1 146.09,474.1 146.17,473.7 146.25,474.1 146.33,474.3 146.4,473.8 146.48,473.8 146.56,473.7 146.64,473.9 146.72,473.6 146.8,473.8 146.88,474.5 146.96,473.9 147.04,473.7 147.11,474 147.19,473.5 147.27,474.1 147.35,473.8 147.43,474.4 147.51,474 147.59,474.2 147.67,474.3 147.75,474.4 147.82,473.9 147.9,473.9 147.98,474.2 148.06,474.4 148.14,474.3 148.22,473.8 148.3,474.4 148.38,473.7 148.46,474.6 148.53,473.9 148.61,473.8 148.69,473.7 148.77,474.2 148.85,474.3 148.93,474.5 149.01,473.8 149.09,474.1 149.17,474.2 149.25,474.2 149.32,474 149.4,474.1 149.48,473.7 149.56,474.7 149.64,473.8 149.72,474.2 149.8,474.1 149.88,474.2 149.96,474.1 150.03,473.9 150.11,474 150.19,474.6 150.27,474.1 150.35,474.1 150.43,474 150.51,474.1 150.59,474.1 150.67,473.8 150.74,474.5 150.82,473.4 150.9,474.3 150.98,474.5 151.06,473.9 151.14,473.8 151.22,473.7 151.3,473.7 151.38,474 151.45,474.1 151.53,474 151.61,474.2 151.69,474.3 151.77,473.7 151.85,473.6 151.93,474.2 152.01,474.2 152.09,474.3 152.17,474.7 152.24,474.4 152.32,474.3 152.4,474.2 152.48,474.5 152.56,474.8 152.64,474 152.72,473.6 152.8,474.9 152.88,474.2 152.95,473.9 153.03,474.6 153.11,474.7 153.19,474.2 153.27,474.3 153.35,474.4 153.43,473.7 153.51,473.7 153.59,474 153.66,474.2 153.74,474.3 153.82,473.9 153.9,474.3 153.98,473.8 154.06,473.8 154.14,474.4 154.22,474 154.3,473.7 154.37,474 154.45,474.5 154.53,474.3 154.61,474.4 154.69,474.2 154.77,474.2 154.85,474.4 154.93,474 155.01,473.8 155.09,474.4 155.16,474.7 155.24,474.1 155.32,474.3 155.4,474.1 155.48,474.5 155.56,474.2 155.64,474.6 155.72,473.9 155.8,473.8 155.87,474.6 155.95,475.1 156.03,474.4 156.11,474.5 156.19,474.2 156.27,474.3 156.35,474.1 156.43,473.4 156.51,474.5 156.58,474.4 156.66,474.2 156.74,474.9 156.82,474.1 156.9,474.5 156.98,474.8 157.06,474.6 157.14,474.2 157.22,474.1 157.29,473.9 157.37,474.2 157.45,474.6 157.53,474.2 157.61,474.4 157.69,473.6 157.77,475 157.85,473.8 157.93,474.1 158.01,474.2 158.08,474.4 158.16,474.5 158.24,474.7 158.32,474.8 158.4,473.7 158.48,474.1 158.56,474.1 158.64,474.2 158.72,475 158.79,474.5 158.87,474.3 158.95,474 159.03,474.7 159.11,474.3 159.19,474.4 159.27,474.4 159.35,474.6 159.43,474.3 159.5,474.4 159.58,475 159.66,474 159.74,473.7 159.82,474.7 159.9,474 159.98,474.7 160.06,474.6 160.14,473.8 160.22,474.3 160.29,473.9 160.37,474.3 160.45,474.1 160.53,474.5 160.61,474 160.69,473.9 160.77,474.2 160.85,474.6 160.93,474.5 161,474.7 161.08,474.2 161.16,474.3 161.24,474.6 161.32,474.1 161.4,474.6 161.48,473.9 161.56,474.2 161.64,473.9 161.71,474.7 161.79,474.8 161.87,475 161.95,474.2 162.03,474.8 162.11,474 162.19,474.4 162.27,474.2 162.35,474.9 162.42,474.6 162.5,474.4 162.58,474.2 162.66,474.9 162.74,474.4 162.82,474.7 162.9,474.2 162.98,474.5 163.06,474.6 163.14,474.3 163.21,474.1 163.29,474.6 163.37,474.1 163.45,474.8 163.53,474.4 163.61,474.8 163.69,474.4 163.77,474.8 163.85,474.5 163.92,474.3 164,474.8 164.08,475.1 164.16,474.6 164.24,474.3 164.32,474.4 164.4,474.8 164.48,474.3 164.56,474.6 164.63,474.3 164.71,474.8 164.79,474.4 164.87,474.2 164.95,474.7 165.03,474.6 165.11,474.3 165.19,474.4 165.27,474.4 165.34,474.6 165.42,475 165.5,474.5 165.58,475 165.66,474.5 165.74,475.3 165.82,474.1 165.9,474 165.98,474.4 166.06,474.8 166.13,474.7 166.21,474.3 166.29,474.4 166.37,474.8 166.45,474.2 166.53,474.3 166.61,474.4 166.69,474.7 166.77,474.6 166.84,474.8 166.92,474.5 167,474.8 167.08,474.2 167.16,474.6 167.24,474.5 167.32,474.5 167.4,474.5 167.48,475 167.55,474.2 167.63,474.6 167.71,474.8 167.79,474.9 167.87,474.8 167.95,474.8 168.03,474.6 168.11,474.9 168.19,474.6 168.26,474.6 168.34,474.8 168.42,473.9 168.5,474.7 168.58,474.5 168.66,474.6 168.74,474.7 168.82,474.4 168.9,474.2 168.98,474.7 169.05,474.9 169.13,474.5 169.21,475.3 169.29,474.6 169.37,474.7 169.45,474.5 169.53,475.1 169.61,474.8 169.69,475 169.76,474.8 169.84,474.5 169.92,474.7 170,474.9 170.08,474.3 170.16,474.7 170.24,475.3 170.32,475 170.4,474.6 170.47,474.5 170.55,474.6 170.63,474.6 170.71,475 170.79,474.7 170.87,475.1 170.95,475 171.03,475 171.11,475 171.18,474.8 171.26,474.8 171.34,475 171.42,474.4 171.5,474.9 171.58,474.2 171.66,474.4 171.74,475.1 171.82,474.5 171.9,475.2 171.97,474.3 172.05,474.6 172.13,475 172.21,475.4 172.29,474.9 172.37,475.2 172.45,474.4 172.53,475.1 172.61,474.8 172.68,474.6 172.76,474.8 172.84,474.7 172.92,474.8 173,474.5 173.08,475.1 173.16,474.6 173.24,475.1 173.32,474.7 173.39,475.1 173.47,474.8 173.55,474.6 173.63,474.4 173.71,475.3 173.79,475 173.87,475.1 173.95,474.4 174.03,475.1 174.1,474.6 174.18,475 174.26,475.2 174.34,474.8 174.42,475.1 174.5,474.6 174.58,474.5 174.66,474.4 174.74,475.1 174.82,474.3 174.89,474.5 174.97,475.4 175.05,474.1 175.13,474.3 175.21,475.1 175.29,474.7 175.37,475.2 175.45,474.9 175.53,474.8 175.6,474.6 175.68,475.1 175.76,474.8 175.84,475.1 175.92,474.7 176,474.6 176.08,474.8 176.16,474.5 176.24,474.6 176.31,474.7 176.39,474.5 176.47,475.2 176.55,474.9 176.63,475.4 176.71,474.9 176.79,475 176.87,474.6 176.95,475 177.02,475.1 177.1,474.9 177.18,474.9 177.26,474.7 177.34,475.1 177.42,475.3 177.5,475.4 177.58,474.5 177.66,475.3 177.74,475 177.81,475.2 177.89,474.6 177.97,475 178.05,474.5 178.13,475.1 178.21,474.8 178.29,474.6 178.37,474.6 178.45,475.2 178.52,475 178.6,474.9 178.68,475.5 178.76,474.7 178.84,474.8 178.92,474.7 179,475.3 179.08,474.8 179.16,474.8 179.23,474.6 179.31,475.1 179.39,474.7 179.47,474.3 179.55,475 179.63,475 179.71,475 179.79,475.4 179.87,475 179.94,474.4 180.02,475.2 180.1,475 180.18,474.5 180.26,474.7 180.34,474.8 180.42,475 180.5,475 180.58,474.9 180.66,474.7 180.73,474.9 180.81,474.6 180.89,475.5 180.97,474.7 181.05,475.1 181.13,474.9 181.21,475.1 181.29,474.7 181.37,475 181.44,474.7 181.52,475.2 181.6,474.9 181.68,474.6 181.76,474.6 181.84,475 181.92,474.9 182,475.1 182.08,475 182.15,474.9 182.23,474.6 182.31,474.8 182.39,474.5 182.47,474.5 182.55,475.3 182.63,474.9 182.71,475.1 182.79,475.5 182.87,475.3 182.94,475.1 183.02,474.4 183.1,474.9 183.18,475 183.26,475 183.34,475.2 183.42,474.9 183.5,475 183.58,475.5 183.65,475.1 183.73,473.9 183.81,474.8 183.89,475 183.97,474.8 184.05,475.3 184.13,474.9 184.21,474.7 184.29,475.5 184.36,475.2 184.44,475.1 184.52,475.1 184.6,475.1 184.68,474.9 184.76,474.7 184.84,474.9 184.92,474.7 185,474.7 185.07,475.2 185.15,474.9 185.23,475.1 185.31,474.8 185.39,475.1 185.47,475.1 185.55,474.5 185.63,475.1 185.71,475.5 185.79,475 185.86,474.9 185.94,475.2 186.02,475 186.1,474.7 186.18,475.2 186.26,475.1 186.34,475.2 186.42,474.9 186.5,475.1 186.57,475.3 186.65,475.1 186.73,474.5 186.81,475.5 186.89,475.4 186.97,474.9 187.05,475.4 187.13,474.4 187.21,475.5 187.28,475.4 187.36,475.2 187.44,474.7 187.52,474.8 187.6,474.9 187.68,474.9 187.76,474.6 187.84,475.6 187.92,474.9 187.99,474.6 188.07,475.4 188.15,474.9 188.23,474.7 188.31,474.7 188.39,475.1 188.47,474.5 188.55,474.9 188.63,474.7 188.71,475.4 188.78,475.3 188.86,475.3 188.94,474.5 189.02,475.8 189.1,475.6 189.18,474.8 189.26,475 189.34,476 189.42,475.2 189.49,475.1 189.57,474.7 189.65,475.6 189.73,475.2 189.81,474.7 189.89,474.8 189.97,475.3 190.05,475.2 190.13,475.5 190.2,474.6 190.28,475.2 190.36,474.7 190.44,474.8 190.52,475.3 190.6,475.1 190.68,474.9 190.76,474.9 190.84,474.6 190.91,474.7 190.99,475 191.07,474.9 191.15,475.3 191.23,475.3 191.31,474.9 191.39,475 191.47,475.4 191.55,475.1 191.63,475.3 191.7,475.3 191.78,474.7 191.86,475.4 191.94,475.3 192.02,474.9 192.1,475.1 192.18,475 192.26,475.5 192.34,475.1 192.41,475.2 192.49,475.3 192.57,475.3 192.65,475.2 192.73,474.8 192.81,474.5 192.89,475.1 192.97,474.6 193.05,475.1 193.12,475.6 193.2,475.1 193.28,474.7 193.36,474.7 193.44,475.4 193.52,474.4 193.6,475.3 193.68,475.3 193.76,475.3 193.83,474.7 193.91,475 193.99,474.8 194.07,475.8 194.15,475.1 194.23,475.1 194.31,474.9 194.39,475.3 194.47,474.8 194.55,475.3 194.62,475.5 194.7,475.6 194.78,474.7 194.86,474.9 194.94,475.4 195.02,474.8 195.1,475.2 195.18,475.2 195.26,475.6 195.33,475.3 195.41,475.1 195.49,475.1 195.57,475.3 195.65,474.8 195.73,474.7 195.81,475.4 195.89,475 195.97,475.6 196.04,475 196.12,475.4 196.2,475.2 196.28,475.1 196.36,475.2 196.44,474.8 196.52,475.4 196.6,475.3 196.68,475 196.75,475.2 196.83,475.1 196.91,475.2 196.99,475.4 197.07,474.9 197.15,475.1 197.23,474.9 197.31,474.7 197.39,475.3 197.47,475.4 197.54,475.3 197.62,475.3 197.7,475.8 197.78,474.7 197.86,475 197.94,474.5 198.02,475.3 198.1,475 198.18,475.1 198.25,475.2 198.33,474.9 198.41,475.2 198.49,475.2 198.57,475.1 198.65,475.8 198.73,475.4 198.81,475.4 198.89,474.7 198.96,475 199.04,474.9 199.12,475 199.2,475.2 199.28,474.7 199.36,475.2 199.44,475.6 199.52,475 199.6,474.8 199.68,475.1 199.75,475.1 199.83,474.9 199.91,474.7 199.99,475 200.07,474.7 200.15,475.1 200.23,474.5 200.31,475.6 200.39,474.9 200.46,475.1 200.54,475.1 200.62,475.6 200.7,474.9 200.78,475.2 200.86,475.5 200.94,475.4 201.02,475.3 201.1,475.2 201.17,475.5 201.25,475.5 201.33,475.1 201.41,475.2 201.49,474.6 201.57,475.3 201.65,475 201.73,474.7 201.81,475.3 201.88,474.9 201.96,475.1 202.04,475.2 202.12,474.7 202.2,475.5 202.28,475.4 202.36,475.7 202.44,475.2 202.52,474.9 202.6,475.3 202.67,475 202.75,475.4 202.83,474.9 202.91,475.2 202.99,475.4 203.07,474.7 203.15,475.2 203.23,475 203.31,475.2 203.38,475 203.46,475.2 203.54,475.6 203.62,475.1 203.7,475.1 203.78,475.1 203.86,475.3 203.94,474.7 204.02,475.4 204.09,475.2 204.17,475.2 204.25,475.6 204.33,475.6 204.41,475 204.49,475 204.57,475.2 204.65,475.7 204.73,475.3 204.8,475.2 204.88,475 204.96,474.9 205.04,475.1 205.12,474.9 205.2,474.7 205.28,475.9 205.36,474.9 205.44,475.4 205.52,475.1 205.59,475.2 205.67,475.5 205.75,475.5 205.83,475.1 205.91,475.3 205.99,475 206.07,475.4 206.15,474.6 206.23,475.3 206.3,474.6 206.38,475.5 206.46,475.1 206.54,474.9 206.62,475.6 206.7,475.5 206.78,475.1 206.86,474.9 206.94,474.8 207.01,475.1 207.09,474.9 207.17,475.6 207.25,475.4 207.33,474.8 207.41,475.4 207.49,475.3 207.57,475.8 207.65,475.3 207.72,475.7 207.8,475.2 207.88,474.8 207.96,475.2 208.04,475.2 208.12,475.4 208.2,475.1 208.28,475.6 208.36,475.4 208.44,474.6 208.51,475.7 208.59,475.4 208.67,475.7 208.75,474.9 208.83,475.3 208.91,475.7 208.99,475.7 209.07,474.9 209.15,475.1 209.22,475 209.3,475.3 209.38,475 209.46,474.9 209.54,475.1 209.62,475.8 209.7,475.9 209.78,475.7 209.86,475.2 209.93,475.7 210.01,475.6 210.09,475.3 210.17,475.6 210.25,475.7 210.33,475 210.41,475.1 210.49,475.1 210.57,475 210.64,474.9 210.72,475.3 210.8,475.4 210.88,475.8 210.96,475.4 211.04,475.5 211.12,475 211.2,475.1 211.28,474.9 211.36,475 211.43,475 211.51,475.2 211.59,475.3 211.67,475.4 211.75,475.3 211.83,475.6 211.91,475.2 211.99,475.3 212.07,475.9 212.14,476.1 212.22,475.5 212.3,475.5 212.38,475.4 212.46,474.9 212.54,475.5 212.62,475.7 212.7,475.2 212.78,475 212.85,474.8 212.93,475.6 213.01,475.4 213.09,475.5 213.17,474.9 213.25,475.1 213.33,475.3 213.41,475.1 213.49,475.4 213.56,475.4 213.64,475.3 213.72,475.5 213.8,475.4 213.88,475.2 213.96,475.3 214.04,474.9 214.12,475.1 214.2,475.4 214.28,476 214.35,475.8 214.43,475.5 214.51,475.5 214.59,475.7 214.67,475.5 214.75,475.3 214.83,475.5 214.91,475.4 214.99,475.4 215.06,475.6 215.14,475.6 215.22,475.4 215.3,475.3 215.38,475.7 215.46,476 215.54,475.6 215.62,475.2 215.7,475.8 215.77,475.1 215.85,475.5 215.93,475.3 216.01,475.6 216.09,475.2 216.17,475.3 216.25,475.3 216.33,475.9 216.41,475.1 216.48,475.9 216.56,475.5 216.64,475.2 216.72,475.4 216.8,475.2 216.88,475.3 216.96,475.3 217.04,475.6 217.12,475.1 217.2,475 217.27,475.5 217.35,475.6 217.43,475.3 217.51,475.6 217.59,475.3 217.67,475.1 217.75,475.2 217.83,474.9 217.91,475.2 217.98,475.7 218.06,475.6 218.14,475.2 218.22,474.8 218.3,475.5 218.38,475.7 218.46,475 218.54,475.4 218.62,475.2 218.69,475.1 218.77,475.7 218.85,475.5 218.93,475.6 219.01,475.2 219.09,475.2 219.17,475.5 219.25,475.2 219.33,475.9 219.41,475.3 219.48,475.3 219.56,475.4 219.64,475.8 219.72,475.4 219.8,475.7 219.88,475 219.96,475.5 220.04,475.5 220.12,475.4 220.19,475.2 220.27,475.4 220.35,475.2 220.43,475.7 220.51,475.1 220.59,475.5 220.67,475.2 220.75,475.3 220.83,475.1 220.9,475.4 220.98,475.8 221.06,475.7 221.14,475.5 221.22,475 221.3,475.5 221.38,475.4 221.46,475 221.54,475.6 221.61,475.3 221.69,475.3 221.77,475.6 221.85,475.3 221.93,475.1 222.01,475.1 222.09,475.5 222.17,474.6 222.25,475.3 222.33,475.5 222.4,475.6 222.48,475.7 222.56,475.2 222.64,476.3 222.72,475.5 222.8,475.8 222.88,475.5 222.96,475.4 223.04,475.8 223.11,475.7 223.19,475 223.27,475.6 223.35,475.4 223.43,475.5 223.51,475.2 223.59,475.1 223.67,475.2 223.75,475.3 223.82,475.3 223.9,475.8 223.98,475 224.06,475.6 224.14,475.7 224.22,475.5 224.3,475.7 224.38,475.3 224.46,475.2 224.53,475.1 224.61,475.5 224.69,475.6 224.77,475.5 224.85,475.8 224.93,475.6 225.01,474.8 225.09,475.7 225.17,475.6 225.25,475.2 225.32,475.4 225.4,475.2 225.48,475.7 225.56,475.8 225.64,475 225.72,475.6 225.8,475.5 225.88,475.4 225.96,476 226.03,475.5 226.11,475.6 226.19,475.3 226.27,475.5 226.35,476.1 226.43,475.2 226.51,476.2 226.59,475.6 226.67,475.6 226.74,475.6 226.82,475.4 226.9,475.2 226.98,475.7 227.06,475.6 227.14,475.2 227.22,475.3 227.3,475.2 227.38,475.4 227.45,475.5 227.53,475.6 227.61,475.6 227.69,475.2 227.77,475 227.85,474.9 227.93,475.8 228.01,475.5 228.09,475.5 228.17,475.5 228.24,475.8 228.32,474.8 228.4,475 228.48,475.5 228.56,475.6 228.64,475.5 228.72,475.8 228.8,475.6 228.88,475.2 228.95,475 229.03,475.2 229.11,475.1 229.19,475.8 229.27,476.4 229.35,475.1 229.43,475.4 229.51,475.5 229.59,475 229.66,475.7 229.74,475.7 229.82,475.7 229.9,475 229.98,475.2 230.06,476 230.14,475 230.22,475.5 230.3,475.3 230.37,475.7 230.45,474.9 230.53,475.3 230.61,475.1 230.69,475.8 230.77,475.3 230.85,475.4 230.93,475.5 231.01,475.7 231.09,475.7 231.16,475.8 231.24,475.7 231.32,475.5 231.4,475.3 231.48,475.9 231.56,475.8 231.64,475.7 231.72,476 231.8,475.6 231.87,475.6 231.95,475.5 232.03,475.4 232.11,475.2 232.19,475.2 232.27,475.4 232.35,475.3 232.43,475.7 232.51,475.8 232.58,475.3 232.66,475.3 232.74,474.8 232.82,475.5 232.9,475.8 232.98,475.4 233.06,475.6 233.14,475.7 233.22,475.1 233.29,474.9 233.37,475.4 233.45,475.7 233.53,475.4 233.61,475.5 233.69,475.9 233.77,475.2 233.85,475.4 233.93,475.1 234.01,475.7 234.08,475.5 234.16,475.5 234.24,476 234.32,474.7 234.4,476.1 234.48,475.8 234.56,475.6 234.64,476 234.72,475.4 234.79,475.6 234.87,475.5 234.95,475.4 235.03,475.5 235.11,475.5 235.19,475.5 235.27,475.4 235.35,475.3 235.43,475.6 235.5,475.6 235.58,475.6 235.66,475.4 235.74,475.6 235.82,475.6 235.9,475.9 235.98,474.9 236.06,475.9 236.14,475 236.21,475.3 236.29,475.2 236.37,475.4 236.45,475.3 236.53,475.4 236.61,475.3 236.69,475.2 236.77,475 236.85,475.8 236.93,475.3 237,475 237.08,475.1 237.16,475.8 237.24,475.4 237.32,475.4 237.4,475.4 237.48,476.2 237.56,475.2 237.64,476 237.71,474.8 237.79,475.3 237.87,475.5 237.95,475.3 238.03,475.5 238.11,475.7 238.19,475.5 238.27,475.4 238.35,475.7 238.42,475.3 238.5,475.2 238.58,475.2 238.66,475.1 238.74,475.1 238.82,475.3 238.9,475.1 238.98,475.5 239.06,475.4 239.13,475.1 239.21,474.9 239.29,475.6 239.37,475.9 239.45,474.9 239.53,475.2 239.61,474.9 239.69,475.2 239.77,475.4 239.85,475.7 239.92,475.8 240,475.1 240.08,475.2 240.16,475.4 240.24,475.8 240.32,475.7 240.4,475.7 240.48,475.6 240.56,476.4 240.63,475.4 240.71,475 240.79,475.7 240.87,475.5 240.95,475.4 241.03,475.8 241.11,475.4 241.19,475.8 241.27,475.6 241.34,475.4 241.42,475.5 241.5,475.5 241.58,475.8 241.66,475.3 241.74,475.8 241.82,475.3 241.9,475.7 241.98,475.9 242.06,475.5 242.13,475.8 242.21,475.7 242.29,475.6 242.37,475.3 242.45,475.3 242.53,475.4 242.61,475.6 242.69,476 242.77,475.6 242.84,475.6 242.92,475.6 243,475.7 243.08,475.7 243.16,475.3 243.24,475.9 243.32,475.5 243.4,475.1 243.48,475.8 243.55,475.8 243.63,475.6 243.71,475.6 243.79,475.4 243.87,475.1 243.95,475.6 244.03,475.4 244.11,475.7 244.19,475.7 244.26,475.4 244.34,475.7 244.42,475.2 244.5,475.7 244.58,475.6 244.66,475.8 244.74,475.7 244.82,475.8 244.9,475.7 244.98,476.1 245.05,475.5 245.13,475 245.21,476.1 245.29,475 245.37,475.6 245.45,475.3 245.53,475.8 245.61,474.9 245.69,475.9 245.76,475.6 245.84,475.1 245.92,475.9 246,476.3 246.08,475.6 246.16,475.8 246.24,475.8 246.32,475.8 246.4,476 246.47,475.1 246.55,475.2 246.63,476 246.71,475.6 246.79,475.7 246.87,475.2 246.95,475.8 247.03,475 247.11,475.5 247.18,475.8 247.26,475.6 247.34,475.7 247.42,474.8 247.5,475.5 247.58,475.7 247.66,475.5 247.74,475.1 247.82,475.8 247.9,476.1 247.97,475.1 248.05,475.4 248.13,475.7 248.21,475.6 248.29,475.2 248.37,476.4 248.45,475.2 248.53,475.6 248.61,475.3 248.68,475.6 248.76,474.6 248.84,475.7 248.92,475.2 249,476.4 249.08,475.5 249.16,475.3 249.24,476 249.32,476.2 249.39,475.5 249.47,475.2 249.55,475.2 249.63,475.8 249.71,475.4 249.79,476 249.87,475 249.95,475.7 250.03,475.2 250.1,475.6 250.18,475.7 250.26,475.1 250.34,475.8 250.42,475.2 250.5,475.7 250.58,475.8 250.66,475.8 250.74,475.2 250.82,475.6 250.89,475.7 250.97,476 251.05,475.2 251.13,475.2 251.21,475.5 251.29,475.3 251.37,476.6 251.45,475.7 251.53,475.5 251.6,475.5 251.68,475.7 251.76,475.5 251.84,475.8 251.92,475.8 252,476 252.08,475.5 252.16,475.8 252.24,475.7 252.31,475.1 252.39,475.6 252.47,475.6 252.55,476.1 252.63,475.7 252.71,475.3 252.79,475.4 252.87,475.6 252.95,475.6 253.02,475.6 253.1,475.4 253.18,475.7 253.26,476.4 253.34,475 253.42,475.2 253.5,475.6 253.58,475.1 253.66,476 253.74,475.2 253.81,475.5 253.89,475.3 253.97,475.7 254.05,475.5 254.13,475.4 254.21,475.2 254.29,475.4 254.37,475.4 254.45,475.8 254.52,475 254.6,475.5 254.68,475.6 254.76,475.7 254.84,476 254.92,475.8 255,476.1 255.08,475.5 255.16,475.6 255.23,475.5 255.31,476 255.39,475.7 255.47,475.8 255.55,475.3 255.63,476.1 255.71,476.1 255.79,475.2 255.87,475.5 255.94,476.1 256.02,475.2 256.1,475.1 256.18,475.2 256.26,476.2 256.34,475.5 256.42,475.9 256.5,475.7 256.58,476.1 256.66,475 256.73,475.8 256.81,475.5 256.89,475.3 256.97,475.4 257.05,475.5 257.13,475.7 257.21,475.5 257.29,475.7 257.37,476.3 257.44,475.3 257.52,475.8 257.6,475.8 257.68,475.7 257.76,476 257.84,476 257.92,476.2 258,475.4 258.08,475.2 258.15,475.6 258.23,476 258.31,475.2 258.39,475.7 258.47,476.1 258.55,476.2 258.63,475.5 258.71,475.1 258.79,475.7 258.87,475.8 258.94,475.7 259.02,475.9 259.1,475.8 259.18,475.5 259.26,475.8 259.34,475.3 259.42,475.9 259.5,475.4 259.58,475.5 259.65,475.7 259.73,475.7 259.81,475.7 259.89,475.1 259.97,475.9 260.05,475.2 260.13,475.3 260.21,475.7 260.29,475.1 260.36,476.3 260.44,475.5 260.52,475.6 260.6,475.6 260.68,475.3 260.76,475.7 260.84,475.7 260.92,475.2 261,475.6 261.07,475.9 261.15,475.4 261.23,475.6 261.31,475.8 261.39,475.4 261.47,475.8 261.55,475.9 261.63,475.7 261.71,475.7 261.79,475.6 261.86,476 261.94,475.1 262.02,475.4 262.1,475.6 262.18,475.5 262.26,476.4 262.34,475.3 262.42,475.9 262.5,475.5 262.57,476 262.65,475.3 262.73,475.8 262.81,475.7 262.89,475.1 262.97,475.3 263.05,476 263.13,475.8 263.21,475.6 263.28,475.7 263.36,475.4 263.44,475.8 263.52,476.2 263.6,475.9 263.68,475.7 263.76,475.4 263.84,475.4 263.92,475.2 263.99,475.5 264.07,475.7 264.15,475.4 264.23,475.6 264.31,475.8 264.39,475.8 264.47,475.3 264.55,475.2 264.63,475.2 264.71,476.1 264.78,475.3 264.86,476 264.94,475.7 265.02,475.4 265.1,476 265.18,476 265.26,475.9 265.34,475.1 265.42,475.3 265.49,475.9 265.57,475.6 265.65,475.6 265.73,475.5 265.81,475.8 265.89,475.2 265.97,475.7 266.05,475.4 266.13,476.2 266.2,475.5 266.28,475.6 266.36,475.2 266.44,476.4 266.52,475.5 266.6,475.4 266.68,475.7 266.76,475.2 266.84,475 266.91,475.3 266.99,475.4 267.07,475.2 267.15,475.5 267.23,475.2 267.31,475.4 267.39,475.8 267.47,476 267.55,475.3 267.63,475.4 267.7,475.8 267.78,475.6 267.86,475.2 267.94,476.2 268.02,475.9 268.1,475.4 268.18,475.4 268.26,476 268.34,475.9 268.41,475.6 268.49,475.2 268.57,475.6 268.65,476.4 268.73,475.3 268.81,475.6 268.89,475.8 268.97,476 269.05,475.3 269.12,475.5 269.2,475.5 269.28,475.5 269.36,475.5 269.44,475.4 269.52,475.1 269.6,476 269.68,475.7 269.76,475.8 269.83,475.1 269.91,475.7 269.99,476.1 270.07,475.6 270.15,475.9 270.23,475.9 270.31,475.8 270.39,476 270.47,476.2 270.55,475 270.62,475.7 270.7,475.9 270.78,475.4 270.86,475.2 270.94,476.2 271.02,475.8 271.1,475.6 271.18,475.9 271.26,475.5 271.33,476 271.41,475.9 271.49,475.7 271.57,475.5 271.65,475.6 271.73,475.9 271.81,475.8 271.89,476.3 271.97,475 272.04,475.8 272.12,475.7 272.2,475.6 272.28,475.5 272.36,475.5 272.44,475.9 272.52,476.2 272.6,475.7 272.68,475.9 272.75,475.8 272.83,475.6 272.91,475.6 272.99,475.2 273.07,475.7 273.15,476.2 273.23,475.5 273.31,475.4 273.39,476.2 273.47,475.5 273.54,475.6 273.62,475.8 273.7,475.6 273.78,475.5 273.86,475.5 273.94,475.3 274.02,475.7 274.1,475.7 274.18,474.9 274.25,476 274.33,475.7 274.41,475.8 274.49,475.4 274.57,475.3 274.65,476.1 274.73,475.3 274.81,476 274.89,474.8 274.96,475.9 275.04,475.3 275.12,475.7 275.2,475.4 275.28,475.9 275.36,475.6 275.44,475.6 275.52,475.6 275.6,475.4 275.67,475.8 275.75,475.8 275.83,476.1 275.91,475.7 275.99,475.8 276.07,475.4 276.15,475.4 276.23,475.9 276.31,475.5 276.39,475.2 276.46,475.7 276.54,476 276.62,474.9 276.7,475.5 276.78,475.4 276.86,474.9 276.94,475.9 277.02,475.6 277.1,476.3 277.17,475.5 277.25,475.5 277.33,475.9 277.41,475.9 277.49,475.7 277.57,475.7 277.65,475.2 277.73,475.7 277.81,475.7 277.88,475.7 277.96,476.2 278.04,475.8 278.12,476.1 278.2,475.6 278.28,476.4 278.36,476 278.44,475.6 278.52,476.3 278.6,476.2 278.67,475.4 278.75,476.1 278.83,475.7 278.91,475.6 278.99,476 279.07,476.2 279.15,475.2 279.23,475.8 279.31,475.5 279.38,475.9 279.46,475.6 279.54,476.1 279.62,476.1 279.7,476 279.78,475.9 279.86,475.9 279.94,475.8 280.02,475.5 280.09,475.8 280.17,475.4 280.25,475.9 280.33,475.5 280.41,475.3 280.49,475.1 280.57,476.3 280.65,475.1 280.73,476.2 280.8,475.2 280.88,475.7 280.96,475.6 281.04,476 281.12,475.4 281.2,475.5 281.28,475.8 281.36,475.9 281.44,475.4 281.52,475.3 281.59,475.4 281.67,475.8 281.75,475.7 281.83,475.4 281.91,475.4 281.99,475.3 282.07,475.6 282.15,475.9 282.23,475.6 282.3,475.5 282.38,475.8 282.46,475.5 282.54,475.9 282.62,475.6 282.7,475.9 282.78,475 282.86,475.3 282.94,475.6 283.01,476.1 283.09,476.1 283.17,475.5 283.25,475.7 283.33,475.6 283.41,476.2 283.49,476.2 283.57,475.6 283.65,475.7 283.72,476.1 283.8,475.9 283.88,475.4 283.96,475.8 284.04,475.5 284.12,475.2 284.2,475.6 284.28,475.6 284.36,475.9 284.44,475.3 284.51,476.1 284.59,476 284.67,475.7 284.75,476.1 284.83,475.4 284.91,475.9 284.99,475.5 285.07,475.8 285.15,475.8 285.22,475.7 285.3,476.3 285.38,476 285.46,475.8 285.54,475 285.62,475.4 285.7,475.5 285.78,476 285.86,475.4 285.93,475.3 286.01,475.4 286.09,474.9 286.17,476.1 286.25,476 286.33,475.8 286.41,476 286.49,475.7 286.57,475.5 286.64,475.7 286.72,475.7 286.8,475.6 286.88,475.4 286.96,475.9 287.04,475.9 287.12,475.3 287.2,475.8 287.28,476 287.36,475.6 287.43,475.8 287.51,475.7 287.59,475.7 287.67,475.5 287.75,475.4 287.83,476 287.91,476.1 287.99,475.2 288.07,475.9 288.14,476.2 288.22,476.3 288.3,475.7 288.38,475.9 288.46,476.3 288.54,476 288.62,476 288.7,475.4 288.78,475.6 288.85,475.7 288.93,476.1 289.01,475.8 289.09,475.5 289.17,475.6 289.25,475.4 289.33,475.7 289.41,475.5 289.49,475.6 289.56,475.9 289.64,475.3 289.72,475.6 289.8,475.4 289.88,476 289.96,476 290.04,475.8 290.12,476 290.2,475.5 290.28,475.6 290.35,475.3 290.43,475.5 290.51,476.1 290.59,475.4 290.67,475.9 290.75,475.9 290.83,475.7 290.91,475.7 290.99,475.4 291.06,474.8 291.14,475.6 291.22,475.2 291.3,475.8 291.38,475.6 291.46,475.9 291.54,475.8 291.62,475.3 291.7,475.6 291.77,475.6 291.85,476 291.93,475.2 292.01,475.8 292.09,475.9 292.17,475.7 292.25,475.5 292.33,475.5 292.41,475.2 292.48,476 292.56,475.8 292.64,475.2 292.72,475 292.8,475.9 292.88,475.7 292.96,476.2 293.04,476 293.12,476 293.2,475.7 293.27,476.1 293.35,475.4 293.43,475.7 293.51,475.8 293.59,475.4 293.67,475.8 293.75,476.1 293.83,475.7 293.91,475 293.98,475.7 294.06,475.5 294.14,475.8 294.22,475.8 294.3,475.6 294.38,476.5 294.46,476.1 294.54,475.9 294.62,475.8 294.69,475.3 294.77,474.9 294.85,475.5 294.93,475.6 295.01,475.5 295.09,475.2 295.17,476 295.25,475.9 295.33,475.7 295.4,475.6 295.48,476.3 295.56,475.6 295.64,476.2 295.72,475.5 295.8,475.4 295.88,476.4 295.96,475.6 296.04,475.7 296.12,475.9 296.19,475.4 296.27,475.1 296.35,475.6 296.43,476.1 296.51,476.2 296.59,476.1 296.67,476 296.75,475.4 296.83,475.6 296.9,475.7 296.98,475.4 297.06,475.7 297.14,475.7 297.22,476 297.3,475.9 297.38,475.7 297.46,476.1 297.54,475.2 297.61,475.7 297.69,475.9 297.77,475.4 297.85,476 297.93,475.4 298.01,475.7 298.09,475.1 298.17,475.9 298.25,475.8 298.32,476 298.4,476.1 298.48,475.6 298.56,476.1 298.64,475.6 298.72,475.9 298.8,475.4 298.88,476.5 298.96,475.6 299.04,475.7 299.11,475.7 299.19,475.9 299.27,475.2 299.35,475.9 299.43,475.6 299.51,475.8 299.59,475.8 299.67,475.7 299.75,475.5 299.82,476.1 299.9,475.9 299.98,476.2 300.06,475.6 300.14,476 300.22,476 300.3,475.5 300.38,475.7 300.46,475.6 300.53,475.8 300.61,475.6 300.69,475.7 300.77,476.1 300.85,475.7 300.93,475.8 301.01,475.8 301.09,475.6 301.17,475.9 301.25,476.1 301.32,475.4 301.4,475.2 301.48,475.8 301.56,475.4 301.64,475.6 301.72,475.9 301.8,476 301.88,475.8 301.96,475.9 302.03,475.8 302.11,475.8 302.19,476.1 302.27,475.5 302.35,476.1 302.43,476.1 302.51,475.4 302.59,475.5 302.67,475.3 302.74,475.7 302.82,475.9 302.9,475.4 302.98,475.8 303.06,475.8 303.14,476 303.22,475.6 303.3,476.5 303.38,475.6 303.45,476.4 303.53,475.5 303.61,476.2 303.69,475.5 303.77,475 303.85,475.8 303.93,476.1 304.01,475.1 304.09,475.9 304.17,476.1 304.24,475.3 304.32,476.6 304.4,476.2 304.48,476.1 304.56,476 304.64,476.4 304.72,475.5 304.8,475.4 304.88,475.8 304.95,475.9 305.03,476.2 305.11,475.6 305.19,476 305.27,475.5 305.35,475.4 305.43,475.7 305.51,476.4 305.59,476 305.66,475.3 305.74,475.7 305.82,475.3 305.9,476.4 305.98,475.8 306.06,475.8 306.14,476.2 306.22,475.9 306.3,475.4 306.37,475.6 306.45,475.9 306.53,475.6 306.61,475.4 306.69,476.1 306.77,475.6 306.85,475.4 306.93,476 307.01,475.3 307.09,475.8 307.16,475.4 307.24,475.5 307.32,475.7 307.4,475.8 307.48,475.9 307.56,475.7 307.64,475.7 307.72,475.3 307.8,475.8 307.87,475.6 307.95,475.2 308.03,475.6 308.11,475.6 308.19,475.2 308.27,475.7 308.35,475.6 308.43,475.5 308.51,475.8 308.58,476.1 308.66,476.2 308.74,475.8 308.82,475.4 308.9,475.4 308.98,475.2 309.06,475.5 309.14,475.9 309.22,476.2 309.29,475.9 309.37,475.8 309.45,476 309.53,475.5 309.61,476 309.69,475.6 309.77,475.5 309.85,476.3 309.93,475.9 310.01,475.4 310.08,475.5 310.16,475.7 310.24,476.1 310.32,476 310.4,475.7 310.48,475.4 310.56,475.6 310.64,475.8 310.72,475.7 310.79,475.5 310.87,476.3 310.95,476.1 311.03,475.7 311.11,475.4 311.19,475.4 311.27,476 311.35,475.7 311.43,476 311.5,475.9 311.58,475.7 311.66,475.9 311.74,475.9 311.82,476.1 311.9,476.2 311.98,475.8 312.06,475.7 312.14,475.6 312.21,476 312.29,476 312.37,475.4 312.45,475.6 312.53,475.5 312.61,475.9 312.69,476 312.77,476.1 312.85,475.4 312.93,476.1 313,476.3 313.08,476 313.16,475.4 313.24,475.7 313.32,475.7 313.4,475.7 313.48,475.8 313.56,475.8 313.64,476.2 313.71,475.2 313.79,475.8 313.87,475.4 313.95,476.2 314.03,475.6 314.11,476.1 314.19,476.2 314.27,475.7 314.35,475.4 314.42,475.3 314.5,475.3 314.58,475.8 314.66,475.5 314.74,475.9 314.82,475.9 314.9,475.7 314.98,475.8 315.06,475.5 315.13,476.3 315.21,475.4 315.29,475.9 315.37,475.3 315.45,475.4 315.53,476.1 315.61,475.8 315.69,475.5 315.77,476 315.85,476 315.92,475.9 316,475.5 316.08,475.5 316.16,475.9 316.24,475.5 316.32,475.3 316.4,475.5 316.48,476 316.56,476 316.63,475.7 316.71,475.5 316.79,475.6 316.87,475.9 316.95,476.1 317.03,475.4 317.11,475.8 317.19,475.2 317.27,476.1 317.34,475.9 317.42,476 317.5,475.2 317.58,475.4 317.66,475.9 317.74,476.4 317.82,475.4 317.9,475.7 317.98,476.1 318.06,476.2 318.13,475.6 318.21,475.8 318.29,475.7 318.37,475.6 318.45,475.9 318.53,475.8 318.61,475.6 318.69,475.8 318.77,475.8 318.84,475.6 318.92,476.4 319,475.4 319.08,475.6 319.16,476 319.24,475.8 319.32,475.4 319.4,475.6 319.48,476.3 319.55,476.1 319.63,475.7 319.71,475.2 319.79,475.5 319.87,475.8 319.95,475.6 320.03,475.8 320.11,475.9 320.19,475.6 320.26,476.4 320.34,475.4 320.42,475.6 320.5,475.9 320.58,476 320.66,476.1 320.74,475.7 320.82,475.7 320.9,475.7 320.98,475.2 321.05,476.4 321.13,476 321.21,476 321.29,475.5 321.37,475.8 321.45,476.1 321.53,475.7 321.61,475.6 321.69,475.3 321.76,475.7 321.84,475.9 321.92,475.9 322,476 322.08,475.6 322.16,475.5 322.24,475.8 322.32,475.8 322.4,475.3 322.47,475.7 322.55,475.6 322.63,476.1 322.71,476 322.79,476.4 322.87,476.2 322.95,475.7 323.03,475.4 323.11,475.9 323.18,476.1 323.26,475.7 323.34,475.4 323.42,475.8 323.5,475.5 323.58,475.8 323.66,476.2 323.74,476.1 323.82,475.8 323.9,475.1 323.97,475.6 324.05,475.8 324.13,475.7 324.21,475.7 324.29,475.9 324.37,475.8 324.45,475.8 324.53,475.5 324.61,475.3 324.68,475.4 324.76,475.9 324.84,475.6 324.92,476 325,476.1 325.08,475.7 325.16,475.6 325.24,475.8 325.32,475.5 325.39,475.5 325.47,475.5 325.55,475.8 325.63,476.2 325.71,475.2 325.79,475.9 325.87,475.5 325.95,475.6 326.03,475.9 326.1,475.2 326.18,475.6 326.26,475.8 326.34,475.9 326.42,476.1 326.5,476.2 326.58,475.6 326.66,475.9 326.74,475.9 326.82,475.6 326.89,475.9 326.97,475.6 327.05,476 327.13,475.9 327.21,475.5 327.29,476 327.37,475.6 327.45,475.6 327.53,475.8 327.6,476.3 327.68,476.2 327.76,476.1 327.84,476.2 327.92,475.5 328,476 328.08,476.2 328.16,475.9 328.24,475.8 328.31,476.3 328.39,475.6 328.47,475.6 328.55,476 328.63,475.5 328.71,476.3 328.79,476 328.87,475.8 328.95,475.8 329.02,475.4 329.1,475.9 329.18,476.1 329.26,475.7 329.34,475.7 329.42,475.6 329.5,475.9 329.58,475.7 329.66,476 329.74,475.6 329.81,476 329.89,476 329.97,475.4 330.05,476 330.13,475.8 330.21,475.6 330.29,475.9 330.37,475.5 330.45,476 330.52,475.5 330.6,476.3 330.68,476.2 330.76,475.8 330.84,475.3 330.92,475.3 331,476 331.08,475.8 331.16,475.9 331.23,476.4 331.31,475.6 331.39,475.9 331.47,475.4 331.55,475.7 331.63,475.9 331.71,476 331.79,475.8 331.87,475.6 331.94,475.9 332.02,474.9 332.1,475.7 332.18,476.1 332.26,475.8 332.34,475.4 332.42,475.7 332.5,475.9 332.58,476 332.66,476 332.73,476.2 332.81,475.9 332.89,475.7 332.97,476 333.05,475.3 333.13,475.7 333.21,475.9 333.29,475.8 333.37,475.3 333.44,476.3 333.52,475.7 333.6,475 333.68,475.5 333.76,476.1 333.84,475.8 333.92,475.9 334,474.9 334.08,476 334.15,475.9 334.23,475.9 334.31,476.2 334.39,476.8 334.47,475.9 334.55,475.6 334.63,475.9 334.71,475.6 334.79,475.6 334.86,475.6 334.94,476.3 335.02,475.3 335.1,475.5 335.18,475.5 335.26,475.8 335.34,475.8 335.42,476 335.5,475.7 335.58,475.5 335.65,476 335.73,475.5 335.81,475.9 335.89,475.6 335.97,475.8 336.05,475.5 336.13,475.2 336.21,475.7 336.29,475.9 336.36,475.9 336.44,475.6 336.52,475.9 336.6,475.5 336.68,475.7 336.76,475.5 336.84,476 336.92,476.1 337,476 337.07,475.7 337.15,476 337.23,475.6 337.31,476.4 337.39,476 337.47,475.8 337.55,476.4 337.63,476 337.71,476.3 337.78,475.8 337.86,475.9 337.94,475.6 338.02,476.1 338.1,476.3 338.18,476 338.26,475.8 338.34,475.8 338.42,475.7 338.5,475.4 338.57,475.9 338.65,475.9 338.73,476.1 338.81,476 338.89,475.5 338.97,475.7 339.05,476.6 339.13,475.4 339.21,476.4 339.28,475.9 339.36,475.5 339.44,475.8 339.52,475.6 339.6,475.5 339.68,475.7 339.76,476.2 339.84,475.7 339.92,476 339.99,476.5 340.07,475.9 340.15,475.6 340.23,475.8 340.31,475.8 340.39,475.3 340.47,475.7 340.55,475.5 340.63,475.7 340.71,475.3 340.78,475.9 340.86,475.4 340.94,475.2 341.02,475.9 341.1,475.5 341.18,476.2 341.26,475.7 341.34,475.6 341.42,476.1 341.49,476.4 341.57,475.8 341.65,475.9 341.73,475.7 341.81,475.7 341.89,475.5 341.97,475.3 342.05,475.7 342.13,476.3 342.2,475.6 342.28,475.7 342.36,475.8 342.44,475.3 342.52,475.7 342.6,475.9 342.68,475.7 342.76,476.3 342.84,475.5 342.91,475.8 342.99,475.3 343.07,475.6 343.15,475.7 343.23,475.7 343.31,476.2 343.39,475.8 343.47,475.7 343.55,475.5 343.63,475.7 343.7,475.6 343.78,475.6 343.86,476 343.94,475.7 344.02,475.9 344.1,476.2 344.18,476.3 344.26,475.5 344.34,475.4 344.41,475.4 344.49,476.1 344.57,475.3 344.65,475.3 344.73,476 344.81,475.6 344.89,475.3 344.97,475.8 345.05,475.4 345.12,476 345.2,475.9 345.28,475.5 345.36,475.8 345.44,475.8 345.52,475.8 345.6,476.1 345.68,475.3 345.76,475.8 345.83,475.9 345.91,475.9 345.99,475.8 346.07,476.1 346.15,475.5 346.23,475.9 346.31,475.6 346.39,476.1 346.47,476.1 346.55,476.1 346.62,475.7 346.7,476.2 346.78,475.5 346.86,475.9 346.94,475.5 347.02,475.9 347.1,475.5 347.18,476.1 347.26,476.1 347.33,475.6 347.41,476 347.49,475.5 347.57,476 347.65,475.6 347.73,476.1 347.81,476.3 347.89,475.4 347.97,475.9 348.04,475.5 348.12,475.7 348.2,476.3 348.28,475.7 348.36,475.5 348.44,475.4 348.52,475.3 348.6,475.7 348.68,475.8 348.75,475.8 348.83,476.2 348.91,475.6 348.99,475.6 349.07,475.7 349.15,476 349.23,475.6 349.31,476 349.39,475.4 349.47,476 349.54,476 349.62,475.9 349.7,476.1 349.78,476.1 349.86,475.9 349.94,476.6 350.02,475.2 350.1,475.7 350.18,475.7 350.25,476.1 350.33,475.8 350.41,475.8 350.49,475.8 350.57,476.3 350.65,475.8 350.73,476.4 350.81,475.9 350.89,476.1 350.96,476 351.04,475.9 351.12,475.6 351.2,475.4 351.28,475.8 351.36,476.1 351.44,475.4 351.52,476.2 351.6,476 351.67,475.9 351.75,476 351.83,475.4 351.91,475.7 351.99,475.5 352.07,475.9 352.15,475.5 352.23,475.9 352.31,475.9 352.39,475.7 352.46,475.7 352.54,475.6 352.62,475.9 352.7,476.3 352.78,475.9 352.86,476.7 352.94,475.9 353.02,476.1 353.1,475.6 353.17,476.7 353.25,475.2 353.33,475.9 353.41,476.3 353.49,475.7 353.57,475.7 353.65,475.7 353.73,475.1 353.81,476.1 353.88,475.7 353.96,475.8 354.04,476 354.12,475.7 354.2,475.4 354.28,476.1 354.36,475.7 354.44,475.5 354.52,475.6 354.59,476.3 354.67,475.7 354.75,475.9 354.83,475.4 354.91,475.9 354.99,475.2 355.07,476.2 355.15,475.7 355.23,476.1 355.31,475.3 355.38,475.3 355.46,476.1 355.54,475.6 355.62,475.8 355.7,476.3 355.78,476.1 355.86,475.8 355.94,475.7 356.02,475.9 356.09,475.7 356.17,475.7 356.25,475.7 356.33,476.2 356.41,475.8 356.49,475.7 356.57,476.3 356.65,475.3 356.73,475.4 356.8,475.8 356.88,475.2 356.96,476.1 357.04,476.1 357.12,476 357.2,476 357.28,475.3 357.36,475.8 357.44,475.8 357.51,475.7 357.59,475.3 357.67,475.8 357.75,475.9 357.83,475.7 357.91,475.4 357.99,475.9 358.07,475.4 358.15,475.7 358.23,475.9 358.3,475.7 358.38,475.2 358.46,475.9 358.54,475.4 358.62,475.7 358.7,475.8 358.78,475.8 358.86,475.6 358.94,475.6 359.01,475.7 359.09,475.6 359.17,476.1 359.25,476 359.33,476.1 359.41,475.9 359.49,475.9 359.57,475.9 359.65,475.7 359.72,476.1 359.8,475.9 359.88,475.6 359.96,475.3 360.04,475.8 360.12,475.5 360.2,475.4 360.28,476.1 360.36,475.8 360.44,476.2 360.51,476 360.59,475.7 360.67,476.2 360.75,475.7 360.83,475.9 360.91,475.9 360.99,475.7 361.07,476.1 361.15,476.4 361.22,475.8 361.3,476.1 361.38,475.9 361.46,476.2 361.54,476.1 361.62,476.2 361.7,476.2 361.78,476.1 361.86,476.1 361.93,475.8 362.01,474.9 362.09,476 362.17,476.3 362.25,475.7 362.33,476.2 362.41,476.1 362.49,475.9 362.57,475.8 362.64,475.8 362.72,475.8 362.8,475.9 362.88,475.5 362.96,475.6 363.04,476 363.12,475.9 363.2,476.3 363.28,475.6 363.36,475.9 363.43,475.3 363.51,476 363.59,475.4 363.67,476.1 363.75,476.4 363.83,476.1 363.91,475.7 363.99,475.5 364.07,476.1 364.14,475.5 364.22,476 364.3,476 364.38,475.9 364.46,475.3 364.54,475.8 364.62,475.7 364.7,476.3 364.78,475.8 364.85,475.8 364.93,475.3 365.01,476.1 365.09,476.1 365.17,476.1 365.25,476 365.33,475.6 365.41,476.1 365.49,475.5 365.56,475.8 365.64,476.1 365.72,476 365.8,476.3 365.88,476.3 365.96,475.5 366.04,475.6 366.12,476.1 366.2,476 366.28,475.4 366.35,476.1 366.43,475.8 366.51,475.7 366.59,475.9 366.67,475.9 366.75,476 366.83,475.8 366.91,476.3 366.99,475.8 367.06,475.8 367.14,476.3 367.22,475.7 367.3,476.1 367.38,476.7 367.46,476.4 367.54,475.8 367.62,475.7 367.7,476 367.77,476.3 367.85,475.9 367.93,475.6 368.01,475.9 368.09,476.3 368.17,475.7 368.25,475.9 368.33,475.9 368.41,475.8 368.48,475.7 368.56,475.9 368.64,476.2 368.72,475.9 368.8,475.8 368.88,475.5 368.96,476.2 369.04,475.9 369.12,476.1 369.2,475.8 369.27,476 369.35,476.8 369.43,475.6 369.51,476.1 369.59,476.2 369.67,476.3 369.75,476.2 369.83,476.3 369.91,475.9 369.98,475.8 370.06,475.9 370.14,475.8 370.22,476.1 370.3,475.7 370.38,475.9 370.46,475.7 370.54,475.7 370.62,476 370.69,475.5 370.77,475.6 370.85,476 370.93,475.3 371.01,475.4 371.09,476.3 371.17,476.6 371.25,476.1 371.33,475.7 371.4,475.6 371.48,475.7 371.56,475.9 371.64,475.6 371.72,475.6 371.8,476 371.88,475.8 371.96,475.5 372.04,476.1 372.12,476.1 372.19,476.1 372.27,475.4 372.35,475.7 372.43,475.6 372.51,476 372.59,475.9 372.67,475.5 372.75,475.9 372.83,475.5 372.9,475.9 372.98,475.9 373.06,475.7 373.14,475.6 373.22,475.3 373.3,476 373.38,475.3 373.46,476.1 373.54,476.1 373.61,476.5 373.69,475.6 373.77,475.4 373.85,476.2 373.93,476 374.01,475.9 374.09,476.3 374.17,475.8 374.25,475.8 374.32,476 374.4,476.2 374.48,475.8 374.56,475.7 374.64,476.3 374.72,475.9 374.8,475.7 374.88,476.7 374.96,475.8 375.04,475.3 375.11,476.3 375.19,475.5 375.27,476 375.35,475.7 375.43,475.9 375.51,476.2 375.59,476.4 375.67,475.1 375.75,476.3 375.82,475.9 375.9,475.4 375.98,475.8 376.06,475.8 376.14,476.5 376.22,476.1 376.3,476.3 376.38,476.4 376.46,475.7 376.53,475.6 376.61,476.1 376.69,476.1 376.77,475.7 376.85,475.6 376.93,476.2 377.01,475.5 377.09,475.6 377.17,475.9 377.25,476.2 377.32,475.7 377.4,475.7 377.48,475.3 377.56,476 377.64,475.4 377.72,476 377.8,475.7 377.88,475.9 377.96,475.8 378.03,475.4 378.11,476.1 378.19,475.6 378.27,475.9 378.35,475.9 378.43,476.1 378.51,475.8 378.59,476.5 378.67,475.9 378.74,475.6 378.82,475.6 378.9,476.4 378.98,476.2 379.06,476 379.14,475.3 379.22,476 379.3,475.9 379.38,475.9 379.45,475.8 379.53,476.1 379.61,475.8 379.69,475.7 379.77,475.5 379.85,476.1 379.93,475.6 380.01,475.3 380.09,475.6 380.17,475.7 380.24,476.6 380.32,475.5 380.4,475.3 380.48,475.5 380.56,475.7 380.64,475.6 380.72,474.9 380.8,476.1 380.88,476 380.95,475.5 381.03,475.8 381.11,476.5 381.19,475.8 381.27,475.8 381.35,476.2 381.43,475.7 381.51,475.8 381.59,476.4 381.66,475.7 381.74,475.2 381.82,475.3 381.9,476.2 381.98,476.3 382.06,475.8 382.14,475.8 382.22,476.3 382.3,476.1 382.37,475.4 382.45,475.8 382.53,475.5 382.61,475.9 382.69,475.5 382.77,476 382.85,476 382.93,476.2 383.01,476.5 383.09,476 383.16,476.3 383.24,476 383.32,475.8 383.4,475.8 383.48,475.7 383.56,476 383.64,475.9 383.72,475.5 383.8,475.9 383.87,475.9 383.95,476.6 384.03,476.2 384.11,475.5 384.19,476.1 384.27,476.2 384.35,475.6 384.43,476.3 384.51,475.6 384.58,475.9 384.66,476.1 384.74,476.5 384.82,475.5 384.9,476.4 384.98,476.3 385.06,475.6 385.14,476.3 385.22,475.7 385.29,475.9 385.37,476 385.45,476.2 385.53,476.1 385.61,475.8 385.69,476.2 385.77,475.7 385.85,475.8 385.93,475.7 386.01,475.8 386.08,475.7 386.16,475.8 386.24,475.6 386.32,475.8 386.4,475.8 386.48,476.2 386.56,476.4 386.64,475.9 386.72,475.6 386.79,476.2 386.87,476.4 386.95,476 387.03,475.8 387.11,475.6 387.19,476 387.27,476.2 387.35,475.9 387.43,475.7 387.5,475.9 387.58,475.6 387.66,476 387.74,475.6 387.82,475.4 387.9,476.2 387.98,476.2 388.06,475.7 388.14,474.9 388.21,475.7 388.29,475.9 388.37,475.5 388.45,475.9 388.53,476.4 388.61,476.2 388.69,475.5 388.77,476.4 388.85,476.3 388.93,475.6 389,475.8 389.08,475.5 389.16,476.2 389.24,476.1 389.32,476 389.4,476.3 389.48,476 389.56,475.9 389.64,475.6 389.71,475.9 389.79,476 389.87,475.7 389.95,475.5 390.03,475.6 390.11,475.8 390.19,476 390.27,476 390.35,476.3 390.42,475.9 390.5,475.9 390.58,475.4 390.66,475.8 390.74,475.6 390.82,475.5 390.9,476.5 390.98,476.1 391.06,476 391.13,475.8 391.21,476.2 391.29,475.6 391.37,475.6 391.45,475.7 391.53,475.7 391.61,476.2 391.69,475.5 391.77,476.1 391.85,476.5 391.92,475.8 392,475.8 392.08,476.1 392.16,476.4 392.24,476.2 392.32,475.9 392.4,476.7 392.48,475.6 392.56,475.6 392.63,475.9 392.71,475.6 392.79,475.9 392.87,476.2 392.95,475.7 393.03,475.7 393.11,476.2 393.19,476.3 393.27,476.2 393.34,475.5 393.42,476 393.5,475 393.58,476.1 393.66,475.7 393.74,475.8 393.82,476 393.9,475.6 393.98,476.2 394.05,475.9 394.13,476.3 394.21,476.6 394.29,475.9 394.37,476.2 394.45,476.3 394.53,475.7 394.61,475.9 394.69,475.8 394.77,475.3 394.84,475.8 394.92,475.7 395,476.3 395.08,475.6 395.16,475.6 395.24,476.2 395.32,475.7 395.4,475.8 395.48,476 395.55,475.9 395.63,475.1 395.71,476.1 395.79,476 395.87,475.9 395.95,475.9 396.03,476.5 396.11,475.7 396.19,475.6 396.26,475.3 396.34,476.1 396.42,476.3 396.5,475.7 396.58,476.2 396.66,475.9 396.74,476 396.82,475.8 396.9,476 396.97,475.7 397.05,476.2 397.13,475.1 397.21,475.6 397.29,476.1 397.37,476.2 397.45,475.9 397.53,476 397.61,476.1 397.69,475.5 397.76,475.6 397.84,476.2 397.92,475.7 398,475.9 398.08,475.6 398.16,476.1 398.24,475.2 398.32,475.9 398.4,475.3 398.47,476 398.55,475.5 398.63,475.9 398.71,475.4 398.79,475.9 398.87,476.2 398.95,476.2 399.03,476.1 399.11,475.7 399.18,475.8 399.26,475.9 399.34,475.6 399.42,475.4 399.5,476.2 399.58,475.6 399.66,475.2 399.74,476.1 399.82,476.1 399.9,475.8 399.97,475.8 400.05,476.1 400.13,475.9 400.21,475.4 400.29,475.6 400.37,476.1 400.45,476.4 400.53,476.2 400.61,475.8 400.68,476.1 400.76,476.2 400.84,475.7 400.92,476 401,476 401.08,475.8 401.16,475.4 401.24,475.8 401.32,475.7 401.39,475.9 401.47,475.4 401.55,476.3 401.63,476.2 401.71,476.1 401.79,475.3 401.87,475.4 401.95,476.2 402.03,476 402.1,475.7 402.18,475.9 402.26,475.6 402.34,476 402.42,476.4 402.5,475.7 402.58,475.5 402.66,476.4 402.74,476.5 402.82,476 402.89,476.5 402.97,475.8 403.05,476.3 403.13,475.7 403.21,476 403.29,475.9 403.37,475.7 403.45,476 403.53,476.2 403.6,475.6 403.68,476.4 403.76,475.5 403.84,476.1 403.92,476.1 404,475.8 404.08,475.8 404.16,475.7 404.24,476.4 404.31,476.2 404.39,475.8 404.47,475.8 404.55,475.9 404.63,475.5 404.71,475.9 404.79,475.6 404.87,475.6 404.95,475.8 405.02,476 405.1,475.7 405.18,475.8 405.26,475.7 405.34,476.2 405.42,475.7 405.5,475.4 405.58,476 405.66,475.8 405.74,476 405.81,475.6 405.89,476.5 405.97,475.4 406.05,475.7 406.13,476 406.21,475.8 406.29,475.5 406.37,475.8 406.45,475.7 406.52,475.5 406.6,475.8 406.68,475.7 406.76,475.4 406.84,475.7 406.92,476.1 407,475.7 407.08,475.3 407.16,476 407.23,475.8 407.31,475.8 407.39,475.6 407.47,476 407.55,475.9 407.63,475.3 407.71,475.7 407.79,476.1 407.87,475.6 407.94,475.9 408.02,475.4 408.1,476.4 408.18,475.9 408.26,475.6 408.34,476.3 408.42,476.1 408.5,475.7 408.58,475.9 408.66,476 408.73,475.8 408.81,476.3 408.89,476.2 408.97,475.4 409.05,476.1 409.13,475.8 409.21,475.9 409.29,475.6 409.37,475.8 409.44,475.8 409.52,475.5 409.6,475.8 409.68,476.4 409.76,476.1 409.84,475.4 409.92,475.6 410,476 410.08,476.4 410.15,476.1 410.23,475.2 410.31,475.5 410.39,475.5 410.47,476.4 410.55,476.3 410.63,476.1 410.71,476.3 410.79,475.9 410.86,476.2 410.94,475.7 411.02,476 411.1,476.1 411.18,475.7 411.26,475.8 411.34,475.9 411.42,476 411.5,475.9 411.58,476.5 411.65,476.5 411.73,476.1 411.81,475.9 411.89,475.4 411.97,475.8 412.05,476.2 412.13,476 412.21,476.3 412.29,475.9 412.36,475.9 412.44,475.9 412.52,475.8 412.6,475.6 412.68,475.7 412.76,476.3 412.84,475.6 412.92,476.2 413,475.8 413.07,475.9 413.15,475.4 413.23,475.9 413.31,475.9 413.39,476 413.47,475.6 413.55,475.8 413.63,476 413.71,475.6 413.78,475.2 413.86,475.4 413.94,475.4 414.02,476.1 414.1,475.9 414.18,475.8 414.26,476.4 414.34,475.4 414.42,476.3 414.5,475.8 414.57,476.3 414.65,475.9 414.73,475.6 414.81,475.7 414.89,476.2 414.97,476.1 415.05,475.6 415.13,475.9 415.21,475.9 415.28,475.6 415.36,476.7 415.44,475.8 415.52,475.5 415.6,475.3 415.68,475.7 415.76,476.1 415.84,475.6 415.92,475.3 415.99,476.1 416.07,476.1 416.15,475.9 416.23,476 416.31,476.5 416.39,476.6 416.47,476.3 416.55,476.1 416.63,475.8 416.7,476.1 416.78,475.8 416.86,475.5 416.94,475 417.02,475.6 417.1,476.2 417.18,475.6 417.26,475.9 417.34,475.8 417.42,475.6 417.49,475.7 417.57,476.3 417.65,476.3 417.73,475.8 417.81,475.7 417.89,475.3 417.97,475.7 418.05,476 418.13,476.1 418.2,476.1 418.28,476.3 418.36,476.3 418.44,476.1 418.52,475.9 418.6,476.1 418.68,475.9 418.76,476 418.84,476 418.91,476 418.99,475.8 419.07,475.9 419.15,476.7 419.23,475.8 419.31,475.9 419.39,476.1 419.47,475.9 419.55,476.1 419.63,475.9 419.7,476.2 419.78,475.7 419.86,475.8 419.94,476.4 420.02,476.1 420.1,475.7 420.18,475.8 420.26,475.9 420.34,476.3 420.41,476.1 420.49,475.9 420.57,475.8 420.65,475.9 420.73,476.2 420.81,476 420.89,476.1 420.97,476.3 421.05,476.2 421.12,476.2 421.2,476.4 421.28,475.8 421.36,475.7 421.44,475.6 421.52,476.1 421.6,476.1 421.68,475.8 421.76,476.1 421.83,476 421.91,476 421.99,476.4 422.07,475.5 422.15,476.4 422.23,476.4 422.31,475.7 422.39,476.2 422.47,475.6 422.55,475.8 422.62,475.8 422.7,476 422.78,476.3 422.86,476.3 422.94,475.9 423.02,475.9 423.1,476.3 423.18,476.3 423.26,476.2 423.33,475.9 423.41,475.8 423.49,475.6 423.57,476 423.65,475.5 423.73,475.7 423.81,475.5 423.89,476.2 423.97,475.7 424.04,475.6 424.12,476.5 424.2,475.6 424.28,475.8 424.36,475.6 424.44,475.9 424.52,475.6 424.6,476 424.68,476.1 424.75,475.7 424.83,475.7 424.91,476.3 424.99,475.5 425.07,475.6 425.15,475.6 425.23,476.1 425.31,475.5 425.39,475.8 425.47,475.6 425.54,475.9 425.62,476 425.7,476.1 425.78,476.1 425.86,475.6 425.94,476.2 426.02,476.1 426.1,475.8 426.18,476 426.25,476.5 426.33,476.1 426.41,476 426.49,475.4 426.57,475.7 426.65,476.2 426.73,476.3 426.81,476.1 426.89,475.8 426.96,476.2 427.04,475.8 427.12,476.3 427.2,475.8 427.28,475.6 427.36,476.7 427.44,475.9 427.52,475.8 427.6,475.8 427.67,475.9 427.75,475.9 427.83,475.8 427.91,475.9 427.99,475.9 428.07,475.4 428.15,475.6 428.23,475.6 428.31,476.1 428.39,476.1 428.46,475.6 428.54,476.2 428.62,475.6 428.7,476.3 428.78,475.3 428.86,475.5 428.94,476.1 429.02,476.1 429.1,476.5 429.17,475.9 429.25,475.6 429.33,475.7 429.41,476 429.49,475.3 429.57,475.8 429.65,475.8 429.73,476 429.81,475.7 429.88,475.1 429.96,475.8 430.04,476.4 430.12,475.9 430.2,475.3 430.28,475.6 430.36,476.1 430.44,475.8 430.52,476.4 430.59,475.7 430.67,476.2 430.75,476.1 430.83,476.1 430.91,476.1 430.99,475.4 431.07,475.5 431.15,476 431.23,475.9 431.31,475.4 431.38,476 431.46,476.1 431.54,476.2 431.62,475.5 431.7,475.9 431.78,475.9 431.86,476.1 431.94,476.2 432.02,475.6 432.09,476.2 432.17,476.1 432.25,476.4 432.33,476.3 432.41,476.1 432.49,476.1 432.57,476.4 432.65,476.1 432.73,476 432.8,476.7 432.88,475.8 432.96,476 433.04,476.3 433.12,476 433.2,475.8 433.28,475.9 433.36,475.9 433.44,475.9 433.51,475.7 433.59,476.3 433.67,476.1 433.75,475.8 433.83,475.9 433.91,476.3 433.99,476 434.07,476.1 434.15,475.9 434.23,476.4 434.3,476.4 434.38,476.4 434.46,476 434.54,475.2 434.62,475.6 434.7,475.6 434.78,475.9 434.86,475.4 434.94,475.8 435.01,475.9 435.09,475.6 435.17,476.3 435.25,476.6 435.33,476.3 435.41,475.5 435.49,475.7 435.57,475.9 435.65,476 435.72,476 435.8,475.8 435.88,476.2 435.96,475.7 436.04,476.2 436.12,475.5 436.2,476 436.28,476.2 436.36,476 436.44,476.2 436.51,476 436.59,476.5 436.67,476.1 436.75,475.9 436.83,475.8 436.91,476.1 436.99,475.6 437.07,476.5 437.15,476 437.22,476.1 437.3,475.9 437.38,476 437.46,475.5 437.54,475.9 437.62,476.2 437.7,475.2 437.78,475.9 437.86,476 437.93,475.7 438.01,476.1 438.09,476 438.17,475.7 438.25,476.3 438.33,476.1 438.41,475.7 438.49,475.4 438.57,476 438.64,476 438.72,475.6 438.8,476.4 438.88,476.2 438.96,476.2 439.04,476.6 439.12,476.8 439.2,476.1 439.28,475.7 439.36,475.7 439.43,475.6 439.51,476.8 439.59,476 439.67,475.5 439.75,476.2 439.83,476.3 439.91,475.8 439.99,475.9 440.07,475.7 440.14,475.9 440.22,475.6 440.3,475.7 440.38,475.9 440.46,476.1 440.54,475.7 440.62,476.1 440.7,475.6 440.78,475.6 440.85,475.7 440.93,476.3 441.01,475.8 441.09,475.8 441.17,475.7 441.25,476.4 441.33,476.1 441.41,476 441.49,475.5 441.56,476.1 441.64,475.7 441.72,475.9 441.8,475.3 441.88,475.8 441.96,476.4 442.04,476 442.12,475.9 442.2,475.6 442.28,475.7 442.35,476 442.43,476.3 442.51,475.9 442.59,476 442.67,475.5 442.75,475.7 442.83,476.4 442.91,476.7 442.99,476.1 443.06,475.9 443.14,476.2 443.22,476.1 443.3,475.6 443.38,475.7 443.46,476.5 443.54,475.8 443.62,475.9 443.7,476 443.77,475.8 443.85,475.8 443.93,475.2 444.01,475.9 444.09,476.2 444.17,476.1 444.25,475.7 444.33,475.3 444.41,475.8 444.48,475.8 444.56,475.9 444.64,476.1 444.72,475.9 444.8,476.3 444.88,475.7 444.96,475.8 445.04,475.9 445.12,476.2 445.2,476 445.27,476.1 445.35,475.8 445.43,476 445.51,475.8 445.59,475.7 445.67,475.6 445.75,476.3 445.83,476 445.91,476.3 445.98,475.6 446.06,476.2 446.14,475.5 446.22,476.1" fill="none" stroke="#ff7f0e" stroke-width="1.6" stroke-linejoin="round" stroke-linecap="butt"/>
<rect x="32.3" y="279.8" width="433.6" height="215.2" fill="none" stroke="#4c4c4c" stroke-width="1"/>
<line x1="51.7" y1="495" x2="51.7" y2="497.9" stroke="#333" stroke-width="1.1"/>
<text class="tk" x="51.7" y="506.6" text-anchor="middle">0</text>
<line x1="130.62" y1="495" x2="130.62" y2="497.9" stroke="#333" stroke-width="1.1"/>
<text class="tk" x="130.62" y="506.6" text-anchor="middle">1000</text>
<line x1="209.54" y1="495" x2="209.54" y2="497.9" stroke="#333" stroke-width="1.1"/>
<text class="tk" x="209.54" y="506.6" text-anchor="middle">2000</text>
<line x1="288.46" y1="495" x2="288.46" y2="497.9" stroke="#333" stroke-width="1.1"/>
<text class="tk" x="288.46" y="506.6" text-anchor="middle">3000</text>
<line x1="367.38" y1="495" x2="367.38" y2="497.9" stroke="#333" stroke-width="1.1"/>
<text class="tk" x="367.38" y="506.6" text-anchor="middle">4000</text>
<line x1="446.3" y1="495" x2="446.3" y2="497.9" stroke="#333" stroke-width="1.1"/>
<text class="tk" x="446.3" y="506.6" text-anchor="middle">5000</text>
<line x1="29.4" y1="490.3" x2="32.3" y2="490.3" stroke="#333" stroke-width="1.1"/>
<text class="tk" x="26.7" y="493.05" text-anchor="end">0.0</text>
<line x1="29.4" y1="458.92" x2="32.3" y2="458.92" stroke="#333" stroke-width="1.1"/>
<text class="tk" x="26.7" y="461.67" text-anchor="end">0.5</text>
<line x1="29.4" y1="427.53" x2="32.3" y2="427.53" stroke="#333" stroke-width="1.1"/>
<text class="tk" x="26.7" y="430.28" text-anchor="end">1.0</text>
<line x1="29.4" y1="396.14" x2="32.3" y2="396.14" stroke="#333" stroke-width="1.1"/>
<text class="tk" x="26.7" y="398.89" text-anchor="end">1.5</text>
<line x1="29.4" y1="364.76" x2="32.3" y2="364.76" stroke="#333" stroke-width="1.1"/>
<text class="tk" x="26.7" y="367.51" text-anchor="end">2.0</text>
<line x1="29.4" y1="333.38" x2="32.3" y2="333.38" stroke="#333" stroke-width="1.1"/>
<text class="tk" x="26.7" y="336.12" text-anchor="end">2.5</text>
<line x1="29.4" y1="301.99" x2="32.3" y2="301.99" stroke="#333" stroke-width="1.1"/>
<text class="tk" x="26.7" y="304.74" text-anchor="end">3.0</text>
<text x="248.5" y="517.3" text-anchor="middle">Iterations</text>
<text transform="translate(10 388.6) rotate(-90)" text-anchor="middle">Loss</text>
<rect x="382.3" y="283.5" width="80.2" height="26.1" rx="1.5" fill="#fff" fill-opacity="0.8" stroke="#cfcfcf" stroke-width="0.8"/>
<line x1="384.5" y1="290.3" x2="401.1" y2="290.3" stroke="#1f77b4" stroke-width="1.25"/>
<line x1="384.5" y1="302" x2="401.1" y2="302" stroke="#ff7f0e" stroke-width="1.25"/>
<text x="406.9" y="293.3">Generator</text>
<text x="406.9" y="305">Discriminator</text>
</g>
<text class="cap" x="236.5" y="268" text-anchor="middle">(<tspan>a</tspan>)</text>
<text class="cap" x="236.5" y="543.5" text-anchor="middle">(<tspan>b</tspan>)</text>
</svg>
</body>
</html>
